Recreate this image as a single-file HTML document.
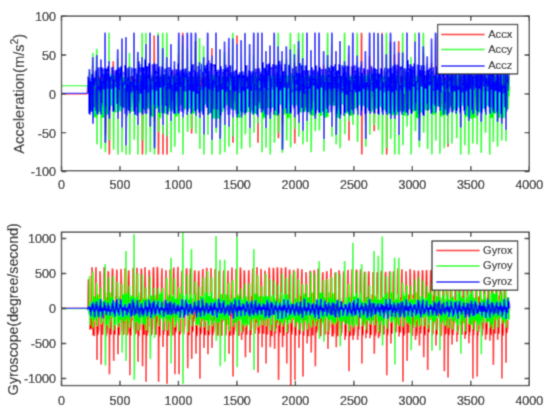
<!DOCTYPE html>
<html><head><meta charset="utf-8"><style>
html,body{margin:0;padding:0;background:#fff;}
svg{display:block;}
text{font-family:"Liberation Sans",Arial,sans-serif;fill:#0d0d0d;stroke:#0d0d0d;stroke-width:0.2px;}
.tk text{font-size:12.5px;}
.lg text{font-size:11.1px;}
.yl{font-size:14.2px;}
.d path{fill:none;stroke-width:1.6;vector-effect:non-scaling-stroke;stroke-linejoin:miter;}
</style></head><body>
<svg width="550" height="410" viewBox="0 0 550 410">
<defs>
<filter id="bl" x="0" y="0" width="550" height="410" filterUnits="userSpaceOnUse"><feConvolveMatrix order="3" kernelMatrix="1 4 1 4 16 4 1 4 1" divisor="36" edgeMode="duplicate"/></filter>
<clipPath id="c1"><rect x="61.5" y="16.1" width="467.79999999999995" height="154.6"/></clipPath>
<clipPath id="c2"><rect x="61.5" y="232.15" width="467.79999999999995" height="153.4"/></clipPath>
</defs>
<g filter="url(#bl)">
<rect width="550" height="410" fill="#fff"/>
<g class="d" clip-path="url(#c1)">
<path d="M1 -0.00H222" transform="translate(61.500 93.850) scale(0.11695 -0.38850)" stroke="#ff0000" style="stroke-width:1.25"/><path d="M222 0l1 14 1 0 1-3 1 7 1-7 1 7 1-7 1-2 1 9 1-7 1 2 1-4 1 6 1-7 1 9 1-2 1 15 1-12 1-48 1 2 1 13 1 33 1-8 1 10 1-7 1-3 1 4 1 3 1 5 1 0 1 1 1-17 1 4 1 7 1-12 1 9 1 9 1-3 1-11 1 17 1-3 1-10 1 14 1 9 1 36 1-29 1-95 1 2 1 24 1 52 1-24 1 23 1-13 1 18 1-11 1 13 1-5 1-26 1-1 1 0 1 22 1-20 1 12 1-15 1 36 1-2 1 2 1 1 1-22 1 14 1 4 1-2 1 4 1-4 1-7 1-10 1 8 1 13 1 35 1-28 1-68 1 1 1 12 1 56 1-10 1-3 1-31 1 15 1-4 1-2 1 5 1 5 1-2 1-21 1 50 1-18 1 18 1-17 1 13 1-32 1 24 1-36 1 36 1-6 1-11 1-21 1 40 1-8 1 11 1-30 1-11 1 48 1-23 1 17 1-16 1-9 1-36 1 1 1 11 1 33 1-6 1 10 1 7 1-18 1 4 1-3 1-8 1 23 1-34 1 37 1-20 1-20 1 13 1 30 1 7 1-21 1-21 1 30 1-37 1 0 1 28 1 11 1-19 1 24 1-14 1-25 1 4 1 8 1-10 1 42 1 27 1-29 1-149 1 6 1 48 1 47 1 25 1-20 1 18 1 14 1-37 1 5 1 3 1-7 1 16 1 18 1-30 1 28 1-7 1 16 1-42 1 24 1 1 1 25 1-50 1 21 1 19 1-40 1 41 1-27 1 36 1 0 1-11 1 2 1 34 1-27 1-198 1 8 1 70 1 122 1-30 1 13 1 17 1-9 1-29 1 38 1-32 1 26 1-41 1 0 1 47 1-1 1-32 1 25 1-18 1 19 1-13 1-10 1 8 1 6 1-6 1-19 1 24 1-5 1-28 1 0 1 13 1 37 1-36 1 34 1 42 1-34 1-85 1 1 1 16 1 31 1 31 1-35 1-8 1-7 1 10 1 13 1-13 1-10 1 0 1 37 1 3 1-4 1 8 1-18 1 0 1 24 1-50 1 15 1 7 1 28 1-18 1 0 1-15 1 33 1-28 1 28 1-34 1-16 1 16 1-13 1 25 1 22 1-18 1-81 1 3 1 25 1 36 1 34 1 1 1-5 1 5 1-2 1-48 1 50 1-37 1 7 1 30 1-14 1-29 1 38 1-20 1 5 1 0 1 16 1-9 1-36 1 39 1-29 1 34 1-17 1-9 1 2 1 3 1-13 1 39 1 0 1 9 1 52 1-42 1-99 1 2 1 16 1 26 1 21 1-29 1-4 1 43 1 1 1-31 1 16 1 12 1-42 1 7 1-7 1 45 1-7 1-21 1-10 1-6 1 20 1 18 1-23 1 33 1-10 1 2 1-42 1 50 1-17 1-20 1 35 1-1 1 40 1-32 1-140 1 5 1 41 1 58 1-15 1 43 1-7 1 4 1-5 1-15 1 14 1-38 1 35 1-35 1 0 1 42 1-42 1 0 1 15 1-7 1 29 1-19 1 26 1-44 1 50 1-48 1 29 1 19 1-23 1 2 1-9 1-55 1 2 1 18 1 41 1 5 1-31 1 37 1-37 1 30 1 3 1 17 1-39 1 0 1-2 1 41 1 0 1 0 1-11 1-22 1-14 1 47 1 0 1-47 1-3 1 48 1-48 1 0 1 30 1-12 1 20 1 9 1 0 1-18 1-8 1 17 1-1 1 0 1 24 1-22 1-56 1 1 1 11 1 46 1-5 1 4 1-38 1 15 1-17 1 39 1-28 1 33 1-37 1 30 1 1 1 7 1-19 1-11 1-15 1 41 1-40 1-1 1 5 1 11 1 5 1 23 1-44 1 0 1 40 1-2 1 32 1-26 1-102 1 3 1 29 1 38 1-12 1 45 1 2 1-23 1 26 1-36 1 3 1 11 1-4 1-15 1 18 1-13 1-12 1 48 1-16 1 8 1 4 1-16 1-21 1 4 1-13 1 50 1-42 1 10 1 24 1-13 1-14 1 35 1-21 1-29 1 15 1 35 1 23 1-27 1-196 1 8 1 70 1 90 1 23 1-24 1 24 1 8 1-8 1-24 1 7 1 24 1-3 1-12 1-25 1 42 1-1 1-23 1-1 1 25 1-38 1-11 1 36 1-36 1 34 1 3 1 12 1-47 1 50 1 47 1-38 1-94 1 1 1 18 1 63 1-44 1 39 1 5 1-36 1 30 1-40 1 32 1-28 1 1 1 13 1 1 1-19 1 6 1 14 1 21 1-39 1 24 1-1 1-20 1 39 1-18 1-26 1 23 1 9 1 12 1-10 1 4 1-42 1 19 1 45 1 58 1-46 1-128 1 3 1 26 1 23 1 31 1-19 1 19 1-31 1 22 1 20 1-32 1-10 1 42 1-29 1 22 1-32 1 47 1-36 1-13 1 49 1 0 1-34 1 5 1 8 1-27 1 22 1-17 1-7 1 29 1 10 1-30 1 37 1-34 1 69 1 75 1-60 1-160 1 3 1 32 1 46 1-17 1 21 1-21 1 15 1 30 1-33 1-12 1 50 1-30 1 16 1-17 1-18 1-1 1 8 1 13 1 27 1-25 1 22 1 5 1-29 1-5 1 21 1-21 1 1 1 33 1-41 1 41 1-24 1 20 1-16 1-180 1 8 1 70 1 91 1 16 1-35 1 10 1 17 1-27 1 21 1 4 1 16 1 2 1 7 1 0 1-49 1 41 1 8 1-50 1 0 1 30 1-30 1 0 1 4 1 16 1 5 1-3 1-14 1 35 1-37 1 23 1-24 1 29 1 16 1-31 1 1 1 14 1-11 1-173 1 8 1 70 1 90 1 23 1-8 1 17 1-50 1 47 1-9 1 6 1-13 1-20 1 4 1 28 1-7 1-6 1-24 1 14 1-20 1 41 1-16 1-24 1 9 1 30 1 10 1-5 1-41 1 1 1 27 1 17 1-16 1-11 1 16 1-13 1-175 1 8 1 70 1 111 1-10 1-29 1 50 1-11 1 11 1 0 1-49 1 24 1-25 1 43 1-43 1 17 1-14 1 25 1 6 1-34 1 0 1 5 1 12 1 5 1-22 1 50 1-41 1-9 1 29 1 10 1-19 1 14 1 0 1 28 1-22 1-83 1 2 1 22 1 19 1 3 1-3 1 0 1 45 1-2 1 7 1 0 1-28 1-13 1 41 1-28 1 27 1-20 1-25 1 14 1-18 1 50 1-49 1 6 1-6 1 3 1 10 1-14 1 48 1 0 1 19 1-24 1-72 1 2 1 15 1 18 1 15 1-4 1 20 1 11 1-37 1 12 1 23 1-13 1-11 1-13 1 30 1-9 1 8 1-12 1 5 1-29 1 46 1-33 1-3 1 38 1-25 1-18 1 23 1-6 1-16 1-3 1 30 1-34 1 41 1 15 1 50 1-40 1-94 1 2 1 15 1 34 1 1 1 1 1 24 1-25 1 12 1-2 1 15 1-17 1-33 1 34 1-27 1 25 1 17 1-39 1-10 1 36 1-1 1 7 1-32 1-9 1 3 1 37 1-6 1-31 1 23 1-16 1-11 1 84 1 79 1-5 1-199 1 2 1 21 1 49 1-3 1 22 1-24 1 5 1 5 1-9 1-27 1 5 1 45 1-24 1 23 1 1 1-12 1-16 1-22 1 40 1 6 1 1 1-47 1 12 1-1 1 23 1-33 1 10 1-11 1 39 1-2 1-37 1 4 1 43 1-12 1 5 1-1 1-22 1 11 1-9 1-52 1 2 1 17 1 54 1-35 1-5 1 30 1-21 1 17 1 18 1-41 1 30 1 17 1-7 1-43 1 31 1 19 1-39 1 8 1 31 1-30 1-6 1-6 1 42 1-6 1-27 1-12 1-5 1 19 1 4 1 26 1-16 1-4 1-9 1-116 1 5 1 46 1 69 1 5 1 21 1-8 1-23 1-19 1 36 1 13 1-49 1 44 1 3 1-8 1 6 1-4 1-25 1-11 1 14 1 16 1-19 1 33 1-49 1 25 1-16 1 5 1 30 1-18 1 7 1-4 1 2 1-11 1 54 1 68 1-54 1-102 1 1 1 9 1 15 1-10 1 45 1-40 1 42 1 2 1-2 1 2 1-33 1 9 1-5 1 27 1-29 1 7 1-2 1 13 1-17 1 30 1-48 1 3 1 17 1 3 1 15 1-13 1-27 1 23 1-14 1 41 1-20 1 25 1-20 1-65 1 2 1 16 1 12 1 21 1 22 1-33 1 15 1 1 1 6 1 17 1-43 1-4 1 45 1-27 1 15 1-15 1 13 1-14 1-16 1 42 1-13 1-5 1 19 1-2 1-17 1-27 1 31 1-3 1 14 1-6 1-3 1-14 1 12 1-10 1-108 1 4 1 42 1 91 1-5 1 2 1-21 1 1 1-15 1 12 1 26 1-3 1 3 1-35 1 35 1-50 1 12 1 38 1-29 1-13 1-2 1 44 1 0 1-41 1 1 1 5 1-10 1 2 1-7 1 45 1-7 1 2 1 10 1-17 1-56 1 1 1 13 1 9 1 28 1 22 1-22 1-6 1 11 1-33 1 0 1 0 1 23 1 0 1 0 1 4 1 6 1-33 1 40 1-26 1-9 1 2 1-7 1 22 1-16 1 44 1-26 1-1 1 4 1 9 1 14 1-49 1-1 1 65 1 59 1-47 1-173 1 6 1 45 1 74 1 21 1-2 1-32 1-14 1-2 1 18 1-8 1 15 1 15 1-2 1-11 1 20 1 3 1 0 1-30 1 30 1-32 1 30 1-26 1-5 1 7 1-24 1 18 1 11 1 0 1 8 1 13 1-34 1-16 1 52 1 46 1-37 1-105 1 3 1 22 1 69 1-50 1 28 1 11 1 4 1-25 1 32 1-50 1 47 1-5 1-42 1 25 1 5 1 0 1 19 1-14 1 13 1-24 1-19 1 17 1-11 1-10 1 34 1-18 1 33 1-50 1 0 1 0 1 42 1 14 1-20 1-106 1 3 1 35 1 40 1 19 1-20 1 6 1-7 1-1 1 5 1 35 1-36 1 5 1 12 1-16 1 3 1-13 1 14 1 6 1-20 1 38 1-38 1 50 1-28 1 13 1 15 1-3 1-47 1 23 1-20 1 35 1-38 1 20 1 3 1 23 1 2 1-14 1-1 1-11 1-60 1 2 1 20 1 31 1 12 1-10 1 11 1 2 1 0 1 19 1-35 1 2 1-9 1 33 1 4 1-31 1 12 1-11 1 9 1-1 1 28 1-11 1-31 1 2 1 25 1 10 1-25 1 30 1-5 1-31 1-14 1 40 1 0 1 25 1 59 1-47 1-118 1 2 1 22 1 41 1-16 1 27 1 7 1-42 1 12 1 13 1 23 1-43 1-5 1 34 1-8 1-17 1 29 1-2 1-36 1 50 1-31 1 23 1-9 1 8 1-41 1 41 1-23 1 32 1-4 1-9 1-21 1 15 1 25 1-20 1-156 1 6 1 57 1 63 1 15 1 29 1-13 1-31 1 44 1 0 1-50 1 40 1-24 1 17 1-33 1 18 1 32 1-32 1-9 1 20 1-3 1-1 1-19 1 14 1 30 1-36 1 16 1 20 1 0 1 0 1-11 1-26 1 5 1 63 1 75 1-60 1-129 1 2 1 17 1 54 1-40 1 50 1-12 1-8 1-30 1 50 1 0 1-49 1 18 1-19 1 0 1 33 1-25 1 16 1-24 1 38 1 0 1-29 1 26 1-32 1 14 1 33 1 0 1 0 1-42 1 42 1-25 1-15 1 32 1-6 1-6 1 24 1-19 1-61 1 2 1 14 1 60 1 0 1-13 1-7 1-19 1 5 1-6 1 3 1 2 1-15 1 12 1-1 1-11 1 39 1-39 1 3 1 7 1 24 1-33 1 49 1-42 1 42 1-41 1 29 1-5 1-18 1-13 1 45 1 41 1-33 1-83 1 1 1 16 1 40 1 21 1-13 1-18 1-9 1 16 1-9 1 25 1-25 1 33 1-8 1-42 1 19 1-4 1-14 1 29 1-30 1 0 1 0 1 47 1-17 1 4 1-10 1 23 1-24 1-10 1 17 1-22 1 14 1-9 1-13 1 41 1-16 1 20 1-16 1-88 1 3 1 30 1 75 1-29 1 10 1-18 1-1 1 11 1-5 1 29 1-46 1 21 1 17 1 11 1-49 1 35 1 5 1 10 1-20 1 20 1-47 1 40 1-39 1 25 1-15 1 32 1-24 1-22 1 5 1 20 1 21 1 4 1 17 1-24 1-66 1 1 1 13 1 18 1 25 1-6 1 5 1-21 1 22 1-6 1-4 1 12 1-4 1-19 1 9 1 20 1-42 1 0 1 0 1 12 1 3 1 4 1 4 1 8 1 12 1-39 1 30 1-23 1 6 1 16 1-28 1 10 1 29 1 38 1-31 1-171 1 6 1 57 1 61 1 8 1 38 1-50 1 33 1-7 1-19 1-7 1 24 1 0 1 3 1 10 1-14 1 1 1 6 1 1 1-21 1-5 1 36 1-41 1 27 1-14 1 34 1-11 1-19 1-8 1 1 1 29 1-16 1 26 1 44 1-35 1-84 1 1 1 15 1 28 1 25 1-43 1 0 1 10 1 35 1-42 1 39 1-23 1-9 1 30 1 1 1-8 1 6 1-34 1 45 1-15 1-35 1 37 1-20 1-9 1 42 1-40 1 39 1-35 1-14 1 7 1-1 1 31 1 1 1-13 1-87 1 4 1 30 1 73 1-3 1-22 1 23 1-41 1 0 1 37 1-4 1 10 1-2 1-7 1 14 1-43 1 43 1-13 1 5 1 8 1-22 1-26 1-2 1 25 1 25 1-25 1 12 1-9 1-2 1-20 1 28 1-32 1-2 1 17 1 11 1-9 1-60 1 2 1 21 1 29 1 15 1 1 1 23 1-35 1 18 1-17 1 24 1-7 1 17 1-43 1-7 1 48 1-27 1-1 1 22 1-8 1-8 1 10 1 0 1 8 1-36 1 37 1 4 1-20 1-28 1 38 1-27 1 24 1-14 1 30 1 45 1-36 1-74 1 1 1 9 1 35 1 0 1 18 1-30 1 14 1-10 1 26 1-37 1-13 1 29 1 11 1-14 1 24 1-23 1-12 1-15 1 38 1 10 1-9 1 7 1 4 1-40 1-10 1 6 1 17 1 27 1-19 1-31 1 21 1 11 1-11 1-129 1 6 1 51 1 101 1-14 1 7 1-2 1-1 1-29 1 8 1 3 1 4 1-2 1-1 1-23 1 0 1 16 1 31 1-29 1 32 1-50 1 7 1 43 1 0 1-16 1-22 1 14 1 20 1 4 1-34 1 18 1 17 1 45 1-36 1-133 1 4 1 35 1 34 1 16 1 25 1-29 1 23 1-2 1 8 1-7 1 16 1-19 1 19 1-7 1-7 1-6 1 1 1 4 1-6 1-29 1 40 1-26 1 15 1-14 1 29 1 6 1-14 1 14 1-10 1-10 1 9 1-34 1 43 1 6 1-19 1-73 1 2 1 20 1 66 1-49 1 4 1 45 1-18 1 3 1-18 1 22 1-8 1-17 1 29 1 0 1-21 1 16 1-38 1 30 1 2 1-29 1 39 1 2 1-44 1 1 1 3 1 1 1 45 1-50 1 33 1 17 1-8 1 36 1-29 1-73 1 1 1 14 1 13 1 41 1 5 1-33 1-17 1 22 1-20 1 28 1-5 1-2 1 27 1-7 1-16 1 23 1-26 1-24 1 4 1-4 1 47 1-40 1 24 1 5 1 10 1-32 1 36 1-27 1 6 1 21 1-17 1 13 1 40 1-32 1-176 1 6 1 58 1 72 1 11 1-5 1-20 1 0 1 32 1-20 1 38 1-3 1-10 1-37 1 4 1 38 1-33 1 34 1 5 1-43 1 34 1-1 1-21 1 26 1-43 1 50 1-3 1-24 1-23 1 30 1 6 1-11 1 38 1 58 1-46 1-113 1 2 1 20 1 66 1-24 1-20 1-6 1 21 1-5 1 27 1 3 1-23 1 22 1-2 1-20 1 27 1-16 1 16 1-1 1-45 1 36 1-28 1-10 1 30 1 15 1-21 1 15 1-20 1 29 1-16 1-20 1-4 1 27 1 15 1-18 1-85 1 3 1 25 1 51 1 14 1 6 1-4 1 6 1-26 1-4 1-20 1 29 1-8 1-2 1-4 1 13 1-15 1 15 1 20 1-24 1-20 1 45 1-27 1-7 1 5 1 14 1-34 1 15 1 24 1-22 1 33 1-39 1 33 1 32 1 70 1-56 1-143 1 3 1 27 1 32 1 16 1 1 1 1 1 21 1 2 1-14 1-34 1 47 1-49 1 50 1-22 1 0 1-20 1-4 1-4 1 0 1 20 1 30 1-12 1 3 1-32 1 29 1-6 1-17 1 20 1-20 1 7 1 14 1-12 1 18 1-15 1-60 1 2 1 18 1 23 1-10 1 0 1 9 1 36 1-34 1 39 1-15 1-15 1 30 1-5 1-4 1-31 1 34 1-16 1 19 1-46 1-1 1 27 1-17 1-3 1 33 1-3 1-35 1 30 1 18 1-50 1 16 1 6 1 35 1 50 1-40 1-105 1 2 1 20 1 16 1 0 1 4 1 11 1 1 1-16 1 13 1 22 1-25 1 13 1-23 1 31 1-7 1-12 1 7 1-17 1 23 1-23 1 25 1-6 1-17 1 39 1-43 1 21 1-8 1-3 1 22 1-16 1-3 1 61 1 68 1-55 1-114 1 1 1 15 1 19 1 1 1 31 1 3 1-27 1-16 1 35 1-18 1 9 1-13 1 37 1-43 1 26 1 16 1-40 1-7 1 23 1 16 1-23 1-18 1 12 1 25 1-12 1 13 1 12 1-23 1 15 1 2 1 6 1-27 1 17 1-40 1 43 1 37 1-30 1-146 1 5 1 46 1 95 1 0 1-27 1 15 1-32 1-2 1 45 1-44 1 44 1-49 1 37 1 2 1-36 1 47 1 0 1-8 1-9 1 14 1-47 1 33 1-33 1 19 1 23 1-31 1 39 1-42 1 1 1 9 1 24 1 36 1-29 1-69 1 1 1 12 1 7 1 7 1-7 1 0 1 48 1-36 1 5 1 3 1 30 1 0 1-37 1 28 1-41 1 1 1 37 1-18 1-11 1 31 1-39 1 23 1-15 1 33 1-2 1-5 1-9 1-11 1 3 1-1 1 23 1-25 1 56 1 64 1-51 1-132 1 3 1 24 1 46 1-18 1-6 1 21 1-18 1-4 1 0 1 50 1-7 1-6 1-37 1 30 1-27 1 18 1 29 1-8 1-40 1 13 1 17 1-32 1 46 1-42 1 12 1 34 1-47 1-3 1 16 1 34 1 0 1-21 1 21 1 2 1-18 1-74 1 2 1 21 1 56 1-17 1-22 1 32 1 9 1-38 1 38 1-35 1 33 1 11 1-50 1 14 1 24 1-15 1-23 1 50 1-8 1-20 1-6 1 33 1-27 1-14 1 13 1-15 1 44 1-44 1 41 1-23 1 13 1 32 1-25 1-78 1 2 1 18 1 40 1 24 1-44 1 21 1 19 1-10 1-14 1 28 1-40 1 40 1-21 1-22 1 40 1-30 1 29 1 4 1-10 1 0 1-10 1 20 1-1 1-23 1-20 1 0 1 3 1 23 1 11 1-43 1 32 1 11 1-30 1 37 1-6 1-11 1 25 1-21 1-65 1 2 1 15 1 23 1 10 1-1 1 17 1-8 1-1 1-26 1 16 1-7 1-12 1 5 1 45 1-44 1 44 1-14 1-18 1-11 1-5 1 10 1-12 1 30 1 4 1-5 1 21 1-16 1-5 1-5 1-9 1 5 1 26 1 12 1 51 1-41 1-182 1 6 1 54 1 94 1-40 1 3 1 5 1 25 1 10 1-41 1 18 1 18 1 5 1-18 1 0 1 25 1-7 1-41 1 48 1-34 1-6 1 15 1 0 1 3 1 4 1-12 1-13 1 10 1-8 1-2 1-7 1 50 1 34 1-31 1-79 1 1 1 15 1 52 1-42 1 27 1-20 1 43 1-31 1 2 1 2 1 1 1 17 1-2 1 11 1-15 1 15 1-10 1-40 1 34 1-8 1 17 1-10 1 10 1-42 1 14 1 4 1-9 1 6 1 20 1-21 1 35 1-2 1-48 1 20 1-20 1 50 1 16 1-24 1-67 1 1 1 14 1 44 1-13 1 5 1-8 1-8 1 33 1-9 1 13 1-19 1 5 1 11 1-23 1 9 1 20 1-39 1 6 1-17 1 28 1 20 1-7 1-18 1-11 1-12 1 28 1-12 1-16 1 0 1 0 1 5 1 35 1 44 1 79 1-5 1-308 1 8 1 70 1 84 1-12 1 14 1-8 1 12 1 28 1 4 1-19 1-2 1 2 1-7 1 4 1-4 1-7 1 33 1-3 1-20 1 14 1-36 1 45 1-19 1-4 1-6 1-19 1-2 1 12 1 2 1 3 1 19 1 30 1-24 1-107 1 4 1 32 1 54 1-17 1 3 1 4 1 7 1-16 1-6 1 41 1-9 1 9 1-21 1-3 1-8 1-9 1 20 1-20 1 21 1 10 1-31 1 0 1 20 1-12 1 4 1 4 1 34 1-28 1-22 1 41 1 0 1 13 1 49 1-39 1-100 1 2 1 19 1 44 1-8 1-3 1 32 1-23 1 11 1 12 1-39 1 11 1 16 1 7 1 5 1-16 1 2 1-29 1-5 1 36 1-24 1 32 1-32 1 9 1-17 1 12 1 15 1-21 1 30 1-32 1 10 1 11 1-31 1 45 1-34 1 46 1 52 1-41 1-158 1 5 1 43 1 63 1 4 1 7 1-22 1 26 1-17 1-2 1 33 1 0 1-28 1-6 1 30 1-46 1 11 1-3 1-8 1 29 1 2 1-8 1 15 1-18 1 12 1 13 1-39 1 44 1-31 1-19 1 38 1-3 1-3 1 18 1 41 1-34 1-85 1 2 1 15 1 61 1-50 1 50 1-50 1 41 1 9 1-10 1-35 1 22 1-25 1-2 1 0 1 4 1-1 1 23 1-11 1 12 1-17 1-7 1 43 1-35 1 15 1 24 1-17 1-14 1-7 1 31 1 7 1 34 1 79 1-5 1-192 1 2 1 18 1 41 1-18 1 9 1-5 1 2 1 35 1-26 1 4 1-7 1-21 1 26 1-2 1-24 1 32 1-22 1-1 1 9 1-16 1 46 1-8 1-3 1-5 1-26 1 3 1 19 1-9 1 4 1-11 1-6 1 34 1-9 1 11 1-15 1-177 1 8 1 70 1 115 1-35 1 24 1-31 1 9 1 9 1 0 1 21 1-16 1 20 1-9 1-10 1 21 1-39 1-4 1 17 1 16 1-28 1 39 1-4 1-22 1 29 1-9 1-28 1 13 1 2 1 2 1 8 1-32 1 68 1 67 1-54 1-107 1 2 1 11 1 9 1-2 1 24 1-23 1 9 1 26 1-20 1 3 1-11 1 15 1 1 1 4 1-28 1 29 1-2 1 23 1-43 1 16 1-1 1 23 1-3 1 6 1-3 1-41 1 2 1 44 1-15 1-8 1 30 1 50 1-40 1-88 1 1 1 12 1 30 1 28 1-6 1-27 1-17 1 2 1 48 1-44 1 7 1 8 1 29 1-1 1-49 1 50 1 0 1-42 1 42 1-44 1 12 1 7 1 19 1-2 1 8 1-37 1 37 1-8 1-42 1 26 1-8 1-12 1 68 1 68 1-54 1-157 1 4 1 34 1 57 1 23 1 1 1-10 1-40 1 18 1 32 1-5 1 5 1-3 1-40 1 32 1 10 1 1 1-10 1-39 1-1 1 50 1-36 1 25 1 1 1 2 1-37 1 17 1-11 1 17 1 15 1-43 1 36 1 31 1-24 1-66 1 2 1 13 1 16 1 10 1 20 1 4 1 8 1-38 1-3 1 41 1 0 1-36 1 33 1-39 1 41 1-41 1 25 1-33 1 38 1-34 1 6 1 30 1-5 1-11 1 0 1-13 1 29 1-26 1 34 1 2 1-4 1 4 1 11 1 55 1-44 1-92 1 1 1 12 1 34 1-21 1 3 1 9 1 21 1-16 1 18 1 9 1-50 1 49 1 1 1-24 1 2 1-9 1-11 1 9 1 26 1-43 1 35 1 5 1 5 1-25 1-16 1 1 1 41 1-40 1 30 1-31 1 31 1-16 1 15 1-12 1-41 1 1 1 11 1 56 1-15 1 6 1 8 1-14 1-19 1 8 1 26 1-26 1-19 1 22 1-14 1 10 1 21 1-22 1 28 1-41 1 10 1-16 1 13 1 20 1 1 1-24 1-6 1-7 1 23 1 3 1-21 1 18 1 22 1-18 1 20 1-16 1-65 1 2 1 18 1 46 1 18 1-41 1 41 1-29 1-16 1-5 1 31 1-28 1 47 1-35 1 24 1-24 1 8 1-19 1-4 1 8 1 14 1-13 1-9 1 19 1 22 1-13 1 2 1-27 1-3 1 49 1-27 1 11 1 28 1-22 1-95 1 4 1 27 1 75 1 0 1-40 1 36 1-25 1-16 1-5 1 15 1 23 1-8 1-9 1 18 1-22 1 15 1-6 1-26 1 13 1 12 1-11 1 26 1-12 1-28 1 42 1-1 1 9 1-33 1 10 1 10 1-1 1 3 1 20 1 52 1-42 1-89 1 1 1 12 1 7 1 4 1 46 1-48 1 28 1-7 1 0 1 6 1 6 1 12 1 3 1-10 1-36 1 21 1-4 1 10 1-31 1 0 1 7 1 31 1-5 1 1 1 16 1 0 1-14 1-29 1 21 1-28 1 27 1 9 1-12 1-51 1 2 1 15 1 11 1-1 1 22 1-17 1-5 1 25 1 25 1-26 1-24 1 0 1 0 1 0 1 11 1 27 1-8 1-14 1-3 1 12 1-25 1 41 1-31 1 40 1-5 1 5 1-29 1 8 1 21 1-50 1 16 1 33 1-3 1 40 1-32 1-88 1 2 1 18 1 64 1-8 1-6 1-11 1-20 1 2 1-4 1-3 1 47 1-47 1 25 1-19 1-6 1 30 1 20 1 0 1-45 1-5 1 34 1-33 1 6 1 39 1 4 1-33 1 0 1-16 1 40 1-3 1-5 1 27 1-21 1-61 1 1 1 13 1 8 1 50 1-25 1-14 1 1 1 24 1-19 1-1 1 0 1 34 1 0 1-3 1-22 1-25 1 48 1-18 1-22 1-2 1 24 1 5 1-27 1 7 1 7 1 2 1 16 1-37 1-3 1 31 1-25 1 47 1 46 1-37 1-80 1 2 1 10 1 37 1 0 1 5 1-17 1 31 1-12 1-24 1-14 1 41 1-2 1-32 1 30 1-33 1-4 1 38 1-19 1-19 1 3 1 2 1 26 1 3 1-27 1 6 1 29 1-36 1 43 1-3 1 4 1-11 1-22 1-11 1 44 1-10 1 33 1-27 1-67 1 1 1 12 1 47 1 11 1-26 1 16 1-35 1 2 1 9 1 26 1-27 1 26 1 2 1-23 1 29 1-9 1-29 1 21 1 1 1 6 1-39 1 20 1 5 1 16 1 0 1-35 1 25 1 11 1 11 1 47 1-38 1-192 1 7 1 61 1 97 1 0 1 15 1-49 1 49 1 0 1-50 1 0 1 34 1-30 1 19 1 3 1 24 1-41 1 24 1-28 1 3 1-7 1 49 1-30 1-10 1 28 1-28 1 40 1-50 1 50 1 0 1-6 1-7 1 31 1-25 1-71 1 2 1 15 1 13 1 7 1 27 1-36 1 42 1-42 1 18 1-10 1-8 1 21 1-21 1 12 1 25 1-37 1 41 1 8 1-40 1-9 1 49 1 1 1-44 1 10 1 6 1-3 1-8 1 11 1-15 1 43 1-50 1 42 1 5 1 1 1-48 1 26 1 17 1 37 1-29 1-63 1 1 1 8 1 3 1 31 1 2 1 11 1 2 1-42 1 46 1-26 1 9 1 17 1-48 1 40 1-27 1 8 1-22 1 49 1-7 1-16 1 10 1-36 1 4 1 30 1-24 1 28 1 6 1-6 1 6 1-44 1 31 1 21 1-19 1-79 1 2 1 23 1 70 1-9 1 9 1-18 1-7 1-25 1 16 1-16 1 47 1-1 1-8 1 3 1 5 1-26 1-9 1 4 1 22 1-1 1 10 1-6 1-23 1 15 1-5 1 23 1-37 1 19 1-31 1 30 1-22 1 16 1 20 1-16 1-45 1 1 1 10 1 5 1 34 1 15 1-21 1-12 1 32 1-44 1 30 1 16 1-9 1 5 1-15 1-22 1 32 1 2 1 7 1-11 1 11 1-14 1 14 1-27 1-23 1 3 1 47 1-49 1 7 1 39 1-47 1 39 1 7 1-16 1-56 1 2 1 14 1 10 1 4 1 42 1 1 1-45 1 40 1-41 1 3 1 24 1-28 1 49 1-25 1-2 1 16 1 12 1 0 1-25 1 12 1 2 1-9 1-2 1 21 1-35 1 21 1 9 1-44 1 48 1-32 1 26 1-3 1-13 1-51 1 2 1 14 1 20 1-2 1 35 1-39 1-5 1 23 1-18 1 12 1 33 1-50 1 34 1-12 1 26 1-30 1 28 1-34 1-8 1 6 1-8 1 48 1-22 1-10 1-15 1-3 1 40 1 8 1-40 1 21 1-12 1-7 1 29 1-15 1 16 1 34 1-27 1-73 1 2 1 14 1 12 1 16 1-18 1 0 1 50 1 0 1-50 1 36 1-33 1 8 1 7 1-12 1-6 1 36 1 14 1 0 1-50 1 0 1 38 1 3 1-21 1-13 1 26 1-33 1 28 1-28 1 49 1-23 1-18 1 37 1 39 1-31 1-88 1 2 1 19 1 64 1-16 1-20 1 25 1-7 1-17 1-6 1-8 1 12 1 37 1-16 1 14 1-2 1 4 1-11 1-34 1-5 1 33 1 5 1-17 1-14 1-1 1 2 1 42 1-20 1 11 1 2 1-31 1 29 1 9 1 3 1 47 1-37 1-89 1 2 1 14 1 47 1 13 1-42 1 14 1-14 1 21 1 4 1-8 1-25 1 0 1 32 1-32 1 48 1-48 1 37 1 0 1-2 1-35 1 49 1-49 1 50 1-50 1 23 1 24 1-1 1-25 1-19 1 31 1 3 1-10 1 26 1 46 1-37 1-93 1 2 1 17 1 56 1-34 1 7 1 7 1-1 1 25 1-34 1 15 1-5 1 1 1 12 1-25 1 16 1-27 1 24 1 15 1-28 1 34 1-9 1-36 1 41 1-16 1 24 1 1 1-45 1 35 1 34 1-27 1-73 1 2 1 14 1 39 1 20 1-27 1 24 1-46 1 26 1-1 1-24 1 29 1-22 1 33 1-4 1 11 1 2 1-34 1 33 1-43 1-5 1-1 1 10 1-9 1 18 1 3 1-22 1 21 1 26 1-2 1-24 1-21 1 36 1 10 1 40 1-32 1-93 1 3 1 20 1 18 1 38 1 9 1 1 1-1 1-4 1-18 1-1 1-20 1-1 1 0 1 16 1-19 1 43 1-4 1-41 1 10 1 35 1-42 1 44 1-28 1-12 1-5 1 26 1 18 1-7 1-11 1-2 1 24 1 0 1-32 1 12 1-9 1-82 1 4 1 30 1 27 1 7 1-1 1 22 1 4 1 18 1-16 1-23 1-11 1 22 1-22 1 18 1 19 1-9 1-22 1 13 1 31 1-33 1 25 1-30 1 38 1-4 1 4 1-6 1 6 1-1 1-17 1 7 1-19 1 30 1-13 1 32 1-25 1-108 1 3 1 32 1 29 1 42 1-25 1-14 1 3 1-1 1 7 1-12 1 0 1 39 1 11 1-11 1-3 1-14 1-18 1 46 1-43 1 30 1-14 1 24 1-4 1-14 1-29 1 49 1-41 1 15 1-7 1 9" transform="translate(61.500 93.850) scale(0.11695 -0.38850)" stroke="#ff0000" />
<path d="M1 21.20H222" transform="translate(61.500 93.850) scale(0.11695 -0.38850)" stroke="#00ff00" style="stroke-width:1.25"/><path d="M222 21l1-7 1 1 1-1 1 3 1-5 1 5 1 4 1-4 1 4 1 1 1-5 1-2 1 7 1-5 1 5 1 6 1 28 1-22 1-84 1 2 1 23 1 36 1 0 1 10 1-9 1 8 1 3 1-2 1-6 1 2 1 10 1-46 1-15 1-4 1 12 1-4 1-8 1 4 1 15 1 41 1-14 1 23 1-13 1 35 1 53 1-42 1-124 1 3 1 27 1 48 1-4 1 4 1 0 1 2 1-17 1 31 1-32 1 9 1 9 1 6 1-57 1-24 1-6 1 18 1-6 1-12 1 6 1 24 1 39 1 33 1-18 1-11 1 30 1-14 1-11 1-4 1 8 1 37 1 58 1-46 1-200 1 6 1 59 1 74 1-2 1-4 1 5 1-6 1 25 1 21 1-10 1-23 1-40 1-20 1-5 1 15 1-5 1-10 1 5 1 20 1 60 1-13 1 5 1-25 1 31 1-29 1 23 1 12 1-21 1 13 1-8 1-28 1 46 1-5 1 37 1-29 1-186 1 7 1 64 1 115 1-24 1 17 1 3 1-20 1 7 1 3 1-30 1-6 1 33 1-23 1-35 1-25 1-6 1 19 1-7 1-12 1 6 1 25 1 37 1-11 1 14 1-15 1 48 1-31 1 18 1 19 1-6 1-38 1 29 1 15 1 22 1-28 1-192 1 8 1 67 1 73 1 2 1-6 1 42 1-37 1 48 1-22 1 22 1-1 1-50 1-23 1-21 1-5 1 16 1-6 1-10 1 5 1 21 1 22 1 37 1-19 1 3 1 7 1 8 1-37 1 43 1-18 1 2 1 57 1 79 1-5 1-272 1 6 1 54 1 108 1-54 1 10 1 44 1 0 1 0 1-15 1 9 1-48 1 47 1-57 1-13 1-3 1 9 1-3 1-6 1 3 1 13 1 10 1 1 1 15 1 19 1-29 1 24 1-16 1 40 1-54 1 27 1-26 1 46 1-10 1-1 1-12 1-162 1 7 1 65 1 71 1 13 1-18 1 54 1-34 1-10 1-10 1 25 1-9 1-16 1 41 1-59 1-20 1-4 1 14 1-5 1-9 1 4 1 20 1 26 1 46 1 0 1-33 1 23 1-12 1 15 1-28 1 12 1-25 1 3 1 15 1 28 1 46 1-37 1-211 1 8 1 70 1 116 1-29 1-14 1 5 1-6 1 36 1-22 1 40 1-21 1-14 1-36 1-18 1-4 1 13 1-4 1-9 1 4 1 18 1 22 1 39 1-2 1-11 1-24 1 47 1 0 1-22 1 5 1-18 1 1 1-16 1 61 1 59 1-47 1-221 1 8 1 67 1 79 1-1 1 9 1-17 1 32 1-33 1 23 1 27 1-43 1 26 1-10 1-34 1-14 1-4 1 11 1-4 1-7 1 4 1 14 1 63 1 2 1-16 1-36 1 35 1 1 1-27 1-8 1 35 1 7 1 40 1-32 1-203 1 8 1 70 1 102 1-10 1 13 1-21 1 37 1-41 1-8 1 23 1-23 1 0 1 39 1-52 1-16 1-4 1 12 1-4 1-8 1 4 1 16 1 33 1 13 1 21 1-54 1 10 1 37 1 12 1 53 1-42 1-220 1 8 1 70 1 98 1-2 1-15 1 2 1 33 1-2 1-38 1 18 1-22 1 25 1-42 1-18 1-5 1 14 1-4 1-10 1 5 1 18 1 45 1-22 1 16 1 21 1-31 1 0 1 42 1-40 1 19 1-33 1 24 1-4 1-4 1 37 1-40 1 65 1 71 1-57 1-204 1 6 1 53 1 90 1 1 1-3 1-7 1-17 1 14 1 10 1-28 1 24 1-42 1-14 1-3 1 10 1-3 1-7 1 3 1 14 1 11 1 25 1-17 1 12 1-8 1 42 1 0 1-53 1 17 1 35 1 47 1-37 1-213 1 8 1 70 1 80 1 46 1-39 1 32 1-2 1-10 1-7 1-23 1 14 1-37 1-20 1-5 1 15 1-5 1-10 1 5 1 20 1 58 1 14 1-7 1 1 1-2 1 8 1 0 1-54 1 23 1 31 1-40 1-4 1-10 1 12 1 24 1 48 1 79 1-5 1-272 1 6 1 54 1 65 1 39 1-22 1 20 1-34 1 38 1-12 1-38 1 41 1-58 1-17 1-4 1 13 1-4 1-9 1 4 1 17 1 62 1-47 1 31 1-22 1-9 1 32 1-5 1 8 1 49 1 79 1-5 1-308 1 8 1 70 1 106 1-27 1 22 1 14 1-3 1-7 1-10 1 17 1 12 1-65 1-16 1-4 1 12 1-4 1-8 1 4 1 16 1 13 1 24 1-19 1 4 1 45 1-1 1 1 1-25 1-3 1-18 1 12 1 25 1-18 1 27 1 17 1-26 1-189 1 8 1 67 1 113 1-44 1 54 1-13 1-41 1 0 1 31 1-13 1 21 1-3 1-59 1-24 1-6 1 18 1-6 1-12 1 6 1 24 1 26 1 33 1-36 1 7 1 27 1 20 1-44 1-6 1 0 1 9 1 13 1-2 1 30 1 14 1-25 1-193 1 8 1 70 1 100 1 25 1-2 1-21 1 4 1-26 1 0 1 26 1-20 1-14 1 27 1-40 1-15 1-4 1 12 1-4 1-8 1 4 1 15 1 13 1 36 1-17 1 13 1 14 1-46 1 0 1 34 1 20 1 30 1 79 1-5 1-250 1 5 1 44 1 68 1 10 1-27 1-8 1 37 1-23 1 7 1 29 1-21 1-55 1-25 1-6 1 19 1-7 1-12 1 6 1 25 1 65 1-34 1 49 1 0 1 0 1-8 1-16 1-28 1 14 1-3 1 41 1-36 1 13 1-13 1-3 1 69 1 79 1-5 1-256 1 5 1 47 1 47 1 53 1-11 1-6 1 6 1 1 1-5 1 15 1-6 1-68 1-20 1-6 1 16 1-5 1-11 1 6 1 20 1 54 1 5 1 15 1-8 1-46 1 32 1 20 1 1 1-17 1-30 1 29 1-14 1 63 1 79 1-5 1-262 1 6 1 49 1 77 1 13 1-38 1 19 1 32 1 0 1-27 1 27 1-16 1-54 1-18 1-5 1 14 1-5 1-9 1 5 1 18 1 53 1-36 1 11 1-12 1 28 1-2 1 12 1-19 1 35 1-54 1 7 1 47 1-15 1 34 1-27 1-190 1 8 1 67 1 100 1-27 1 10 1 4 1 8 1 20 1-10 1-18 1 36 1-53 1-16 1-16 1-4 1 12 1-4 1-8 1 4 1 16 1 37 1-6 1-16 1 30 1-30 1 12 1-7 1 34 1 2 1-14 1-157 1 7 1 61 1 83 1-17 1 23 1-11 1-11 1 35 1 14 1-5 1 1 1-73 1-23 1-6 1 17 1-5 1-12 1 6 1 23 1 59 1-26 1 7 1 37 1-27 1 15 1-15 1 10 1 9 1-46 1 0 1 25 1-3 1 53 1 68 1-55 1-182 1 5 1 45 1 62 1 12 1 8 1 16 1-18 1-16 1-13 1 13 1 24 1 10 1-37 1-26 1-12 1-3 1 9 1-3 1-6 1 3 1 12 1 57 1 6 1 0 1-6 1-20 1 2 1 24 1-52 1 29 1 38 1 63 1-50 1-232 1 8 1 70 1 72 1 0 1 27 1-27 1 14 1 40 1-28 1 26 1-52 1 49 1 5 1-68 1-16 1-4 1 12 1-4 1-8 1 4 1 16 1 25 1 18 1-29 1 54 1-51 1 51 1-13 1-23 1-17 1 51 1-12 1-21 1-19 1 41 1-41 1 63 1 58 1-46 1-167 1 5 1 44 1 47 1 34 1-24 1-14 1 46 1-46 1 28 1-13 1 14 1 20 1-63 1-15 1-4 1 12 1-4 1-8 1 4 1 15 1 65 1-45 1 29 1-6 1-3 1 25 1-44 1 38 1 9 1-54 1 48 1 43 1-34 1-141 1 4 1 41 1 39 1 4 1 50 1-29 1 4 1 22 1-30 1-10 1 32 1-11 1-52 1-21 1-5 1 15 1-5 1-10 1 5 1 21 1 20 1 6 1 22 1-14 1 39 1-3 1-27 1 8 1-28 1 36 1 6 1-12 1 40 1 68 1-54 1-183 1 5 1 46 1 77 1-4 1-28 1 10 1 26 1 3 1-11 1-25 1 16 1-33 1-17 1-4 1 13 1-4 1-9 1 4 1 17 1 67 1-33 1 33 1-38 1 33 1-19 1 9 1-31 1 1 1 39 1-9 1 40 1 72 1-58 1-228 1 7 1 64 1 104 1 15 1-22 1-11 1-21 1 14 1-14 1 0 1 0 1 0 1 25 1-41 1-18 1-5 1 14 1-5 1-9 1 5 1 18 1 29 1-13 1 25 1-4 1 33 1-2 1-52 1 46 1-10 1-24 1 56 1 62 1-50 1-230 1 8 1 70 1 126 1-1 1-41 1 31 1-42 1 20 1 10 1 16 1-24 1-32 1-11 1-3 1 9 1-3 1-6 1 3 1 11 1 35 1-13 1 1 1-6 1 11 1-5 1 37 1-27 1-19 1 18 1 31 1-20 1 28 1-23 1-139 1 5 1 48 1 73 1-2 1-17 1 20 1 1 1-27 1 23 1 3 1-3 1-44 1-20 1-5 1 15 1-5 1-10 1 5 1 20 1 74 1-3 1 3 1-16 1-24 1 23 1 0 1 0 1-8 1-8 1-11 1 39 1-23 1 12 1 17 1-20 1-185 1 8 1 70 1 88 1 32 1 6 1-49 1 32 1-37 1 18 1 22 1-31 1 45 1-80 1-25 1-7 1 19 1-6 1-13 1 7 1 25 1 31 1 6 1 24 1 19 1-42 1-12 1 45 1-39 1 20 1 0 1 14 1 14 1 12 1 61 1-49 1-172 1 5 1 45 1 85 1 13 1-48 1-3 1 6 1-4 1 49 1-45 1 8 1 12 1 0 1-55 1-25 1-7 1 19 1-6 1-13 1 7 1 25 1 26 1 15 1-15 1 31 1-31 1 6 1-1 1-5 1 24 1 32 1 50 1-40 1-216 1 8 1 70 1 122 1-49 1 6 1 39 1-43 1 17 1 29 1-41 1 10 1 20 1-27 1-28 1-19 1-5 1 14 1-4 1-10 1 5 1 19 1 56 1-38 1 22 1 31 1-40 1 16 1 24 1-50 1 21 1-24 1 32 1-33 1 0 1 17 1 43 1 54 1-43 1-215 1 8 1 67 1 123 1-4 1-50 1 14 1 40 1-26 1 8 1-34 1 30 1-23 1-18 1-12 1-3 1 9 1-3 1-6 1 3 1 12 1 9 1 2 1 19 1-10 1 30 1-8 1-23 1 2 1-1 1 28 1-3 1-28 1 18 1 19 1-15 1-160 1 7 1 61 1 90 1-6 1 5 1 21 1-31 1 36 1-49 1 3 1 47 1-30 1-2 1-34 1-15 1-4 1 11 1-3 1-8 1 4 1 15 1 59 1-26 1 15 1-14 1-22 1 28 1 26 1-26 1 26 1 30 1 79 1-5 1-262 1 6 1 49 1 103 1-25 1-29 1 0 1 7 1-4 1 20 1-22 1 40 1-56 1-17 1-5 1 13 1-4 1-9 1 5 1 17 1 18 1 39 1 12 1-54 1 9 1 40 1-10 1 10 1-11 1-38 1 9 1 44 1-2 1-17 1 27 1-22 1-189 1 8 1 70 1 101 1 9 1-14 1 7 1-7 1-18 1-4 1 43 1 2 1-20 1-52 1-25 1-6 1 19 1-6 1-13 1 6 1 25 1 62 1 13 1-10 1-40 1 2 1 12 1 16 1-24 1-1 1-5 1 44 1-44 1 54 1-13 1 35 1-28 1-184 1 7 1 64 1 71 1-6 1 0 1 18 1-3 1-4 1 14 1 4 1-19 1 44 1-34 1-39 1-19 1-5 1 14 1-4 1-10 1 5 1 19 1 19 1 53 1-49 1 50 1-52 1 24 1-2 1-9 1 69 1 79 1-5 1-256 1 5 1 47 1 99 1-53 1 18 1-18 1 54 1-12 1-10 1 20 1-24 1-19 1 4 1-31 1-19 1-4 1 14 1-5 1-9 1 4 1 19 1 52 1-15 1 8 1 9 1-29 1 5 1 29 1 13 1-6 1-48 1 25 1-25 1 1 1 31 1 25 1-20 1-169 1 7 1 62 1 112 1-40 1 6 1 39 1-36 1 36 1-4 1-44 1 48 1-73 1-20 1-5 1 15 1-5 1-10 1 5 1 20 1 31 1 5 1 12 1-11 1 33 1-9 1-19 1 8 1 17 1 6 1-48 1 33 1 17 1 50 1-40 1-160 1 5 1 45 1 96 1-52 1 3 1 27 1-12 1-1 1-17 1 0 1 39 1-39 1-20 1-21 1-5 1 16 1-5 1-11 1 5 1 21 1 74 1-36 1 6 1 9 1 19 1-7 1-2 1-43 1 5 1 12 1 29 1 1 1 6 1-19 1-104 1 4 1 34 1 64 1-1 1 23 1-20 1-13 1 32 1 1 1-33 1 16 1-12 1-38 1-15 1-4 1 11 1-4 1-7 1 4 1 15 1 30 1-16 1 49 1-16 1 3 1-6 1-29 1 4 1 33 1-24 1-15 1 72 1 66 1-53 1-229 1 8 1 67 1 79 1 16 1 4 1-8 1 12 1 19 1-43 1 44 1-17 1-31 1-31 1-26 1-6 1 19 1-6 1-13 1 6 1 26 1 79 1-8 1-46 1 0 1 43 1-37 1 12 1-8 1 44 1-2 1 2 1 4 1-21 1-169 1 7 1 62 1 117 1-27 1-8 1 6 1 4 1 25 1-13 1 6 1-47 1 26 1 16 1-54 1-15 1-4 1 11 1-3 1-8 1 4 1 15 1 33 1 28 1-9 1-40 1 44 1 8 1-10 1-13 1 19 1 5 1-6 1-8 1 32 1-26 1-195 1 8 1 70 1 116 1-25 1-16 1 3 1 23 1-17 1 26 1 14 1 2 1-66 1-15 1-3 1 11 1-4 1-7 1 3 1 15 1 21 1 31 1-33 1 47 1-8 1-46 1 48 1 6 1-34 1 13 1 21 1-29 1 10 1-7 1 22 1-18 1-152 1 6 1 57 1 71 1 25 1-39 1 9 1 45 1-36 1 16 1-7 1-14 1 24 1-60 1-22 1-6 1 17 1-6 1-11 1 6 1 22 1 63 1-2 1-12 1-13 1-13 1 20 1 25 1 9 1-5 1-7 1 42 1 79 1-5 1-252 1 5 1 45 1 59 1 31 1-25 1-5 1 14 1 4 1-34 1 18 1 36 1-31 1-31 1-12 1-2 1 8 1-3 1-5 1 2 1 12 1 30 1 30 1-52 1 53 1-22 1-3 1 1 1-1 1 26 1-28 1 4 1 24 1-19 1-181 1 8 1 68 1 110 1-3 1 2 1-9 1-10 1 26 1-46 1 2 1 1 1 36 1-59 1-22 1-5 1 16 1-5 1-11 1 5 1 22 1 74 1-20 1 20 1-21 1 21 1-46 1 1 1 37 1-29 1-17 1 44 1-34 1 41 1 44 1-36 1-173 1 6 1 54 1 91 1-34 1 44 1-19 1-23 1 34 1 15 1-24 1 24 1-80 1-25 1-6 1 19 1-7 1-12 1 6 1 25 1 55 1 21 1-39 1 3 1 40 1-17 1-2 1-27 1 43 1-33 1 5 1 61 1 79 1-5 1-290 1 7 1 62 1 114 1 3 1-54 1 14 1 11 1 17 1-27 1-4 1-10 1 51 1-61 1-12 1-3 1 9 1-3 1-6 1 3 1 12 1 62 1-28 1-25 1 54 1-10 1-44 1 41 1-37 1 2 1 4 1 3 1 57 1 64 1-51 1-167 1 4 1 41 1 81 1-19 1-22 1 5 1 6 1-12 1 31 1-31 1 0 1 54 1-7 1-56 1-12 1-3 1 9 1-3 1-6 1 3 1 12 1 63 1-4 1-37 1 2 1 9 1 16 1 7 1-1 1-13 1-33 1 84 1 79 1-5 1-262 1 6 1 49 1 103 1-21 1-33 1 25 1 22 1-35 1-3 1 36 1-22 1-23 1-18 1-19 1-5 1 14 1-4 1-10 1 5 1 19 1 46 1 26 1-26 1-19 1 15 1 16 1-11 1 25 1-26 1-10 1 32 1 34 1 79 1-5 1-282 1 6 1 59 1 59 1 43 1 2 1-12 1-14 1 11 1 18 1-48 1 45 1-31 1-31 1-18 1-5 1 14 1-5 1-9 1 5 1 18 1 62 1 4 1-40 1 45 1-36 1-18 1 0 1 25 1 6 1-28 1-1 1 31 1 20 1 47 1-38 1-180 1 6 1 56 1 66 1 13 1-7 1 1 1 22 1 15 1-26 1 26 1-42 1-12 1 16 1-34 1-19 1-5 1 14 1-5 1-9 1 5 1 19 1 37 1-12 1 23 1 24 1-16 1 10 1 6 1-34 1 21 1-10 1 8 1 1 1-14 1-170 1 8 1 67 1 81 1 17 1-17 1 16 1 13 1-39 1 35 1-13 1-22 1-24 1-23 1-5 1 17 1-6 1-11 1 5 1 23 1 76 1-54 1 8 1 13 1-3 1-2 1 1 1-17 1 1 1-1 1 43 1-29 1 38 1 9 1-22 1-129 1 5 1 43 1 72 1-27 1 13 1 11 1-17 1-9 1 53 1-43 1 37 1-4 1-59 1-17 1-5 1 13 1-4 1-9 1 5 1 17 1 25 1 44 1-9 1 3 1 6 1 0 1-8 1-46 1 35 1-12 1-18 1 41 1 39 1-32 1-141 1 5 1 42 1 42 1 6 1-7 1 5 1 49 1-44 1 44 1-2 1-30 1 32 1-50 1-26 1-23 1-6 1 17 1-5 1-12 1 6 1 23 1 43 1-6 1 33 1 6 1 0 1-41 1 41 1-45 1 5 1 16 1 7 1-33 1 35 1-12 1 22 1-17 1-174 1 7 1 67 1 116 1-48 1 29 1 25 1-41 1 41 1-53 1 17 1 26 1-44 1 13 1-38 1-25 1-6 1 18 1-6 1-12 1 6 1 25 1 64 1-22 1 23 1-2 1-7 1 20 1-51 1 28 1-1 1 57 1 79 1-5 1-212 1 3 1 27 1 78 1-54 1 40 1 12 1-50 1 49 1-34 1 7 1 30 1-38 1 38 1-63 1-12 1-3 1 9 1-3 1-6 1 3 1 12 1 20 1 43 1-33 1 32 1-10 1-26 1 36 1-38 1-9 1-6 1 0 1 68 1 61 1-49 1-184 1 6 1 49 1 49 1 13 1-13 1 35 1 8 1-28 1 12 1-23 1 19 1-8 1 26 1-51 1-12 1-3 1 9 1-3 1-6 1 3 1 12 1 37 1 20 1-31 1 38 1-50 1 50 1-30 1-3 1-12 1 45 1-34 1 34 1 7 1-22 1-163 1 6 1 59 1 74 1 7 1-7 1 7 1-8 1 39 1-16 1-27 1 5 1 13 1-53 1-24 1-7 1 19 1-6 1-13 1 7 1 24 1 53 1 26 1-10 1-43 1-1 1 20 1 3 1-18 1 49 1-54 1 35 1 29 1-23 1-175 1 7 1 63 1 103 1-2 1-8 1 24 1-53 1 39 1-39 1 25 1-13 1-20 1-12 1-2 1 8 1-3 1-5 1 2 1 12 1 32 1 24 1 5 1 1 1-6 1-20 1-9 1 5 1 30 1-54 1 2 1 27 1-24 1 33 1 14 1-16 1 48 1 79 1-5 1-256 1 5 1 47 1 99 1-53 1 47 1-47 1 48 1-31 1 23 1-32 1 0 1 21 1-48 1-21 1-5 1 16 1-6 1-10 1 5 1 21 1 30 1 36 1-23 1 27 1-1 1 4 1 0 1-54 1 41 1-40 1 44 1 9 1-21 1 22 1-20 1-99 1 4 1 31 1 65 1-1 1-6 1-29 1 37 1-5 1-29 1 33 1 15 1-37 1-36 1-22 1-6 1 17 1-6 1-11 1 6 1 22 1 37 1 39 1-40 1 5 1 23 1-42 1 54 1-6 1-48 1 48 1 6 1-1 1-19 1-108 1 4 1 36 1 71 1 9 1-1 1-37 1 46 1-9 1-45 1 54 1-9 1-59 1-15 1-4 1 11 1-3 1-8 1 4 1 15 1 41 1-1 1-4 1 32 1-2 1-25 1-23 1 19 1-11 1 30 1 9 1 3 1-9 1-45 1 39 1 15 1 30 1 79 1-5 1-276 1 6 1 56 1 68 1 6 1-16 1-2 1 38 1-12 1-5 1-2 1 7 1-35 1-12 1-3 1 9 1-3 1-6 1 3 1 12 1 18 1 32 1 13 1-27 1-24 1 51 1-54 1 27 1 1 1-4 1-23 1 25 1-12 1 36 1 0 1-18 1-70 1 2 1 20 1 33 1 37 1 0 1-45 1-1 1-8 1 45 1-12 1-32 1-11 1-13 1-3 1 10 1-4 1-6 1 3 1 13 1 34 1-21 1 40 1-22 1 24 1 9 1 0 1-36 1-6 1 3 1-15 1 49 1-13 1-12 1-154 1 7 1 61 1 72 1 29 1 8 1-25 1-8 1 31 1 9 1-32 1 32 1-67 1-14 1-4 1 11 1-4 1-7 1 4 1 14 1 42 1-23 1 48 1-8 1-12 1-1 1-3 1 5 1 19 1-5 1 1 1-37 1 31 1 19 1-23 1-140 1 5 1 48 1 72 1 0 1 20 1 9 1 0 1-42 1 30 1-7 1-9 1-43 1-19 1-5 1 14 1-4 1-10 1 5 1 19 1 71 1-32 1-22 1 31 1-24 1 22 1 16 1-45 1 22 1-22 1 4 1 50 1-35 1 27 1-37 1 31 1 5 1-16 1-103 1 4 1 36 1 86 1-19 1-10 1 31 1-13 1 8 1 2 1-8 1-6 1-34 1-17 1-15 1-4 1 11 1-3 1-8 1 4 1 15 1 68 1-31 1 11 1 15 1-48 1 36 1 14 1-38 1 39 1-28 1 18 1 12 1 30 1 79 1-5 1-246 1 5 1 42 1 83 1-5 1-15 1-16 1 20 1-26 1 8 1 44 1-2 1 4 1-65 1-14 1-3 1 10 1-3 1-7 1 3 1 14 1 65 1-54 1 39 1-7 1 8 1-40 1 0 1 16 1 38 1-49 1 27 1 26 1-21 1-187 1 8 1 70 1 112 1 3 1 0 1 7 1-23 1 0 1 22 1 0 1 0 1-1 1-63 1-17 1-4 1 12 1-4 1-8 1 4 1 17 1 15 1 19 1-17 1 46 1-21 1 25 1-39 1 6 1-14 1 15 1-7 1-7 1 78 1 79 1-5 1-292 1 7 1 63 1 79 1 14 1-16 1 41 1 0 1-54 1 5 1 7 1-12 1 1 1-22 1-21 1-5 1 16 1-5 1-11 1 5 1 21 1 27 1 30 1 0 1-15 1 14 1 2 1-20 1-10 1 42 1-33 1 17 1 38 1 64 1-51 1-194 1 6 1 52 1 87 1-12 1-23 1 27 1-27 1 0 1 34 1-5 1 0 1-18 1-11 1-22 1-22 1-5 1 16 1-5 1-11 1 5 1 22 1 37 1 39 1-16 1 2 1-4 1-15 1 32 1-43 1-9 1 31 1 25 1-20 1-187 1 8 1 70 1 90 1-18 1 21 1-19 1 44 1-46 1 41 1-10 1 16 1 7 1-75 1-22 1-6 1 17 1-6 1-11 1 6 1 22 1 21 1 17 1-4 1 21 1-2 1 18 1-3 1-39 1 20 1-28 1 49 1-34 1 21 1 30 1-24 1-192 1 8 1 70 1 75 1 46 1-9 1-14 1 6 1 0 1 0 1-26 1-5 1-18 1-18 1-4 1 13 1-4 1-9 1 4 1 18 1 24 1-7 1 18 1-18 1 37 1-5 1 3 1-21 1 7 1-14 1 23 1 54 1 79 1-5 1-284 1 7 1 59 1 60 1 17 1 11 1 5 1-26 1 44 1-51 1 0 1 28 1-51 1-22 1-6 1 17 1-6 1-11 1 6 1 22 1 28 1 46 1-51 1 19 1 35 1-31 1 2 1 29 1-50 1 33 1-5 1-32 1 54 1 12 1 61 1-49 1-156 1 4 1 38 1 52 1 32 1-28 1 2 1-7 1 39 1-53 1 51 1-52 1-14 1-16 1-4 1 12 1-4 1-8 1 4 1 16 1 18 1 7 1 22 1-21 1-6 1 15 1-21 1 53 1-27 1-8 1-15 1 20 1 30 1 47 1-38 1-212 1 8 1 70 1 101 1 4 1 4 1-4 1 21 1-15 1 3 1-9 1-33 1 11 1-28 1-18 1-5 1 14 1-5 1-9 1 5 1 18 1 67 1-4 1 8 1-5 1 3 1-24 1-27 1 52 1-31 1 25 1-41 1 3 1 75 1 79 1-5 1-248 1 5 1 43 1 49 1 47 1-19 1 7 1 3 1-38 1 28 1-33 1 10 1 21 1 18 1-77 1-25 1-6 1 19 1-7 1-12 1 6 1 25 1 35 1 45 1-49 1 40 1-32 1 11 1-5 1-6 1 18 1 20 1 8 1-21 1-170 1 7 1 62 1 74 1-11 1 50 1-41 1 16 1-11 1 21 1 10 1-6 1-34 1-24 1-19 1-5 1 15 1-5 1-10 1 5 1 19 1 26 1 19 1-21 1 11 1 33 1-35 1 39 1-2 1 3 1-49 1 21 1 16 1 42 1 79 1-5 1-252 1 5 1 45 1 89 1 4 1-12 1-32 1 44 1-42 1 10 1 23 1-30 1-2 1 12 1-35 1-17 1-4 1 13 1-4 1-9 1 4 1 17 1 58 1-39 1 50 1 0 1-6 1-48 1 0 1 7 1 17 1 21 1 39 1-31 1-189 1 7 1 64 1 113 1-27 1 33 1-5 1-8 1 13 1-26 1-8 1-7 1 8 1-35 1-17 1-4 1 12 1-4 1-8 1 4 1 17 1 68 1-21 1-16 1 22 1 15 1-40 1 36 1-39 1 11 1 32 1-4 1-4 1-9 1 27 1-23 1-191 1 8 1 70 1 114 1 9 1 3 1-42 1-6 1 8 1 40 1-4 1-8 1-15 1-47 1-21 1-6 1 16 1-5 1-11 1 6 1 21 1 70 1-13 1-37 1 18 1 7 1-15 1 35 1-25 1 19 1 12 1-27 1 14 1-13 1-139 1 6 1 54 1 67 1-13 1 49 1-43 1 4 1 44 1-54 1 4 1 31 1-46 1-13 1-3 1 10 1-3 1-7 1 3 1 13 1 63 1-52 1 22 1 4 1-18 1 20 1 26 1-45 1 31 1-14 1-26 1 41 1 16 1 51 1-41 1-215 1 8 1 69 1 125 1-30 1 6 1 17 1-12 1-5 1 10 1 7 1-37 1-10 1-23 1-23 1-6 1 18 1-6 1-12 1 6 1 23 1 70 1-3 1-42 1 5 1 6 1-13 1 14 1-6 1-7 1 8 1 23 1-10 1-10 1 42 1-10 1 39 1-31 1-186 1 7 1 63 1 75 1-11 1 37 1-34 1 38 1-41 1 34 1 6 1-6 1-54 1-22 1-5 1 16 1-5 1-11 1 5 1 22 1 40 1 18 1 9 1-7 1 14 1-1 1-19 1-22 1 42 1 30 1 79 1-5 1-282 1 6 1 59 1 75 1 36 1-21 1-2 1-29 1 53 1-8 1-32 1 27 1-53 1-14 1-4 1 11 1-4 1-7 1 4 1 14 1 22 1 27 1-13 1-8 1 39 1-10 1-18 1 17 1-43 1 27 1 4 1 43 1 67 1-54 1-209 1 6 1 58 1 98 1 10 1-22 1 3 1-14 1-17 1 31 1 23 1-54 1 54 1-70 1-17 1-4 1 13 1-5 1-8 1 4 1 17 1 31 1 37 1-1 1-37 1 34 1-19 1 8 1-21 1 19 1-34 1 43 1 0 1-43 1 19 1 29 1-7 1-2 1 34 1-27 1-155 1 6 1 51 1 95 1-41 1 42 1-34 1 35 1 1 1 7 1-42 1 17 1-41 1-15 1-4 1 11 1-3 1-8 1 4 1 15 1 18 1 30 1-9 1 10 1-10 1 22 1-8 1 13 1-14 1 14 1-2 1 32 1 79 1-5 1-308 1 8 1 70 1 72 1 14 1 1 1 28 1-43 1 16 1-16 1 10 1 13 1-5 1 13 1-41 1-13 1-3 1 9 1-3 1-6 1 3 1 13 1 61 1-48 1 51 1-54 1 28 1 26 1-43 1 40 1-46 1 9 1 70 1 79 1-5 1-284 1 7 1 59 1 70 1 20 1-26 1 50 1-48 1 3 1 41 1-5 1 9 1-5 1-10 1-63 1-23 1-6 1 18 1-6 1-12 1 6 1 23 1 78 1-42 1-7 1 3 1 34 1-42 1 22 1-6 1 27 1 11 1 1 1-19 1-186 1 8 1 70 1 88 1-11 1 4 1 28 1 17 1-28 1 11 1-16 1 30 1-40 1-37 1-25 1-7 1 19 1-6 1-13 1 7 1 25 1 42 1 2 1-16 1 1 1 17 1-6 1 8 1 8 1 19 1-12 1 26 1 57 1-45 1-197 1 6 1 58 1 63 1 41 1-14 1-16 1 38 1-15 1-30 1 19 1 15 1-68 1-25 1-6 1 18 1-6 1-12 1 6 1 25 1 47 1 32 1-15 1 15 1-54 1 32 1-28 1-4 1 49 1-1 1 3 1-28 1-23 1 22 1 11 1 25 1 53 1-42 1-193 1 6 1 59 1 106 1-40 1 27 1-20 1 25 1-39 1 54 1-46 1 45 1-53 1 0 1-18 1-19 1-5 1 14 1-4 1-10 1 5 1 19 1 54 1 16 1-32 1-20 1 53 1-1 1-8 1-18 1 17 1-29 1 27 1 35 1-28 1-194 1 8 1 68 1 124 1-24 1 7 1 17 1-10 1-29 1 39 1-26 1-1 1-40 1-15 1-4 1 12 1-4 1-8 1 4 1 15 1 42 1 5 1-22 1 5 1-2 1 2 1 27 1-17 1 15 1-24 1 30 1-26 1 10 1 39 1 66 1-53 1-178 1 5 1 45 1 89 1-30 1 0 1 4 1 35 1-17 1-37 1 16 1-2 1 0 1 1 1-25 1-12 1-4 1 10 1-3 1-7 1 4 1 12 1 42 1 13 1 4 1-49 1 0 1 37 1-6 1 0 1 3 1-27 1 23 1 37 1 60 1-48 1-229 1 8 1 70 1 119 1 2 1 5 1-16 1-31 1 16 1 14 1 3 1-3 1-62 1-25 1-7 1 19 1-6 1-13 1 7 1 25 1 79 1-34 1-12 1 3 1 31 1 12 1-26 1 21 1 5 1 5 1-21 1-156 1 6 1 56 1 56 1 17 1 37 1-30 1-24 1 45 1-2 1-43 1 28 1-48 1-21 1-5 1 15 1-5 1-10 1 5 1 21 1 74 1-13 1-41 1 0 1 48 1-48 1 37 1 17 1-53 1 35 1 8 1 10 1-54 1 39 1 32 1-26 1-175 1 7 1 61 1 94 1-13 1 18 1-27 1 4 1-7 1-1 1-6 1 23 1 31 1-79 1-25 1-6 1 18 1-6 1-12 1 6 1 25 1 59 1-32 1 25 1-14 1-13 1 3 1 11 1 28 1-37 1 15 1 1 1 23 1 40 1 79 1-5 1-272 1 6 1 54 1 103 1-22 1-27 1 21 1-14 1 9 1 25 1 9 1-50 1 54 1-79 1-25 1-7 1 19 1-6 1-13 1 7 1 25 1 32 1 47 1-30 1 12 1-36 1 13 1 29 1 12 1-51 1 2 1 34 1-20 1 65 1 79 1-5 1-274 1 6 1 55 1 96 1 13 1-25 1-17 1 11 1 25 1 6 1-17 1 15 1-7 1-27 1-32 1-16 1-4 1 12 1-4 1-8 1 4 1 16 1 44 1 24 1-28 1 20 1-1 1 1 1-46 1 26 1-12" transform="translate(61.500 93.850) scale(0.11695 -0.38850)" stroke="#00ff00" />
<path d="M1 1.40H222" transform="translate(61.500 93.850) scale(0.11695 -0.38850)" stroke="#0000ff" style="stroke-width:1.25"/><path d="M222 2l1 35 1 7 1-1 1 0 1 0 1-2 1-3 1 1 1-6 1 0 1-1 1 2 1-75 1 7 1-17 1 88 1 27 1-26 1-78 1 2 1 18 1-33 1 18 1-11 1-2 1 80 1-2 1 0 1-2 1 3 1 3 1 5 1 1 1-2 1 5 1 8 1 0 1-4 1-6 1 5 1-92 1 10 1 18 1 65 1 47 1-38 1-132 1 4 1 34 1-4 1 8 1 6 1-6 1 76 1-4 1-4 1-5 1 2 1-8 1-2 1 13 1-2 1 7 1 1 1 10 1 4 1 2 1 4 1-16 1-11 1-8 1-3 1-6 1-2 1-35 1-23 1 12 1 85 1 47 1-40 1-110 1 2 1 23 1-23 1 0 1 4 1-10 1 74 1-11 1 12 1-8 1 2 1 14 1 14 1 12 1 3 1 7 1 0 1 3 1-26 1-2 1-7 1-11 1-3 1-8 1 10 1-16 1 19 1-1 1 11 1-79 1 6 1 16 1 72 1 39 1-35 1-107 1 3 1 24 1-5 1 11 1 2 1-4 1 56 1 8 1 12 1 15 1-5 1-6 1-8 1-6 1 8 1-32 1-8 1 3 1 11 1 1 1 11 1-12 1 23 1 17 1-3 1-4 1 0 1 3 1-7 1-81 1-18 1 0 1 123 1 79 1-5 1-278 1 6 1 57 1 45 1-12 1 0 1 14 1 81 1-18 1-1 1-10 1-15 1-4 1-2 1-2 1 5 1 2 1 13 1 1 1 20 1 17 1-11 1 1 1 4 1-23 1 11 1-20 1-8 1-81 1 24 1-9 1 83 1 42 1-34 1-114 1 3 1 29 1 7 1-6 1-11 1 12 1 64 1 9 1-8 1-12 1-6 1 8 1-13 1 28 1 5 1-7 1 20 1 10 1-11 1-13 1 2 1-4 1-2 1-4 1-8 1-15 1 10 1-2 1 16 1-56 1-21 1-5 1 104 1 11 1-28 1-88 1 2 1 21 1-19 1 2 1 23 1-1 1 44 1-12 1 23 1-7 1 10 1 13 1 5 1 2 1 1 1-2 1-12 1-4 1-2 1-18 1-3 1-3 1 4 1 0 1-4 1 25 1 4 1 18 1-16 1 10 1-84 1 6 1 1 1 76 1 57 1-46 1-132 1 3 1 29 1-12 1 10 1 9 1 5 1 78 1 5 1-5 1 10 1-4 1-8 1-18 1-14 1-10 1-3 1 12 1-1 1 18 1-3 1 17 1-11 1 23 1-10 1 15 1-11 1-10 1-8 1-30 1-44 1 13 1-14 1 104 1 71 1-57 1-171 1 4 1 39 1 9 1 18 1-21 1 8 1 58 1-8 1-2 1-2 1 3 1 8 1-5 1 5 1 3 1 4 1 4 1 18 1-8 1-1 1 26 1-17 1-17 1-16 1 9 1-9 1-9 1-66 1 2 1 26 1 96 1 73 1-58 1-220 1 7 1 59 1 21 1-2 1-9 1 17 1 59 1-3 1-12 1 22 1-16 1 29 1-7 1 18 1 11 1 4 1 1 1-4 1 0 1-8 1-3 1-19 1 11 1-19 1-68 1 20 1 0 1 58 1 35 1-28 1-92 1 2 1 23 1-4 1 9 1-5 1-9 1 66 1-10 1-21 1 29 1-26 1 10 1 24 1-2 1 31 1-6 1-6 1 11 1 1 1-3 1-22 1 2 1-15 1 5 1-15 1 10 1-4 1-17 1-2 1 20 1 5 1 14 1-67 1-1 1-22 1 123 1 79 1-5 1-196 1 2 1 20 1 1 1 0 1-33 1 7 1 70 1 33 1 9 1-4 1 0 1 2 1 2 1-7 1-12 1-5 1-17 1 3 1-15 1-3 1 16 1-11 1 19 1 9 1 10 1-103 1-5 1 31 1 93 1 40 1-43 1-145 1 4 1 36 1-13 1 27 1 4 1 6 1 42 1 14 1 8 1 19 1-4 1 10 1 10 1-31 1-18 1-11 1-15 1 0 1 3 1-11 1 18 1 7 1 9 1-6 1 40 1-4 1-9 1 21 1-5 1-7 1-17 1-96 1 6 1 22 1 68 1 47 1-38 1-110 1 3 1 24 1-9 1 3 1 9 1-14 1 107 1 0 1-6 1-10 1-19 1-9 1-12 1-2 1 2 1-1 1 1 1 33 1 9 1 33 1-23 1-6 1-3 1-7 1-91 1-9 1 11 1 104 1 64 1-51 1-121 1 2 1 20 1-18 1-12 1 18 1 1 1 105 1-8 1 5 1-8 1-23 1-2 1-28 1-6 1 23 1-19 1 24 1 21 1-12 1 13 1 27 1-9 1 4 1 2 1-31 1-16 1 1 1-12 1-9 1-41 1-11 1 26 1 95 1 79 1-5 1-236 1 4 1 38 1-2 1-11 1 31 1-4 1 50 1-8 1-3 1-13 1 15 1 25 1-1 1 8 1 8 1 5 1 16 1 2 1-11 1-5 1-19 1-10 1-12 1-8 1 0 1 11 1-17 1 21 1 16 1-69 1 11 1-9 1 91 1 14 1-32 1-188 1 7 1 63 1 18 1 26 1-23 1 28 1 52 1 7 1 23 1-10 1 5 1 21 1-25 1 7 1-19 1 5 1-7 1-7 1-13 1 1 1-11 1 24 1-12 1 34 1 0 1 27 1-15 1-97 1 12 1-1 1 95 1 75 1-60 1-126 1 2 1 16 1-19 1 16 1-27 1 11 1 81 1 10 1 11 1 5 1-5 1-2 1-16 1-6 1-16 1 5 1-15 1 1 1 3 1 13 1 10 1-3 1 0 1 23 1 8 1-2 1-6 1 2 1-32 1 0 1 2 1-63 1 2 1-23 1 109 1 59 1-47 1-151 1 4 1 36 1-12 1 14 1-3 1-7 1 92 1 6 1-28 1 8 1-1 1-9 1-1 1 16 1 0 1 17 1 1 1 12 1-3 1-5 1 2 1-4 1-12 1-12 1-12 1-1 1-9 1 8 1-48 1 6 1 8 1 81 1 30 1-38 1-106 1 2 1 23 1-14 1-13 1 29 1-30 1 72 1 7 1-13 1 16 1-5 1 22 1-9 1 9 1 2 1 10 1 11 1-20 1-3 1-14 1-12 1 1 1-9 1 0 1 11 1-2 1 2 1 21 1-68 1-13 1 20 1 88 1 57 1-51 1-147 1 4 1 31 1 16 1-27 1 27 1 2 1 41 1 27 1 1 1-3 1 13 1-3 1-2 1-8 1-3 1-5 1-2 1-11 1-22 1 19 1 5 1-2 1-4 1 21 1-96 1 23 1 10 1 77 1 25 1-34 1-94 1 2 1 20 1-29 1 16 1 1 1 13 1 51 1 2 1 10 1 6 1 3 1-2 1 15 1-20 1-4 1-9 1-21 1 9 1-14 1 8 1 18 1-6 1 2 1 27 1 0 1 3 1-10 1 31 1-26 1-76 1-23 1-4 1 129 1 79 1-5 1-196 1 2 1 20 1-26 1 6 1 13 1-15 1 102 1 4 1-9 1-7 1-12 1 7 1-16 1 6 1-12 1-1 1 6 1 5 1 6 1 6 1 18 1 1 1 3 1-2 1 1 1-16 1-13 1-63 1-17 1 7 1 115 1 75 1-60 1-150 1 3 1 27 1 13 1-20 1-13 1 24 1 90 1-25 1-8 1-13 1-6 1 4 1-4 1-5 1 6 1 23 1 1 1 18 1-12 1 0 1 23 1-4 1-10 1 4 1-13 1-4 1-10 1-23 1 14 1-11 1 3 1 3 1 34 1-83 1-14 1-6 1 132 1 79 1-5 1-198 1 2 1 21 1-17 1 7 1 4 1 4 1 41 1 19 1-4 1 14 1 0 1 8 1-2 1 7 1-3 1-23 1-6 1-17 1 4 1 11 1-7 1-2 1 8 1 14 1 22 1-6 1 15 1-108 1 8 1-19 1 129 1 79 1-5 1-200 1 2 1 22 1-3 1 10 1-4 1-12 1 83 1 10 1-4 1 19 1-18 1 19 1-24 1-15 1-12 1-16 1-3 1 18 1-13 1 15 1 14 1 0 1 18 1-8 1 11 1-2 1 0 1-9 1 0 1-94 1 16 1-17 1 123 1 79 1-5 1-196 1 2 1 20 1-34 1 3 1 13 1 12 1 84 1-11 1-11 1 1 1-11 1-2 1 3 1-25 1 29 1-6 1 14 1 6 1 13 1 6 1 10 1-23 1-8 1-13 1-12 1-3 1-5 1-29 1-27 1 15 1 81 1 34 1-33 1-111 1 3 1 28 1 6 1 2 1-22 1-5 1 64 1 8 1-11 1 16 1 17 1 8 1 10 1-5 1 20 1-15 1-3 1-9 1-7 1-14 1 5 1-24 1 1 1-3 1 2 1 13 1 26 1 7 1-105 1-5 1 9 1 111 1 28 1-38 1-160 1 5 1 47 1 23 1-15 1 20 1-1 1 64 1-2 1 13 1 24 1-16 1 4 1 3 1-12 1 13 1-16 1-28 1-4 1 0 1 3 1-5 1 2 1 14 1-2 1 21 1 22 1 5 1-114 1 11 1 4 1 99 1 79 1-5 1-196 1 2 1 20 1-32 1 25 1-16 1-8 1 111 1-2 1 30 1-17 1-9 1-13 1-17 1-6 1-4 1 7 1-16 1 8 1 15 1-1 1 23 1 11 1 5 1 7 1-12 1 2 1-24 1-1 1-15 1-78 1 23 1-8 1 83 1 49 1-39 1-177 1 6 1 53 1 38 1-14 1-5 1 7 1 69 1 1 1-18 1 0 1-4 1 1 1-7 1 19 1 9 1 26 1 13 1-5 1-1 1 6 1-10 1-11 1-13 1-15 1 4 1-10 1-5 1 1 1 17 1-72 1-2 1 2 1 116 1 79 1-5 1-240 1 4 1 40 1 19 1-15 1 2 1 20 1 39 1-6 1-2 1 26 1 17 1-3 1 1 1 7 1 1 1-2 1-12 1-8 1-5 1-14 1-1 1 0 1-14 1 5 1 26 1 25 1-14 1-89 1 5 1-19 1 128 1 41 1-46 1-184 1 6 1 52 1 18 1 6 1 4 1-25 1 82 1 8 1 19 1 6 1 11 1-10 1 3 1-11 1-12 1-8 1-17 1 3 1-5 1-3 1 14 1 20 1 7 1 4 1-5 1 12 1-5 1-7 1 5 1-17 1-2 1 7 1-77 1-4 1 7 1 97 1 67 1-54 1-160 1 4 1 36 1 22 1-28 1 2 1 8 1 111 1-37 1-4 1-16 1-13 1 10 1 16 1-19 1 19 1 10 1-3 1 26 1-8 1 9 1 4 1-6 1-10 1-22 1 3 1-3 1-11 1-12 1 11 1-36 1-37 1 32 1 94 1 72 1-58 1-170 1 4 1 38 1 7 1-6 1-12 1 27 1 36 1 19 1 10 1 4 1 2 1 12 1-8 1 10 1 14 1-29 1 3 1-12 1-4 1-9 1-2 1-8 1 2 1 21 1-3 1 24 1-9 1-63 1-25 1 13 1 99 1 71 1-57 1-145 1 3 1 27 1-2 1-8 1 23 1 0 1 63 1 9 1 4 1 0 1-6 1-6 1-9 1-19 1-13 1 15 1-7 1-6 1 15 1 3 1 26 1 4 1 6 1-3 1-3 1-8 1-4 1 0 1-9 1-85 1-2 1 24 1 92 1 64 1-51 1-137 1 3 1 27 1-10 1 3 1-14 1 24 1 77 1-17 1-2 1-23 1 3 1 0 1-1 1 5 1 4 1 5 1 25 1 3 1 4 1 0 1-16 1 10 1-10 1-14 1-13 1-11 1 5 1 13 1-15 1 12 1-34 1-28 1 12 1 102 1 69 1-55 1-143 1 3 1 27 1 9 1 5 1-33 1 18 1 51 1 27 1-10 1 11 1 10 1-1 1-6 1-12 1 9 1-16 1 3 1-19 1-6 1 6 1-9 1 3 1 15 1 2 1 6 1 19 1-106 1 14 1-10 1 128 1 78 1-62 1-138 1 2 1 20 1-18 1 9 1 9 1-27 1 66 1 21 1 19 1-1 1 2 1 16 1-14 1-10 1-19 1 13 1-27 1 2 1-6 1 6 1-7 1 22 1 5 1 3 1 5 1 6 1-6 1 13 1-18 1 11 1-12 1-75 1 13 1-14 1 99 1 64 1-51 1-165 1 4 1 40 1 20 1-12 1 3 1-10 1 93 1 9 1-2 1-22 1-21 1-2 1-3 1 16 1-7 1-10 1 11 1 14 1 17 1 2 1 3 1-8 1 12 1-4 1-22 1-3 1-6 1-19 1-35 1-24 1 8 1 124 1 79 1-5 1-200 1 2 1 22 1-4 1-3 1 9 1-8 1 47 1-8 1 7 1 8 1-6 1 3 1 23 1-3 1 13 1 1 1-4 1 14 1-6 1-14 1-9 1 1 1-13 1-7 1-2 1-5 1 9 1-3 1-69 1 0 1 33 1 98 1 79 1-5 1-212 1 3 1 27 1 2 1 6 1-1 1 4 1 35 1 11 1 13 1-4 1 30 1-4 1 2 1-7 1 1 1-1 1-24 1 5 1 0 1-18 1-12 1 6 1-7 1 32 1-9 1 21 1-10 1 14 1-88 1-15 1 5 1 121 1 79 1-5 1-196 1 2 1 20 1-24 1 20 1-9 1-5 1 81 1-1 1 16 1 7 1 18 1-9 1-5 1-28 1 9 1-21 1 0 1-10 1-2 1 3 1 20 1 7 1 0 1 22 1 0 1-13 1 11 1-116 1 3 1-8 1 111 1 55 1-44 1-154 1 4 1 40 1-12 1 32 1-30 1 33 1 81 1 1 1 15 1-36 1-5 1 16 1-37 1-3 1 1 1 20 1 1 1 18 1-2 1 3 1-3 1 29 1-21 1 16 1-9 1-18 1 2 1-21 1-12 1-69 1 16 1-11 1 111 1 62 1-50 1-138 1 3 1 29 1-15 1 12 1 13 1-16 1 77 1-15 1-14 1 11 1 4 1-7 1 16 1 17 1 17 1-5 1 7 1-21 1 27 1-9 1-21 1 1 1-11 1-8 1-11 1-6 1 25 1 6 1-13 1-83 1 31 1-13 1 114 1 79 1-5 1-196 1 2 1 20 1 1 1-10 1-11 1 18 1 42 1 21 1 2 1 1 1 14 1 0 1 19 1-10 1 5 1-15 1 1 1-32 1-6 1 2 1 2 1-5 1 4 1 26 1-5 1 11 1-9 1-96 1 22 1-25 1 125 1 52 1-49 1-123 1 2 1 23 1-8 1-17 1 28 1-13 1 95 1 14 1 0 1-8 1 19 1-3 1-35 1-4 1-34 1 22 1-14 1 4 1 9 1-5 1 14 1 5 1 32 1-16 1 6 1 0 1 2 1-98 1 5 1-11 1 91 1 55 1-44 1-210 1 7 1 65 1 50 1-1 1-17 1 19 1 76 1 4 1-20 1 6 1-26 1 9 1-8 1-2 1-2 1 6 1 16 1 11 1 18 1 2 1 8 1-12 1 1 1-15 1 3 1-6 1-10 1-22 1-3 1-50 1 5 1 14 1 79 1 61 1-49 1-123 1 2 1 23 1-18 1 13 1 2 1 8 1 27 1 3 1 5 1 9 1-10 1 9 1 7 1-7 1 16 1 11 1 18 1 3 1-11 1 15 1-14 1-24 1-12 1-21 1 19 1-18 1 8 1-63 1 19 1 4 1 84 1 57 1-46 1-112 1 2 1 20 1-10 1-18 1 23 1-17 1 53 1-4 1 8 1-9 1 24 1 0 1 22 1 4 1-1 1-9 1 22 1-8 1-15 1 3 1-6 1-8 1-7 1-18 1 1 1-1 1-4 1 41 1-76 1 1 1-6 1 105 1 34 1-41 1-121 1 3 1 27 1 6 1 3 1-32 1 27 1 37 1 24 1-5 1 24 1 8 1 9 1-27 1 1 1 14 1-17 1-18 1 10 1-4 1-22 1 1 1 8 1-10 1 13 1 3 1 20 1 11 1-1 1-85 1-20 1 0 1 120 1 68 1-54 1-156 1 4 1 33 1 10 1 5 1-26 1 2 1 95 1-6 1 9 1 6 1 21 1-29 1 3 1-23 1-14 1-9 1 8 1 10 1-4 1 8 1 9 1 5 1 4 1-2 1 29 1-13 1-22 1-15 1-60 1 8 1 1 1 73 1 46 1-37 1-149 1 5 1 42 1-7 1 13 1 10 1-16 1 108 1-28 1-2 1-2 1-8 1-14 1 2 1 3 1 6 1-18 1 26 1 16 1 4 1 27 1-25 1 13 1-11 1-4 1-17 1-13 1-4 1 11 1-15 1-40 1-4 1-5 1 119 1 79 1-5 1-222 1 4 1 31 1 2 1-8 1-4 1-2 1 56 1 0 1 10 1-10 1 20 1 3 1 4 1 17 1 8 1-9 1-8 1 0 1-10 1 0 1-21 1 3 1-2 1 7 1 18 1-12 1 16 1-4 1-76 1-17 1 36 1 82 1 48 1-45 1-111 1 2 1 20 1-13 1-6 1 8 1 12 1 49 1 16 1-4 1-15 1 43 1-4 1-4 1-12 1 14 1-33 1-3 1-1 1 0 1 1 1-5 1 2 1 3 1 15 1-7 1 15 1-1 1 11 1-78 1-1 1-27 1 125 1 79 1-5 1-216 1 3 1 29 1-11 1-9 1 20 1-19 1 90 1 18 1 3 1 6 1 7 1-1 1-23 1-2 1-3 1-24 1-7 1 3 1-4 1 8 1-2 1 13 1 2 1 24 1-12 1 12 1 10 1-6 1-104 1-6 1 4 1 123 1 79 1-5 1-196 1 2 1 20 1-20 1 10 1-17 1 2 1 112 1 4 1-17 1 11 1-20 1-12 1 2 1-15 1-2 1 3 1 4 1-1 1 1 1 24 1 4 1 13 1-3 1 2 1-1 1-10 1 0 1-24 1-14 1 5 1-2 1-57 1-4 1-2 1 101 1 55 1-44 1-182 1 6 1 52 1 13 1-9 1 16 1 20 1 49 1-13 1-10 1 4 1 7 1 11 1 20 1 0 1 14 1 1 1-3 1 0 1 0 1-5 1-16 1-3 1-7 1-17 1 2 1 8 1 16 1-67 1-5 1-7 1 107 1 32 1-40 1-104 1 2 1 20 1-17 1-10 1 13 1-13 1 79 1-14 1 14 1 20 1-7 1 25 1-12 1 10 1-12 1 5 1-5 1-29 1 5 1-18 1 13 1-3 1-14 1 17 1 7 1 13 1 9 1 20 1-13 1-99 1-9 1 18 1 107 1 79 1-5 1-236 1 4 1 38 1 6 1 6 1 8 1 1 1 71 1 12 1 9 1-15 1 15 1-23 1-8 1-1 1-14 1 4 1-16 1 11 1-1 1 6 1 4 1 14 1 11 1 12 1 6 1-2 1-23 1 3 1-9 1-74 1 0 1-27 1 111 1 55 1-44 1-172 1 5 1 48 1 34 1-32 1 6 1 7 1 98 1-5 1-4 1-30 1 10 1-25 1 3 1 19 1-14 1 10 1-2 1 37 1-8 1 5 1 9 1-2 1 13 1-35 1 3 1-5 1-22 1-46 1-6 1-10 1 113 1 68 1-54 1-146 1 3 1 29 1 14 1-7 1-16 1-12 1 99 1-20 1-17 1 9 1-9 1 14 1 5 1 10 1 31 1 0 1 5 1-3 1 0 1-13 1-24 1-16 1 2 1-13 1 7 1-12 1 10 1 4 1 31 1-5 1 28 1-12 1-114 1 33 1-23 1 100 1 30 1-34 1-94 1 2 1 20 1-27 1 28 1-25 1 1 1 101 1-10 1 17 1 10 1-3 1-14 1-11 1-26 1 23 1-23 1-20 1 7 1-9 1 13 1 2 1 26 1 27 1 3 1 4 1-9 1 2 1 0 1-28 1-83 1 14 1 8 1 86 1 62 1-50 1-124 1 2 1 23 1-19 1 2 1-13 1 17 1 73 1-1 1-12 1-9 1 4 1-12 1 3 1 4 1 13 1 10 1 11 1 1 1 4 1 19 1-3 1 1 1-9 1-21 1-6 1-25 1 2 1-29 1-21 1 12 1 107 1 79 1-5 1-196 1 2 1 20 1 4 1-26 1-7 1 0 1 75 1-3 1-9 1 22 1-3 1-21 1 28 1 10 1 14 1 11 1-10 1-10 1 7 1-20 1 10 1-26 1 4 1-24 1 18 1-9 1 10 1 8 1 15 1-7 1 12 1 28 1-111 1 7 1-10 1 87 1 46 1-39 1-103 1 2 1 20 1-31 1 3 1 29 1-7 1 75 1 14 1 1 1-5 1 11 1-2 1-31 1-15 1 2 1-11 1-5 1 14 1-12 1 23 1 14 1 10 1-3 1-1 1 19 1-1 1 4 1-23 1-5 1-63 1-18 1-20 1 98 1 42 1-34 1-94 1 2 1 20 1 6 1-18 1 3 1 3 1 57 1 25 1-20 1-22 1 8 1 4 1-10 1 6 1 1 1 15 1 3 1 19 1 8 1-12 1 10 1-14 1 2 1-10 1-10 1-13 1 6 1-63 1-14 1 28 1 79 1 55 1-44 1-182 1 6 1 52 1 16 1 12 1 7 1-27 1 78 1 2 1-11 1-10 1 15 1 5 1-12 1 17 1 6 1 5 1 15 1 3 1-7 1 1 1-2 1-27 1 16 1-12 1-6 1-11 1-1 1 8 1-66 1 19 1-3 1 106 1 79 1-5 1-202 1 2 1 23 1-20 1 4 1-10 1 25 1 55 1-21 1 18 1-1 1 12 1-3 1 9 1 15 1 14 1-15 1-6 1 17 1-27 1 9 1-18 1-4 1-10 1-13 1 8 1 7 1 9 1 13 1 8 1 12 1-9 1-87 1-8 1 21 1 99 1 79 1-5 1-202 1 2 1 23 1 9 1-34 1 32 1-12 1 77 1-2 1-1 1 7 1 15 1-18 1 5 1-14 1-5 1-16 1 3 1-7 1 0 1 7 1 16 1-14 1 20 1 21 1-20 1 6 1 4 1-2 1-5 1-80 1-1 1-17 1 129 1 78 1-62 1-144 1 2 1 23 1 1 1-24 1 9 1-15 1 100 1 6 1-12 1-12 1-11 1 2 1-8 1-2 1 27 1 7 1 2 1 21 1-11 1 3 1-3 1 1 1-20 1-8 1-1 1-7 1-3 1-43 1-13 1-3 1 119 1 77 1-62 1-140 1 2 1 22 1-23 1-7 1 2 1 12 1 70 1-5 1-12 1 10 1-7 1-12 1 19 1 18 1 7 1 14 1-24 1 29 1-15 1 3 1-2 1-26 1-6 1-5 1 14 1-18 1 18 1-3 1 6 1-64 1 10 1-25 1 98 1 50 1-41 1-111 1 2 1 23 1-11 1-1 1-17 1 23 1 54 1 24 1 13 1-5 1 1 1 10 1-18 1-8 1 3 1-13 1-8 1-3 1 4 1-16 1 14 1-6 1 22 1 22 1-12 1 10 1 13 1-6 1-86 1-3 1-25 1 128 1 79 1-5 1-216 1 3 1 29 1-21 1 8 1 9 1 19 1 82 1-6 1-2 1-16 1 13 1-31 1-2 1-12 1-5 1 9 1-6 1 5 1 31 1-5 1 33 1-10 1 13 1-11 1-1 1-6 1 5 1-95 1-14 1 26 1 89 1 67 1-54 1-144 1 3 1 29 1 16 1-6 1-19 1 15 1 91 1 10 1-37 1-8 1-2 1-9 1 2 1-12 1 12 1 14 1 4 1 9 1 14 1 6 1 7 1-5 1-18 1 8 1-32 1 2 1-12 1-10 1 2 1-54 1-3 1 29 1 71 1 53 1-42 1-170 1 5 1 48 1 9 1 22 1-26 1 11 1 60 1-13 1 3 1 1 1 4 1 10 1 12 1 5 1 7 1 15 1 3 1-7 1 7 1-32 1 7 1-5 1-19 1-7 1-13 1 16 1 17 1-61 1-27 1 30 1 77 1 53 1-42 1-108 1 2 1 20 1-6 1-6 1 17 1-28 1 45 1 23 1 6 1 9 1-1 1 21 1 6 1 2 1 0 1-7 1 0 1-21 1-1 1-20 1 13 1-21 1-3 1 27 1-9 1-10 1 43 1 9 1-8 1-99 1-8 1 18 1 109 1 79 1-5 1-196 1 2 1 20 1-9 1-7 1 13 1-30 1 111 1 7 1 4 1 11 1 9 1-20 1-7 1-2 1-21 1-22 1 16 1-22 1 9 1-4 1 1 1 19 1 25 1 6 1-9 1 20 1-22 1 12 1-85 1-24 1 14 1 67 1 38 1-30 1-96 1 2 1 23 1 8 1-27 1-7 1 13 1 100 1 7 1 2 1-25 1-14 1-15 1 9 1 2 1-4 1-4 1-2 1 11 1 17 1 8 1 16 1 3 1 5 1-8 1-18 1 9 1-19 1-14 1-3 1-54 1-10 1-3 1 109 1 67 1-54 1-124 1 2 1 20 1 5 1-4 1 2 1-4 1 48 1 7 1-8 1 0 1-9 1-6 1 14 1 14 1 21 1 6 1 11 1-9 1-7 1-7 1 2 1-24 1 7 1-12 1-3 1-1 1-3 1-70 1 11 1-8 1 127 1 79 1-5 1-272 1 6 1 54 1 12 1 23 1-19 1 13 1 53 1-6 1 7 1 37 1-13 1 10 1 5 1-14 1 25 1 1 1-10 1-12 1-22 1-11 1 2 1 2 1 7 1-1 1 7 1 16 1-8 1 16 1-1 1-101 1-13 1 31 1 85 1 61 1-49 1-117 1 2 1 20 1-3 1 5 1 3 1-39 1 115 1 14 1-5 1-13 1 3 1-16 1 0 1-23 1 2 1-8 1 3 1 8 1 7 1 17 1-8 1 0 1 7 1 22 1 10 1-20 1-19 1-61 1-4 1 5 1 68 1 48 1-38 1-102 1 2 1 20 1 2 1-21 1 14 1 4 1 85 1-36 1-1 1 4 1-6 1-2 1 5 1 5 1-7 1 10 1 21 1 12 1-6 1 2 1 3 1-3 1-12 1-1 1-23 1-9 1-7 1-1 1 19 1-60 1 11 1-31 1 124 1 69 1-57 1-133 1 2 1 22 1-10 1 6 1 9 1-8 1 43 1 2 1 16 1 10 1 12 1 2 1-6 1 16 1-14 1-14 1-2 1-19 1 0 1-11 1 5 1 6 1 8 1 12 1 4 1-4 1 8 1-71 1 5 1-12 1 109 1 79 1-5 1-200 1 2 1 22 1 3 1-19 1 0 1 21 1 74 1-6 1 21 1 0 1 1 1-38 1 4 1-6 1-7 1-14 1 10 1 6 1-10 1-7 1 18 1 16 1-8 1 21 1 2 1 2 1-10 1 9 1-81 1-6 1-5 1 111 1 79 1-5 1-196 1 2 1 20 1-4 1-8 1-1 1 10 1 94 1-20 1-8 1-8 1-4 1-1 1-24 1 6 1 5 1 12 1-5 1 14 1 25 1-5 1-7 1 0 1 8 1-12 1 5 1-15 1-13 1 5 1-10 1-6 1-2 1-63 1 25 1-22 1 129 1 79 1-5 1-196 1 2 1 20 1-18 1 22 1-5 1 3 1 26 1 2 1 7 1 7 1 3 1 13 1 7 1 12 1-2 1 17 1-27 1 7 1-14 1-9 1-16 1 7 1-3 1 13 1-8 1-61 1-17 1 27 1 107 1 79 1-5 1-202 1 2 1 23 1 3 1-20 1-8 1 10 1 45 1 19 1-4 1 27 1 15 1-4 1-7 1 5 1 2 1-3 1-22 1 6 1-26 1 3 1-10 1 16 1 3 1-9 1 27 1-3 1 9 1-79 1 7 1-23 1 102 1 50 1-42 1-110 1 2 1 21 1-1 1-16 1-8 1 31 1 38 1 31 1 18 1-4 1-4 1-9 1-3 1-17 1-7 1-19 1 6 1-7 1 16 1-7 1-1 1 16 1 3 1 21 1 5 1-7 1 16 1-15 1-17 1 13 1-16 1-16 1 2 1-70 1 9 1 1 1 105 1 64 1-51 1-121 1 2 1 20 1 2 1-23 1 10 1 8 1 43 1-4 1 7 1-12 1 9 1-7 1 18 1 9 1 4 1 25 1-14 1-2 1 1 1-17 1-11 1-11 1 11 1-16 1 7 1 20 1 1 1-62 1-17 1-5 1 126 1 79 1-5 1-238 1 4 1 39 1 0 1 12 1 9 1 0 1 39 1 2 1 18 1 28 1-5 1 21 1-28 1 15 1-20 1-5 1-3 1-17 1-19 1 15 1 9 1-8 1 17 1 1 1 6 1 10 1 22 1-3 1-116 1 23 1-22 1 91 1 34 1-33 1-100 1 2 1 23 1-17 1-12 1 29 1-15 1 103 1 4 1 16 1-10 1-17 1-8 1-6 1-30 1-5 1 22 1-20 1 4 1 23 1 1 1 11 1 9 1 12 1 7 1 0 1-22 1-24 1-58 1 3 1-7 1 97 1 64 1-51 1-148 1 4 1 31 1 14 1-9 1-26 1 11 1 102 1 13 1-23 1-26 1 7 1-13 1-3 1 16 1 1 1 20 1-3 1 14 1-3 1 13 1-17 1 33 1-38 1 6 1-25 1 4 1-22 1-43 1 10 1-19 1 119 1 79 1-5 1-198 1 2 1 21 1-24 1 23 1-27 1-1 1 97 1-27 1 0 1-2 1-5 1 9 1 27 1-4 1 14 1 8 1 0 1-6 1-5 1 3 1-18 1 1 1-20 1 15 1-19 1 7 1 1 1 20 1-16 1 30 1 12 1-90 1-22 1 12 1 110 1 22 1-41 1-105 1 2 1 20 1-34 1 25 1-16 1 30 1 75 1 15 1-13 1 9 1-12 1 7 1-14 1-12 1-6 1-12 1-8 1 8 1-6 1 13 1 25 1-3 1-1 1 27 1-7 1-4 1 8 1-7 1-84 1-19 1-12 1 128 1 79 1-5 1-224 1 4 1 32 1-15 1 10 1 16 1-20 1 124 1-9 1 1 1-21 1-12 1-10 1 0 1-6 1-3 1 6 1 4 1 4 1 17 1 6 1 17 1-10 1-4 1-7 1 10 1-26 1-29 1 26 1-9 1-52 1-11 1 15 1 102 1 79 1-5 1-198 1 2 1 21 1-16 1 16 1-12 1-18 1 69 1 1 1 5 1 18 1-14 1 14 1 20 1-7 1 10 1 13 1-6 1-22 1 1 1-5 1-26 1 16 1-27 1 2 1 4 1 13 1 8 1 16 1 4 1-86 1 0 1 14 1 96 1 79 1-5 1-198 1 2 1 21 1-27 1 19 1-21 1 25 1 65 1 3 1 3 1 24 1-4 1-19 1 13 1-3 1-21 1-5 1-8 1-10 1 2 1 2 1 7 1 12 1 15 1-21 1-64 1 3 1-1 1 86 1 32 1-34 1-94 1 2 1 20 1-27 1 4 1 5 1-3 1 75 1 35 1-11 1 13 1-16 1 11 1 0 1-11 1-15 1-22 1 9 1-8 1-10 1 10 1 15 1-3 1 3 1 4 1 5 1 19 1 6 1 1 1-24 1-70 1-20 1 30 1 95 1 79 1-5 1-224 1 4 1 32 1-6 1-2 1 4 1 16 1 82 1-4 1-5 1-7 1-18 1-1 1-18 1 7 1-8 1 2 1 9 1 16 1 16 1 16 1 8 1-14 1 15 1-25 1-5 1-2 1-8 1-24 1 18 1-57 1-21 1 31 1 92 1 70 1-56 1-161 1 4 1 34 1-9 1 6 1 5 1 18 1 41 1-2 1-11 1-1 1-8 1 17 1-4 1 15 1 21 1-5 1 17 1 9 1-6 1-11 1-1 1-21 1-18 1 7 1-17 1 7 1-4 1 6 1 8 1-53 1-1 1 1 1 86 1 54 1-43 1-157 1 5 1 41 1 21 1-6 1-15 1 11 1 44 1 17 1 9 1 9 1 4 1 0 1 6 1-3 1 0 1-22 1 16 1-21 1-15 1 5 1 4 1-2 1 4 1 10 1 9 1 9 1 0 1 12 1 6 1-19" transform="translate(61.500 93.850) scale(0.11695 -0.38850)" stroke="#0000ff" style="stroke-width:0.9"/><path d="M234 34l1-75 1 7 1-17 1 88 1 27 1-26 1-78 1 2 1 18 1-33 1 18 1-11 1-2 1 80M262 46l1-92 1 10 1 18 1 65 1 47 1-38 1-132 1 4 1 34 1-4 1 8 1 6 1-6 1 76M296 14l1-35 1-23 1 12 1 85 1 47 1-40 1-110 1 2 1 23 1-23 1 0 1 4 1-10 1 74M332 34l1-79 1 6 1 16 1 72 1 39 1-35 1-107 1 3 1 24 1-5 1 11 1 2 1-4 1 56M368 54l1-81 1-18 1 0 1 123 1 79 1-5 1-278 1 6 1 57 1 45 1-12 1 0 1 14 1 81M402 25l1-81 1 24 1-9 1 83 1 42 1-34 1-114 1 3 1 29 1 7 1-6 1-11 1 12 1 64M438 37l1-56 1-21 1-5 1 104 1 11 1-28 1-88 1 2 1 21 1-19 1 2 1 23 1-1 1 44M475 58l1-84 1 6 1 1 1 76 1 57 1-46 1-132 1 3 1 29 1-12 1 10 1 9 1 5 1 78M511 12l1-44 1 13 1-14 1 104 1 71 1-57 1-171 1 4 1 39 1 9 1 18 1-21 1 8 1 58M545 15l1-66 1 2 1 26 1 96 1 73 1-58 1-220 1 7 1 59 1 21 1-2 1-9 1 17 1 59M576 25l1-68 1 20 1 0 1 58 1 35 1-28 1-92 1 2 1 23 1-4 1 9 1-5 1-9 1 66M615 45l1-67 1-1 1-22 1 123 1 79 1-5 1-196 1 2 1 20 1 1 1 0 1-33 1 7 1 70M647 52l1-103 1-5 1 31 1 93 1 40 1-43 1-145 1 4 1 36 1-13 1 27 1 4 1 6 1 42M685 47l1-96 1 6 1 22 1 68 1 47 1-38 1-110 1 3 1 24 1-9 1 3 1 9 1-14 1 107M716 49l1-91 1-9 1 11 1 104 1 64 1-51 1-121 1 2 1 20 1-18 1-12 1 18 1 1 1 105M752 9l1-41 1-11 1 26 1 95 1 79 1-5 1-236 1 4 1 38 1-2 1-11 1 31 1-4 1 50M788 42l1-69 1 11 1-9 1 91 1 14 1-32 1-188 1 7 1 63 1 18 1 26 1-23 1 28 1 52M822 66l1-97 1 12 1-1 1 95 1 75 1-60 1-126 1 2 1 16 1-19 1 16 1-27 1 11 1 81M860 34l1-63 1 2 1-23 1 109 1 59 1-47 1-151 1 4 1 36 1-12 1 14 1-3 1-7 1 92M895 17l1-48 1 6 1 8 1 81 1 30 1-38 1-106 1 2 1 23 1-14 1-13 1 29 1-30 1 72M930 44l1-68 1-13 1 20 1 88 1 57 1-51 1-147 1 4 1 31 1 16 1-27 1 27 1 2 1 41M961 45l1-96 1 23 1 10 1 77 1 25 1-34 1-94 1 2 1 20 1-29 1 16 1 1 1 13 1 51M997 52l1-76 1-23 1-4 1 129 1 79 1-5 1-196 1 2 1 20 1-26 1 6 1 13 1-15 1 102M1031 33l1-63 1-17 1 7 1 115 1 75 1-60 1-150 1 3 1 27 1 13 1-20 1-13 1 24 1 90M1071 49l1-83 1-14 1-6 1 132 1 79 1-5 1-198 1 2 1 21 1-17 1 7 1 4 1 4 1 41M1105 68l1-108 1 8 1-19 1 129 1 79 1-5 1-200 1 2 1 22 1-3 1 10 1-4 1-12 1 83M1141 50l1-94 1 16 1-17 1 123 1 79 1-5 1-196 1 2 1 20 1-34 1 3 1 13 1 12 1 84M1175 8l1-29 1-27 1 15 1 81 1 34 1-33 1-111 1 3 1 28 1 6 1 2 1-22 1-5 1 64M1210 56l1-105 1-5 1 9 1 111 1 28 1-38 1-160 1 5 1 47 1 23 1-15 1 20 1-1 1 64M1244 78l1-114 1 11 1 4 1 99 1 79 1-5 1-196 1 2 1 20 1-32 1 25 1-16 1-8 1 111M1280 29l1-78 1 23 1-8 1 83 1 49 1-39 1-177 1 6 1 53 1 38 1-14 1-5 1 7 1 69M1316 34l1-72 1-2 1 2 1 116 1 79 1-5 1-240 1 4 1 40 1 19 1-15 1 2 1 20 1 39M1350 48l1-89 1 5 1-19 1 128 1 41 1-46 1-184 1 6 1 52 1 18 1 6 1 4 1-25 1 82M1389 44l1-77 1-4 1 7 1 97 1 67 1-54 1-160 1 4 1 36 1 22 1-28 1 2 1 8 1 111M1425 19l1-36 1-37 1 32 1 94 1 72 1-58 1-170 1 4 1 38 1 7 1-6 1-12 1 27 1 36M1459 47l1-63 1-25 1 13 1 99 1 71 1-57 1-145 1 3 1 27 1-2 1-8 1 23 1 0 1 63M1495 35l1-85 1-2 1 24 1 92 1 64 1-51 1-137 1 3 1 27 1-10 1 3 1-14 1 24 1 77M1532 17l1-34 1-28 1 12 1 102 1 69 1-55 1-143 1 3 1 27 1 9 1 5 1-33 1 18 1 51M1565 52l1-106 1 14 1-10 1 128 1 78 1-62 1-138 1 2 1 20 1-18 1 9 1 9 1-27 1 66M1603 41l1-75 1 13 1-14 1 99 1 64 1-51 1-165 1 4 1 40 1 20 1-12 1 3 1-10 1 93M1638 5l1-35 1-24 1 8 1 124 1 79 1-5 1-200 1 2 1 22 1-4 1-3 1 9 1-8 1 47M1673 16l1-69 1 0 1 33 1 98 1 79 1-5 1-212 1 3 1 27 1 2 1 6 1-1 1 4 1 35M1708 55l1-88 1-15 1 5 1 121 1 79 1-5 1-196 1 2 1 20 1-24 1 20 1-9 1-5 1 81M1742 65l1-116 1 3 1-8 1 111 1 55 1-44 1-154 1 4 1 40 1-12 1 32 1-30 1 33 1 81M1778 15l1-69 1 16 1-11 1 111 1 62 1-50 1-138 1 3 1 29 1-15 1 12 1 13 1-16 1 77M1814 29l1-83 1 31 1-13 1 114 1 79 1-5 1-196 1 2 1 20 1 1 1-10 1-11 1 18 1 42M1848 44l1-96 1 22 1-25 1 125 1 52 1-49 1-123 1 2 1 23 1-8 1-17 1 28 1-13 1 95M1882 68l1-98 1 5 1-11 1 91 1 55 1-44 1-210 1 7 1 65 1 50 1-1 1-17 1 19 1 76M1918 13l1-50 1 5 1 14 1 79 1 61 1-49 1-123 1 2 1 23 1-18 1 13 1 2 1 8 1 27M1952 13l1-63 1 19 1 4 1 84 1 57 1-46 1-112 1 2 1 20 1-10 1-18 1 23 1-17 1 53M1987 44l1-76 1 1 1-6 1 105 1 34 1-41 1-121 1 3 1 27 1 6 1 3 1-32 1 27 1 37M2022 53l1-85 1-20 1 0 1 120 1 68 1-54 1-156 1 4 1 33 1 10 1 5 1-26 1 2 1 95M2057 24l1-60 1 8 1 1 1 73 1 46 1-37 1-149 1 5 1 42 1-7 1 13 1 10 1-16 1 108M2093 8l1-40 1-4 1-5 1 119 1 79 1-5 1-222 1 4 1 31 1 2 1-8 1-4 1-2 1 56M2128 39l1-76 1-17 1 36 1 82 1 48 1-45 1-111 1 2 1 20 1-13 1-6 1 8 1 12 1 49M2163 59l1-78 1-1 1-27 1 125 1 79 1-5 1-216 1 3 1 29 1-11 1-9 1 20 1-19 1 90M2198 61l1-104 1-6 1 4 1 123 1 79 1-5 1-196 1 2 1 20 1-20 1 10 1-17 1 2 1 112M2236 17l1-57 1-4 1-2 1 101 1 55 1-44 1-182 1 6 1 52 1 13 1-9 1 16 1 20 1 49M2270 40l1-67 1-5 1-7 1 107 1 32 1-40 1-104 1 2 1 20 1-17 1-10 1 13 1-13 1 79M2306 61l1-99 1-9 1 18 1 107 1 79 1-5 1-236 1 4 1 38 1 6 1 6 1 8 1 1 1 71M2342 45l1-74 1 0 1-27 1 111 1 55 1-44 1-172 1 5 1 48 1 34 1-32 1 6 1 7 1 98M2376 17l1-46 1-6 1-10 1 113 1 68 1-54 1-146 1 3 1 29 1 14 1-7 1-16 1-12 1 99M2415 58l1-114 1 33 1-23 1 100 1 30 1-34 1-94 1 2 1 20 1-27 1 28 1-25 1 1 1 101M2451 37l1-83 1 14 1 8 1 86 1 62 1-50 1-124 1 2 1 23 1-19 1 2 1-13 1 17 1 73M2485 9l1-29 1-21 1 12 1 107 1 79 1-5 1-196 1 2 1 20 1 4 1-26 1-7 1 0 1 75M2524 79l1-111 1 7 1-10 1 87 1 46 1-39 1-103 1 2 1 20 1-31 1 3 1 29 1-7 1 75M2560 45l1-63 1-18 1-20 1 98 1 42 1-34 1-94 1 2 1 20 1 6 1-18 1 3 1 3 1 57M2594 25l1-63 1-14 1 28 1 79 1 55 1-44 1-182 1 6 1 52 1 16 1 12 1 7 1-27 1 78M2629 22l1-66 1 19 1-3 1 106 1 79 1-5 1-202 1 2 1 23 1-20 1 4 1-10 1 25 1 55M2667 53l1-87 1-8 1 21 1 99 1 79 1-5 1-202 1 2 1 23 1 9 1-34 1 32 1-12 1 77M2703 47l1-80 1-1 1-17 1 129 1 78 1-62 1-144 1 2 1 23 1 1 1-24 1 9 1-15 1 100M2737 17l1-43 1-13 1-3 1 119 1 77 1-62 1-140 1 2 1 22 1-23 1-7 1 2 1 12 1 70M2773 33l1-64 1 10 1-25 1 98 1 50 1-41 1-111 1 2 1 23 1-11 1-1 1-17 1 23 1 54M2808 64l1-86 1-3 1-25 1 128 1 79 1-5 1-216 1 3 1 29 1-21 1 8 1 9 1 19 1 82M2842 61l1-95 1-14 1 26 1 89 1 67 1-54 1-144 1 3 1 29 1 16 1-6 1-19 1 15 1 91M2878 10l1-54 1-3 1 29 1 71 1 53 1-42 1-170 1 5 1 48 1 9 1 22 1-26 1 11 1 60M2912 34l1-61 1-27 1 30 1 77 1 53 1-42 1-108 1 2 1 20 1-6 1-6 1 17 1-28 1 45M2948 58l1-99 1-8 1 18 1 109 1 79 1-5 1-196 1 2 1 20 1-9 1-7 1 13 1-30 1 111M2983 66l1-85 1-24 1 14 1 67 1 38 1-30 1-96 1 2 1 23 1 8 1-27 1-7 1 13 1 100M3019 25l1-54 1-10 1-3 1 109 1 67 1-54 1-124 1 2 1 20 1 5 1-4 1 2 1-4 1 48M3053 18l1-70 1 11 1-8 1 127 1 79 1-5 1-272 1 6 1 54 1 12 1 23 1-19 1 13 1 53M3089 59l1-101 1-13 1 31 1 85 1 61 1-49 1-117 1 2 1 20 1-3 1 5 1 3 1-39 1 115M3123 40l1-61 1-4 1 5 1 68 1 48 1-38 1-102 1 2 1 20 1 2 1-21 1 14 1 4 1 85M3159 29l1-60 1 11 1-31 1 124 1 69 1-57 1-133 1 2 1 22 1-10 1 6 1 9 1-8 1 43M3193 47l1-71 1 5 1-12 1 109 1 79 1-5 1-200 1 2 1 22 1 3 1-19 1 0 1 21 1 74M3228 59l1-81 1-6 1-5 1 111 1 79 1-5 1-196 1 2 1 20 1-4 1-8 1-1 1 10 1 94M3266 9l1-63 1 25 1-22 1 129 1 79 1-5 1-196 1 2 1 20 1-18 1 22 1-5 1 3 1 26M3298 22l1-61 1-17 1 27 1 107 1 79 1-5 1-202 1 2 1 23 1 3 1-20 1-8 1 10 1 45M3332 49l1-79 1 7 1-23 1 102 1 50 1-42 1-110 1 2 1 21 1-1 1-16 1-8 1 31 1 38M3372 19l1-70 1 9 1 1 1 105 1 64 1-51 1-121 1 2 1 20 1 2 1-23 1 10 1 8 1 43M3406 36l1-62 1-17 1-5 1 126 1 79 1-5 1-238 1 4 1 39 1 0 1 12 1 9 1 0 1 39M3441 73l1-116 1 23 1-22 1 91 1 34 1-33 1-100 1 2 1 23 1-17 1-12 1 29 1-15 1 103M3475 30l1-58 1 3 1-7 1 97 1 64 1-51 1-148 1 4 1 31 1 14 1-9 1-26 1 11 1 102M3509 11l1-43 1 10 1-19 1 119 1 79 1-5 1-198 1 2 1 21 1-24 1 23 1-27 1-1 1 97M3547 70l1-90 1-22 1 12 1 110 1 22 1-41 1-105 1 2 1 20 1-34 1 25 1-16 1 30 1 75M3582 65l1-84 1-19 1-12 1 128 1 79 1-5 1-224 1 4 1 32 1-15 1 10 1 16 1-20 1 124M3618 24l1-52 1-11 1 15 1 102 1 79 1-5 1-198 1 2 1 21 1-16 1 16 1-12 1-18 1 69M3654 54l1-86 1 0 1 14 1 96 1 79 1-5 1-198 1 2 1 21 1-27 1 19 1-21 1 25 1 65M3685 28l1-64 1 3 1-1 1 86 1 32 1-34 1-94 1 2 1 20 1-27 1 4 1 5 1-3 1 75M3721 43l1-70 1-20 1 30 1 95 1 79 1-5 1-224 1 4 1 32 1-6 1-2 1 4 1 16 1 82M3757 26l1-57 1-21 1 31 1 92 1 70 1-56 1-161 1 4 1 34 1-9 1 6 1 5 1 18 1 41M3793 21l1-53 1-1 1 1 1 86 1 54 1-43 1-157 1 5 1 41 1 21 1-6 1-15 1 11 1 44" transform="translate(61.500 93.850) scale(0.11695 -0.38850)" stroke="#0000ff" />
</g>
<g class="d" clip-path="url(#c2)">
<path d="M1 0.01H222" transform="translate(61.500 308.500) scale(0.11695 -0.35000)" stroke="#ff0000" style="stroke-width:1.25"/><path d="M222 0l1 1 1-1 1 1 1-4 1 3 1 13 1 29 1 25 1 13 1 4 1-2 1-6 1-17 1-25 1-26 1-14 1 3 1 8 1-17 1-49 1 24 1 0 1-2 1-10 1-10 1 10 1 8 1 2 1 4 1-8 1-1 1-8 1-7 1 77 1 41 1 35 1 18 1 6 1-3 1-9 1-24 1-35 1-35 1 3 1-17 1 6 1-9 1-72 1 31 1-6 1-5 1 2 1 5 1 3 1-16 1 7 1-10 1-9 1-4 1 25 1 5 1 49 1 3 1-18 1 6 1-2 1-15 1 44 1 41 1 35 1 18 1 6 1-2 1-10 1-23 1-36 1-35 1 0 1 2 1-18 1-10 1-133 1 59 1 19 1 22 1-6 1-20 1-3 1 8 1 22 1-16 1 9 1-16 1 19 1-13 1 48 1 34 1-16 1-4 1-17 1 45 1-14 1-38 1 41 1 38 1 32 1 16 1 5 1-2 1-9 1-21 1-32 1-32 1 6 1-19 1-17 1 4 1-145 1 64 1 37 1-15 1 5 1 0 1 16 1-10 1 13 1-9 1-6 1-5 1-5 1 29 1 35 1 22 1-1 1-26 1-11 1 16 1 15 1 5 1 9 1 41 1 35 1 18 1 6 1-3 1-9 1-24 1-35 1-35 1-20 1 34 1-54 1 36 1-54 1 18 1-28 1-3 1 3 1-8 1-2 1-13 1 15 1-8 1 11 1-11 1 25 1-18 1 56 1 16 1 4 1 11 1-2 1-21 1 17 1 38 1 32 1 16 1 5 1-2 1-8 1-22 1-32 1-32 1 15 1-20 1-15 1 2 1-181 1 75 1 56 1-16 1-3 1 2 1 7 1 15 1-24 1 12 1-12 1 21 1-20 1 9 1 71 1 5 1-2 1-5 1-10 1 17 1-11 1-1 1 19 1 40 1 34 1 17 1 6 1-2 1-9 1-23 1-34 1-35 1-23 1-5 1 13 1 26 1-172 1 60 1 42 1-7 1-10 1 2 1 2 1-5 1-9 1 23 1-1 1 5 1-26 1 10 1 46 1-3 1 24 1 16 1-23 1 34 1-28 1 34 1-14 1-5 1 39 1 33 1 17 1 5 1-2 1-9 1-22 1-33 1-34 1 10 1-22 1 10 1-18 1-122 1 52 1 17 1-6 1 10 1 10 1-5 1-24 1 2 1 15 1-2 1-13 1 17 1-16 1 90 1 4 1 9 1-33 1-29 1 2 1 34 1 18 1-4 1 39 1 34 1 17 1 6 1-3 1-9 1-22 1-34 1-34 1 23 1-16 1 1 1-10 1-75 1 26 1-24 1 4 1-3 1-2 1-2 1 17 1-25 1 19 1 6 1-19 1-7 1 25 1 43 1 22 1-54 1 37 1 19 1-32 1 33 1 41 1 34 1 18 1 5 1-2 1-9 1-23 1-35 1-34 1-27 1 9 1 12 1-27 1-40 1 24 1-37 1 1 1 12 1 14 1-28 1 0 1 9 1 1 1-11 1 17 1 1 1-11 1 77 1 8 1-10 1 10 1 38 1 33 1 16 1 6 1-2 1-9 1-22 1-32 1-33 1 10 1-17 1 6 1-35 1-166 1 76 1 68 1-22 1 24 1-23 1-6 1 11 1 5 1 11 1-30 1 14 1 3 1 8 1 53 1 14 1-35 1-14 1 65 1-26 1 3 1-4 1-5 1-6 1 12 1 12 1 41 1 34 1 18 1 6 1-3 1-9 1-23 1-35 1-34 1-5 1-17 1 11 1-6 1-55 1 24 1-23 1 8 1-21 1 25 1-27 1 11 1 14 1-24 1 6 1-4 1 1 1 19 1 54 1 13 1-20 1 13 1 8 1 41 1 35 1 17 1 6 1-2 1-10 1-23 1-35 1-34 1-7 1-3 1 13 1-33 1-134 1 61 1 36 1-23 1 20 1-21 1 21 1-18 1 6 1 19 1 4 1-2 1-13 1 4 1 59 1 25 1-24 1-9 1-7 1-7 1 30 1-3 1 31 1-12 1-8 1 40 1 34 1 17 1 6 1-2 1-9 1-23 1-34 1-35 1 2 1-30 1 0 1 15 1-163 1 66 1 53 1-17 1 2 1-2 1-2 1 8 1 10 1-14 1 12 1-4 1-16 1-7 1 83 1-23 1 44 1-10 1 41 1 35 1 18 1 6 1-3 1-9 1-24 1-35 1-35 1 6 1 14 1-24 1-6 1-211 1 83 1 61 1 5 1 2 1 10 1-29 1 5 1 12 1 7 1-24 1 21 1-5 1-9 1 97 1-39 1 17 1 7 1-41 1 26 1-5 1-14 1 39 1 38 1 33 1 17 1 5 1-2 1-9 1-22 1-33 1-33 1-17 1 13 1-33 1 29 1-55 1 21 1-15 1-2 1-13 1-2 1-15 1 4 1 13 1 13 1-13 1-2 1-11 1 15 1 57 1 28 1-28 1 2 1 14 1-21 1-3 1-17 1 45 1 41 1 35 1 18 1 6 1-2 1-10 1-23 1-36 1-35 1-6 1 6 1-2 1 13 1-81 1 23 1-27 1-5 1 14 1 6 1 1 1-5 1 1 1-15 1 11 1-22 1 27 1 4 1 17 1 48 1-11 1 12 1-32 1-15 1 44 1 41 1 36 1 18 1 6 1-3 1-9 1-24 1-35 1-36 1-52 1 26 1 21 1-32 1-184 1 83 1 59 1 5 1-2 1 14 1 1 1-29 1 12 1-12 1 0 1 9 1-7 1 15 1 57 1-20 1 64 1-57 1 35 1-16 1 3 1 11 1-10 1-3 1 14 1 40 1 34 1 17 1 6 1-3 1-9 1-22 1-35 1-34 1-36 1 2 1 11 1 36 1-134 1 44 1-12 1 19 1-15 1 10 1-12 1 26 1-11 1-3 1 6 1 1 1-8 1 20 1 63 1-8 1-4 1-7 1 15 1-6 1-20 1 28 1 39 1 32 1 17 1 5 1-2 1-9 1-22 1-32 1-33 1 11 1-62 1 43 1 16 1-234 1 86 1 67 1-16 1 25 1-23 1 14 1 5 1 4 1-10 1-3 1 9 1-19 1-2 1 60 1 18 1-4 1-1 1-31 1 72 1-42 1 23 1 39 1 33 1 17 1 5 1-2 1-9 1-22 1-34 1-33 1-10 1-12 1 20 1-39 1-18 1 19 1-37 1-2 1 4 1 1 1-12 1 5 1 2 1 15 1-24 1 31 1-28 1 0 1 72 1 6 1-24 1 38 1 40 1 35 1 18 1 6 1-3 1-9 1-23 1-35 1-35 1-18 1-4 1 6 1 6 1-190 1 75 1 56 1-9 1 1 1 5 1-10 1 2 1 16 1-1 1 1 1-7 1 4 1-9 1 60 1 11 1 14 1-17 1-31 1 45 1-7 1-28 1 35 1 41 1 36 1 18 1 6 1-3 1-9 1-24 1-36 1-35 1-23 1 17 1-13 1 8 1-189 1 75 1 42 1 0 1 21 1-23 1 27 1-9 1-20 1 12 1-2 1-5 1 13 1-13 1 84 1-38 1 37 1-6 1-19 1 52 1-24 1 38 1 32 1 16 1 6 1-3 1-8 1-22 1-32 1-32 1-1 1 16 1-41 1-14 1-37 1 27 1-20 1 7 1 6 1-29 1 17 1 11 1-11 1-10 1 10 1 2 1 11 1-5 1 46 1-2 1 9 1-15 1 12 1-10 1 21 1-1 1-16 1 30 1-25 1-1 1 19 1 40 1 35 1 17 1 6 1-2 1-10 1-23 1-34 1-35 1 27 1-6 1-25 1-2 1-176 1 69 1 34 1 22 1-26 1 11 1-2 1-14 1 4 1 2 1 15 1-12 1 21 1-28 1 65 1-3 1-18 1 54 1-14 1-9 1 17 1 40 1 34 1 17 1 6 1-2 1-9 1-23 1-34 1-35 1-5 1-5 1-13 1-5 1-127 1 57 1 22 1 8 1-5 1 9 1-9 1-3 1-3 1 9 1-3 1 4 1-1 1-5 1 49 1 23 1-32 1 31 1-7 1-24 1 30 1-36 1 46 1 39 1 33 1 16 1 5 1-2 1-8 1-22 1-33 1-33 1-49 1 28 1-3 1 6 1-122 1 52 1 8 1 21 1-14 1 5 1-14 1 12 1-20 1 8 1-3 1 20 1-19 1 23 1 44 1 21 1-11 1-25 1 33 1 7 1-3 1 38 1 32 1 16 1 6 1-3 1-8 1-22 1-32 1-32 1 2 1-9 1 0 1-22 1-183 1 80 1 58 1 2 1 7 1 4 1-18 1 20 1-11 1-15 1 11 1 3 1-8 1-1 1 80 1-6 1-10 1 15 1-46 1 25 1-17 1 45 1 40 1 34 1 17 1 5 1-2 1-9 1-23 1-34 1-34 1-35 1 54 1-11 1-15 1-117 1 45 1 7 1 5 1-21 1 8 1 7 1-9 1 3 1-3 1 22 1-26 1-1 1 3 1 69 1-8 1 12 1 15 1-17 1-10 1 29 1 41 1 35 1 17 1 6 1-2 1-10 1-23 1-35 1-34 1 3 1-49 1 27 1 21 1-145 1 52 1 15 1 18 1-12 1-3 1-12 1 7 1 9 1-8 1 4 1-15 1 3 1 11 1 43 1 52 1-50 1 4 1 19 1 5 1-23 1 10 1 19 1 41 1 34 1 17 1 6 1-2 1-9 1-23 1-35 1-34 1 8 1-24 1 0 1-22 1-87 1 45 1-10 1 1 1 5 1 11 1-14 1 25 1 1 1-17 1-6 1 25 1-20 1 11 1 60 1-29 1 47 1-29 1-9 1-16 1 30 1 9 1 10 1 40 1 33 1 17 1 6 1-2 1-9 1-23 1-34 1-34 1-31 1 18 1-19 1 35 1-68 1 22 1-40 1-6 1 28 1-5 1-21 1 14 1-1 1-14 1 16 1-6 1-8 1-2 1 60 1-1 1 14 1 27 1-21 1 14 1 0 1 38 1 32 1 16 1 6 1-3 1-8 1-22 1-32 1-32 1-15 1-22 1 24 1 9 1-48 1 16 1-53 1 16 1 6 1-16 1 13 1-8 1-5 1-3 1 2 1 22 1 5 1-32 1 89 1 0 1 0 1-19 1 2 1 12 1-43 1 77 1-29 1 0 1-9 1 14 1 38 1 33 1 16 1 6 1-3 1-8 1-22 1-33 1-32 1-5 1 34 1-39 1 17 1-74 1 22 1-32 1 1 1 2 1-7 1-3 1-4 1 9 1 20 1-25 1 2 1 23 1-15 1 47 1 28 1 21 1-35 1-9 1 0 1 15 1-6 1 18 1 38 1 33 1 16 1 5 1-2 1-9 1-21 1-33 1-32 1-2 1-26 1-10 1 53 1-155 1 52 1 17 1-17 1 23 1 2 1-4 1-14 1 24 1-13 1-4 1 13 1-13 1-15 1 81 1 12 1-40 1 48 1-13 1 30 1-22 1 41 1 35 1 17 1 6 1-2 1-9 1-24 1-35 1-35 1-6 1-18 1 42 1-56 1-168 1 78 1 71 1-6 1-12 1-1 1-1 1-1 1-7 1-1 1 23 1 4 1-17 1 10 1 54 1 20 1 1 1-15 1-5 1-20 1 34 1-9 1 11 1 39 1 34 1 17 1 6 1-2 1-9 1-23 1-34 1-34 1-2 1-24 1 17 1 12 1-63 1 19 1-38 1-3 1 7 1 4 1-16 1-2 1 3 1 6 1 10 1 10 1-7 1-22 1 69 1 43 1-28 1 16 1-16 1 15 1-6 1-9 1-20 1 32 1 41 1 35 1 17 1 6 1-2 1-9 1-24 1-35 1-35 1-8 1 36 1-66 1 19 1-83 1 36 1 1 1-11 1 1 1 12 1-24 1 7 1-3 1 20 1-9 1 2 1 10 1-18 1 62 1-2 1-3 1 16 1-31 1 40 1 39 1 32 1 17 1 5 1-2 1-9 1-22 1-32 1-33 1-14 1 43 1-19 1 0 1-160 1 55 1 13 1 14 1-8 1 11 1-8 1 16 1-14 1-6 1 14 1-23 1 20 1 9 1 50 1-30 1 15 1 30 1-45 1 12 1 34 1-34 1 5 1 7 1 18 1 39 1 33 1 16 1 6 1-3 1-8 1-22 1-33 1-33 1-14 1-8 1 15 1-5 1-125 1 50 1 24 1 0 1-25 1 27 1-22 1 16 1-3 1-17 1 26 1-3 1-5 1 7 1 86 1-52 1-3 1 17 1-1 1 0 1-10 1 31 1 40 1 35 1 17 1 6 1-3 1-9 1-23 1-34 1-35 1-9 1 14 1-12 1 26 1-72 1 17 1-22 1-26 1 23 1-22 1 1 1 24 1-10 1 1 1-15 1 9 1-1 1 9 1 52 1 40 1-32 1 34 1-31 1-49 1 21 1 37 1 41 1 35 1 18 1 6 1-2 1-10 1-23 1-36 1-35 1-24 1 11 1-30 1 5 1-157 1 73 1 64 1-26 1 25 1-10 1-5 1-6 1 3 1-3 1-3 1 2 1 20 1-6 1 58 1-6 1 21 1-50 1 15 1 40 1-28 1 22 1 39 1 34 1 17 1 6 1-2 1-10 1-22 1-34 1-34 1-13 1-1 1 43 1-29 1-122 1 45 1 18 1 0 1-14 1-10 1 21 1-4 1 1 1 2 1-15 1 15 1-21 1 26 1 61 1 14 1-7 1 10 1-6 1 9 1-18 1 38 1 32 1 16 1 6 1-2 1-9 1-21 1-33 1-32 1-14 1 8 1-1 1 12 1-173 1 63 1 39 1-20 1 26 1-12 1 8 1-5 1-17 1 4 1 7 1-9 1 22 1 4 1 25 1 28 1-11 1-5 1 21 1-18 1-1 1 0 1 25 1 41 1 35 1 18 1 6 1-3 1-9 1-23 1-35 1-35 1-10 1 4 1 3 1-11 1-109 1 45 1 12 1 7 1-4 1-26 1 19 1 7 1-27 1 9 1 15 1-17 1 22 1-30 1 62 1 8 1 32 1 12 1-30 1 14 1-22 1 38 1-18 1 41 1 35 1 18 1 5 1-2 1-9 1-23 1-35 1-35 1 3 1-13 1 25 1-54 1-89 1 47 1 20 1-9 1 9 1-22 1 22 1-24 1 14 1 4 1 1 1-2 1-1 1 3 1 60 1-18 1 36 1-34 1-30 1 54 1 4 1 41 1 35 1 18 1 6 1-3 1-9 1-24 1-35 1-35 1-51 1 39 1 40 1-23 1-221 1 81 1 73 1-11 1-5 1-1 1-11 1 30 1-6 1-1 1-14 1 4 1 7 1-12 1 68 1 0 1 3 1-8 1-33 1 50 1 7 1 41 1 35 1 17 1 6 1-2 1-9 1-24 1-35 1-34 1 23 1-42 1 2 1-3 1-103 1 45 1 18 1-5 1-6 1 9 1 4 1-6 1-7 1-9 1 18 1-11 1-17 1 18 1 77 1 4 1-19 1 23 1-28 1-12 1 32 1-39 1 40 1 41 1 35 1 18 1 6 1-2 1-10 1-23 1-36 1-35 1-52 1 42 1-4 1 15 1-170 1 63 1 38 1-8 1 4 1 13 1-23 1 0 1 12 1 11 1-15 1-7 1 22 1-16 1 46 1 9 1-13 1-4 1 31 1-22 1 33 1 39 1 33 1 17 1 5 1-2 1-9 1-22 1-34 1-33 1 25 1-57 1-11 1 10 1-198 1 88 1 56 1 19 1-19 1 13 1 3 1 3 1-9 1-9 1 26 1-4 1-7 1-7 1 74 1-22 1 1 1 24 1-43 1 21 1 10 1 18 1 39 1 33 1 16 1 6 1-2 1-9 1-22 1-33 1-33 1-18 1-9 1 31 1-37 1-182 1 81 1 67 1 2 1-14 1 9 1-9 1 19 1-27 1 26 1-27 1 31 1-1 1 0 1 35 1 14 1-11 1 17 1-48 1 27 1-7 1 37 1 40 1 34 1 17 1 6 1-2 1-10 1-22 1-34 1-35 1-30 1 27 1 19 1-42 1-98 1 45 1 4 1-10 1 21 1-6 1-17 1 23 1 8 1-20 1-7 1 17 1-3 1 13 1 32 1-12 1-9 1 70 1-13 1-6 1-46 1 46 1 39 1 33 1 17 1 6 1-2 1-9 1-23 1-33 1-34 1-39 1 49 1 7 1-16 1-206 1 78 1 39 1 22 1-23 1 12 1 20 1-32 1 24 1-1 1-1 1-7 1 17 1 1 1 69 1-41 1 22 1 18 1-6 1-18 1 19 1-20 1 18 1 36 1 31 1 16 1 5 1-2 1-8 1-21 1-31 1-32 1-8 1 6 1 0 1-8 1-100 1 40 1 0 1 14 1-22 1-7 1 24 1-22 1-3 1 14 1-13 1-4 1 27 1-12 1 77 1-16 1-15 1 16 1-11 1 21 1-10 1 18 1 38 1 32 1 16 1 6 1-3 1-8 1-22 1-32 1-32 1-22 1 11 1-29 1 1 1-98 1 50 1 27 1-23 1-2 1 21 1-23 1 16 1-11 1 13 1-17 1 5 1 5 1-12 1 59 1 7 1-29 1 27 1 22 1 20 1-43 1 30 1 39 1 33 1 16 1 6 1-2 1-9 1-22 1-33 1-33 1 6 1-27 1 11 1-26 1-140 1 66 1 25 1 22 1 2 1 5 1-25 1 1 1 1 1-1 1 2 1 4 1 10 1-9 1 31 1 41 1-18 1 5 1-4 1-2 1-1 1 27 1 40 1 34 1 17 1 6 1-3 1-9 1-23 1-34 1-34 1 24 1-75 1 66 1-11 1-75 1 24 1-43 1 11 1-8 1 0 1 18 1-11 1 3 1 5 1-16 1 0 1 15 1 6 1 51 1-3 1 3 1 1 1 12 1-8 1 6 1-37 1 42 1-22 1 27 1 36 1 31 1 16 1 5 1-2 1-8 1-21 1-31 1-32 1-21 1 13 1 18 1-23 1-63 1 26 1-36 1 3 1-2 1 11 1 16 1-24 1 6 1 4 1 6 1-4 1-7 1-7 1 69 1 12 1 18 1-23 1-15 1-3 1 32 1 38 1 32 1 16 1 5 1-2 1-8 1-22 1-32 1-32 1-23 1 26 1-37 1 29 1-122 1 47 1 18 1-12 1-8 1 18 1-21 1 17 1-6 1-1 1 4 1 0 1 5 1 4 1 65 1-15 1-7 1 26 1-9 1 10 1-38 1 12 1 24 1 40 1 34 1 17 1 6 1-3 1-9 1-22 1-35 1-34 1-34 1 19 1-1 1 1 1-76 1 32 1-30 1 4 1 4 1 10 1 8 1-26 1 0 1 15 1 14 1-26 1 29 1-24 1 69 1 22 1-6 1-20 1 14 1-17 1 17 1-41 1 47 1 37 1 31 1 15 1 5 1-2 1-8 1-21 1-31 1-31 1-3 1-13 1 14 1-13 1-106 1 45 1 12 1-17 1-1 1 25 1-29 1 4 1-4 1 19 1-8 1 0 1-14 1 12 1 61 1 5 1 23 1-34 1-20 1 46 1 2 1 39 1 32 1 17 1 5 1-2 1-9 1-22 1-32 1-33 1-1 1-12 1-33 1 26 1-31 1 16 1-34 1 13 1-20 1 7 1 11 1-31 1 13 1 7 1-11 1-2 1 17 1-4 1 68 1-5 1-13 1 21 1-7 1-46 1 61 1-13 1-9 1-12 1 5 1 24 1 37 1 32 1 16 1 5 1-2 1-8 1-22 1-31 1-32 1-11 1-18 1 13 1 3 1-88 1 36 1-1 1 1 1-8 1-6 1 14 1-12 1 14 1-27 1 16 1 8 1-3 1-9 1 70 1-12 1 22 1-7 1 10 1-9 1-20 1 14 1 15 1 39 1 33 1 16 1 6 1-2 1-9 1-22 1-33 1-33 1-23 1 5 1-20 1-10 1-142 1 72 1 58 1-24 1 6 1 18 1-25 1 17 1 0 1-22 1 14 1-11 1-2 1 4 1 69 1 13 1-10 1 13 1-7 1-15 1 28 1 39 1 34 1 17 1 5 1-2 1-9 1-22 1-34 1-34 1-21 1 18 1 16 1-17 1-97 1 36 1 6 1-28 1 26 1-25 1 6 1 23 1-24 1-7 1 31 1-23 1 2 1 21 1 37 1 1 1-10 1 13 1 39 1-23 1-8 1-15 1 8 1 1 1 8 1 12 1 39 1 33 1 17 1 5 1-2 1-9 1-22 1-33 1-34 1-39 1 66 1-32 1-18 1-78 1 36 1-21 1 20 1 2 1-14 1-11 1 24 1 3 1-5 1-5 1 11 1-6 1 7 1 40 1 10 1-22 1 25 1-6 1 9 1-6 1-21 1 37 1 39 1 34 1 17 1 5 1-2 1-9 1-22 1-34 1-34 1-14 1-5 1-17 1 16 1-148 1 63 1 45 1-21 1 1 1-10 1 8 1 15 1-7 1-9 1 8 1-11 1 20 1 7 1 48 1 12 1-23 1-29 1 21 1-11 1 46 1 37 1 31 1 16 1 5 1-2 1-8 1-21 1-32 1-31 1-12 1-11 1 18 1 27 1-118 1 34 1-24 1 27 1-24 1 4 1 19 1-5 1-3 1-3 1 12 1-12 1 3 1-14 1 101 1 3 1-23 1-14 1-32 1 53 1-22 1 21 1 37 1 32 1 16 1 5 1-2 1-9 1-21 1-32 1-31 1-15 1 12 1 6 1-37 1-62 1 34 1-18 1 11 1 12 1-20 1 5 1 4 1 5 1-2 1-15 1-1 1-6 1 13 1 77 1-5 1 3 1-45 1 24 1 36 1-28 1 41 1-55 1 30 1 1 1 36 1 31 1 16 1 5 1-2 1-9 1-20 1-31 1-32 1 26 1-55 1 11 1 27 1-148 1 52 1-1 1 4 1 10 1-4 1 12 1-4 1 13 1 0 1-31 1 15 1-7 1 4 1 82 1-14 1-11 1-14 1 24 1 22 1-18 1 2 1 9 1 36 1 31 1 16 1 5 1-2 1-9 1-20 1-31 1-32 1-10 1-40 1 38 1-3 1-80 1 34 1-21 1 24 1-9 1-15 1 17 1-19 1-5 1 20 1 9 1-5 1-5 1-10 1 55 1 11 1-24 1 54 1-62 1 18 1 34 1 38 1 33 1 16 1 5 1-2 1-8 1-22 1-33 1-32 1-14 1-11 1 26 1-15 1-43 1 18 1-45 1 2 1 16 1-7 1 11 1 0 1-24 1 26 1 2 1-18 1-9 1 21 1 14 1 46 1-9 1-8 1 16 1-24 1 20 1 10 1 4 1 36 1 32 1 15 1 6 1-3 1-8 1-21 1-31 1-32 1 8 1-23 1 18 1-25 1-179 1 76 1 43 1 3 1 13 1-7 1-14 1 19 1-19 1 11 1 21 1-15 1-8 1 23 1 60 1-28 1 15 1 27 1-36 1-15 1 51 1-13 1 38 1 32 1 16 1 5 1-2 1-8 1-22 1-32 1-32 1-23 1-11 1 28 1 13 1-118 1 40 1 10 1-27 1 32 1-17 1-10 1 8 1 18 1-17 1 7 1-17 1 23 1-16 1 73 1 26 1-15 1 9 1-24 1 26 1-13 1 37 1 32 1 16 1 5 1-2 1-9 1-21 1-32 1-31 1-12 1 5 1-17 1 16 1-49 1 18 1-19 1-12 1-4 1-7 1 19 1 2 1-8 1 5 1 3 1-2 1-13 1-3 1 67 1-26 1 28 1 15 1-30 1 10 1 18 1-1 1 3 1 40 1 34 1 17 1 6 1-3 1-9 1-22 1-35 1-34 1 9 1-31 1 23 1 1 1-93 1 32 1-18 1 15 1 2 1-13 1-3 1 11 1-14 1 3 1 6 1-11 1 24 1-19 1 88 1 9 1-11 1-16 1-2 1 15 1-1 1 39 1 34 1 17 1 5 1-2 1-9 1-22 1-34 1-34 1-12 1-3 1 3 1 15 1-223 1 83 1 71 1-5 1-2 1 11 1-9 1-18 1 1 1 13 1-10 1 26 1-8 1-17 1 49 1 48 1-8 1-16 1-4 1 5 1 6 1 4 1 5 1 37 1 32 1 16 1 5 1-2 1-9 1-21 1-32 1-31 1-2 1-5 1 2 1 8 1-164 1 60 1 41 1-18 1 11 1 5 1-8 1 2 1 11 1-24 1 11 1 4 1-15 1 4 1 49 1 57 1-49 1 4 1 4 1-23 1 42 1-1 1 40 1 34 1 17 1 5 1-2 1-9 1-23 1-34 1-34 1-11 1 3 1 2 1-22 1-27 1 18 1-49 1 23 1-17 1-9 1 17 1-5 1-11 1-1 1 3 1 27 1-6 1-2 1 52 1-36 1 64 1 16 1-30 1 17 1-43 1 18 1 14 1 38 1 33 1 17 1 5 1-2 1-9 1-22 1-32 1-33 1-8 1-23 1 38 1-24 1-84 1 36 1-10 1 11 1-18 1 24 1-15 1 12 1-25 1-3 1 18 1 4 1-13 1 21 1 9 1 43 1 1 1-10 1 21 1 6 1-6 1 38 1 32 1 17 1 5 1-2 1-9 1-21 1-33 1-32 1-4 1 17 1-18 1 30 1-142 1 43 1 5 1 4 1 2 1-14 1 10 1-17 1 20 1-8 1-10 1 20 1-7 1 11 1 64 1-1 1-1 1-7 1 4 1-33 1 36 1-10 1 11 1 39 1 33 1 16 1 6 1-3 1-8 1-22 1-33 1-33 1 0 1-8 1-8 1-8 1-126 1 55 1 39 1-19 1-13 1 11 1-6 1 17 1-7 1-10 1-4 1 1 1 16 1-11 1 52 1 11 1 17 1 4 1-4 1 9 1-3 1 39 1 33 1 16 1 6 1-2 1-9 1-22 1-33 1-33 1-6 1-13 1 14 1 33 1-215 1 71 1 39 1-3 1 20 1-14 1 1 1 3 1-11 1 23 1-17 1-2 1-1 1 12 1 84 1-34 1-13 1 36 1-49 1-2 1 72 1-32 1 10 1 38 1 33 1 17 1 5 1-2 1-9 1-22 1-33 1-33 1-22 1 3 1 11 1 19 1-86 1 26 1-27 1-14 1 4 1 19 1 9 1-8 1 6 1-24 1 8 1-2 1 21 1 0 1 83 1-22 1-37 1 35 1 7 1-60 1 57 1 39 1 34 1 17 1 6 1-2 1-9 1-23 1-34 1-34 1-24 1 22 1-7 1-21 1-87 1 43 1-15 1 15 1-8 1 24 1-26 1 12 1-7 1 16 1-8 1-15 1 22 1 7 1 38 1 2 1-10 1 47 1-14 1-34 1-7 1 41 1 40 1 34 1 17 1 5 1-2 1-9 1-23 1-34 1-34 1-18 1 6 1 11 1-12 1-55 1 23 1-12 1-19 1 5 1 15 1-23 1-9 1-2 1 19 1-17 1 18 1-16 1 22 1 35 1 1 1 4 1 15 1-42 1 47 1 6 1-23 1 43 1-17 1 0 1 37 1 32 1 16 1 5 1-2 1-8 1-21 1-32 1-32 1-3 1-32 1 34 1 2 1-191 1 72 1 62 1-31 1 9 1-2 1 6 1-13 1 17 1-14 1 12 1-6 1-6 1 17 1 24 1 38 1-1 1 1 1 10 1 38 1 32 1 16 1 6 1-2 1-9 1-22 1-32 1-32 1 2 1-23 1-6 1 11 1-192 1 79 1 64 1-19 1 23 1-11 1 2 1-6 1-11 1 2 1 8 1-6 1 17 1-5 1 36 1-9 1 40 1-1 1 4 1 5 1 1 1 39 1 33 1 16 1 6 1-3 1-8 1-22 1-33 1-33 1 2 1-28 1-18 1 45 1-115 1 41 1 15 1 1 1-31 1 16 1-1 1 6 1-17 1-3 1 24 1-15 1 18 1 0 1 21 1 23 1-35 1 52 1-2 1-30 1-12 1 51 1-22 1-14 1 10 1 36 1-12 1 40 1 34 1 17 1 5 1-2 1-9 1-23 1-34 1-34 1-43 1 17 1 32 1-23 1-89 1 38 1 7 1-6 1-8 1 18 1-10 1-20 1 26 1-13 1 4 1-7 1 21 1-15 1 71 1-15 1-9 1 25 1-13 1-18 1 35 1 36 1 32 1 15 1 6 1-2 1-9 1-21 1-31 1-32 1-1 1-36 1 27 1-7 1-42 1 20 1-42 1 11 1 15 1-1 1-7 1 3 1 0 1-13 1-2 1 4 1 15 1-30 1 84 1 27 1-44 1 18 1 5 1-10 1-9 1 21 1 38 1 32 1 17 1 5 1-2 1-9 1-21 1-33 1-32 1 14 1-32 1-17 1 34 1-97 1 35 1-2 1-7 1-11 1 26 1-20 1 20 1-5 1-25 1 11 1-1 1 0 1-4 1 59 1 1 1 15 1 12 1-37 1 30 1 6 1 36 1 31 1 16 1 5 1-2 1-9 1-20 1-31 1-32 1-14 1 38 1-25 1-17 1-91 1 40 1-13 1 13 1-19 1 2 1 19 1 12 1-4 1-14 1-2 1-3 1 16 1-8 1 58 1 23 1 19 1-16 1-12 1-18 1 22 1 38 1 32 1 17 1 5 1-2 1-9 1-21 1-33 1-32 1 29 1 0 1-29 1-20 1-191 1 80 1 55 1 20 1-3 1-29 1 17 1-17 1 28 1 1 1-15 1 9 1-8 1 8 1 76 1-3 1-23 1-11 1 14 1 30 1-22 1-6 1 4 1-9 1 21 1 38 1 34 1 16 1 6 1-2 1-9 1-22 1-34 1-33 1-29 1 23 1 27 1-12 1-214 1 77 1 44 1 5 1 0 1 21 1-30 1 21 1 10 1-4 1-12 1-5 1 12 1-2 1 91 1-22 1 9 1-11 1-2 1-42 1 25 1 25 1 37 1 32 1 15 1 6 1-2 1-9 1-21 1-32 1-31 1 2 1-22 1 12 1-15 1-35 1 19 1-27 1 9 1-32 1 21 1-12 1 12 1-20 1 4 1 20 1 7 1-10 1-3 1 43 1 3 1 11 1 30 1-29 1 10 1-37 1 46 1-2 1 38 1 32 1 16 1 5 1-2 1-8 1-22 1-32 1-32 1-5 1-11 1 25 1-36 1-73 1 35 1 1 1-10 1-7 1 14 1-9 1-1 1 13 1 8 1-7 1-22 1 13 1-1 1 63 1-8 1 23 1 16 1-10 1-11 1 15 1-14 1 4 1 38 1 32 1 16 1 6 1-2 1-9 1-22 1-32 1-32 1-19 1-9 1 20 1-7 1-88 1 37 1 1 1-21 1 19 1 9 1-15 1 16 1-6 1-24 1 6 1 2 1 20 1 1 1 50 1-12 1-3 1 28 1 36 1 32 1 16 1 5 1-2 1-9 1-21 1-31 1-32 1-6 1-17 1 15 1 4 1-167 1 64 1 18 1 14 1-2 1-4 1 21 1-3 1-20 1 5 1 0 1 1 1-5 1 19 1 59 1-38 1 20 1-22 1 20 1 2 1-14 1-4 1 46 1 39 1 33 1 16 1 6 1-2 1-9 1-22 1-33 1-33 1-19 1 7 1-8 1-7 1-73 1 35 1-16 1-4 1 24 1-17 1 6 1-12 1 27 1-24 1 0 1 0 1 18 1 4 1 86 1-13 1-30 1 7 1 4 1-34 1 40 1-36 1 40 1 36 1 31 1 16 1 5 1-2 1-8 1-21 1-31 1-32 1-26 1 21 1 10 1-6 1-209 1 80 1 52 1 10 1-19 1 17 1-13 1 14 1-3 1-10 1-6 1 14 1 0 1-6 1 68 1-9 1-7 1 35 1-22 1 7 1-10 1 26 1-1 1 40 1 34 1 17 1 6 1-3 1-9 1-22 1-35 1-34 1-18 1 4 1 4 1-20 1-136 1 62 1 31 1-10 1 14 1 10 1-4 1-17 1 20 1-1 1-18 1 16 1-7 1 1 1 33 1 25 1-10 1 43 1-7 1-35 1 14 1-1 1-34 1 31 1-13 1 29 1-19 1 10 1 9 1-23" transform="translate(61.500 308.500) scale(0.11695 -0.35000)" stroke="#ff0000" />
<path d="M1 -0.01H222" transform="translate(61.500 308.500) scale(0.11695 -0.35000)" stroke="#00ff00" style="stroke-width:1.25"/><path d="M222 0l1-4 1 6 1-3 1 4 1 2 1-1 1-6 1 1 1 3 1-6 1 4 1-12 1-5 1 17 1 9 1-8 1 46 1 46 1-37 1-104 1 24 1 40 1-11 1-5 1-12 1 6 1 0 1-16 1 26 1-31 1 27 1 13 1 5 1-23 1-17 1 26 1-19 1 36 1-21 1-27 1 18 1-23 1 10 1 17 1 58 1 53 1-42 1-119 1 28 1 24 1-6 1-15 1 14 1-14 1 33 1-20 1 6 1 2 1 14 1 25 1-33 1-39 1 60 1-45 1 49 1-53 1 28 1-7 1 2 1 0 1 16 1 1 1-28 1 6 1 11 1-1 1-31 1 39 1 26 1 36 1-29 1-94 1 25 1 49 1-29 1 12 1-13 1-19 1 38 1-31 1 5 1 53 1-59 1-2 1 30 1-30 1 41 1-46 1 51 1-13 1-6 1-8 1-8 1 24 1 16 1-36 1 13 1-18 1 34 1-35 1-12 1 7 1 26 1-23 1 45 1 30 1-24 1-81 1 22 1 17 1-11 1-17 1 46 1-45 1 26 1 23 1-55 1 45 1-14 1 27 1-14 1-2 1 2 1 11 1-1 1-35 1 44 1-8 1-24 1-10 1 39 1-29 1 4 1-6 1 18 1-23 1 15 1-14 1 18 1-11 1 70 1 63 1-51 1-239 1 65 1 144 1-62 1-23 1 14 1 1 1 41 1-27 1 43 1-34 1-9 1-3 1 18 1 17 1-69 1 12 1 27 1 0 1 20 1 3 1-21 1-1 1-24 1 14 1 12 1 11 1-4 1 19 1-32 1 28 1 28 1 45 1-36 1-111 1 28 1 25 1 21 1-56 1 54 1-8 1-8 1 47 1-49 1 19 1-14 1-16 1 35 1-12 1-29 1 18 1 12 1 23 1-39 1-19 1 11 1 12 1-12 1 32 1-20 1 2 1-26 1 40 1-16 1-12 1 16 1 2 1 43 1 46 1-37 1-118 1 31 1 18 1 24 1 12 1-48 1 29 1-27 1 4 1 24 1-11 1-32 1 42 1-51 1 25 1 10 1 8 1 1 1 15 1-28 1 6 1 8 1-2 1-12 1 18 1-22 1 32 1 9 1 8 1-41 1-7 1-5 1-23 1 20 1 65 1 38 1-30 1-99 1 27 1 7 1 14 1-4 1-10 1 53 1-6 1-21 1-42 1 30 1-28 1 19 1-28 1 36 1 3 1 15 1-17 1-12 1 18 1-30 1 37 1 7 1-42 1 37 1 0 1-42 1 25 1 18 1-37 1 29 1-8 1-26 1 67 1 35 1-28 1-169 1 50 1 68 1-32 1 62 1-32 1 43 1-42 1-11 1 22 1-31 1 8 1 15 1 47 1-59 1 12 1-15 1 21 1 10 1-3 1 35 1-78 1 14 1 32 1-42 1 51 1-26 1-29 1 42 1-36 1 18 1 94 1 82 1-66 1-248 1 60 1 98 1-2 1 4 1-10 1 46 1-76 1 35 1 1 1 7 1 32 1-48 1-2 1 9 1-8 1 0 1-17 1 12 1-8 1 12 1 16 1-47 1 29 1 2 1-9 1-28 1 68 1 7 1 32 1-26 1-94 1 28 1 23 1 5 1 8 1 2 1-10 1-9 1-2 1 26 1 16 1-49 1 23 1-33 1 32 1 10 1 23 1-19 1-29 1 18 1 12 1-31 1-10 1 33 1-20 1 5 1-10 1 4 1 11 1-21 1 55 1-42 1 2 1 10 1 1 1-35 1 134 1 107 1-85 1-332 1 81 1 121 1 35 1-44 1-13 1 30 1-4 1 26 1-39 1 4 1-3 1-29 1 8 1-6 1-1 1 42 1-15 1-14 1 45 1-39 1 21 1 32 1-42 1 36 1-65 1 45 1-19 1 13 1 48 1 50 1-40 1-123 1 31 1 34 1 38 1-53 1 59 1-32 1-17 1-1 1 4 1-13 1 15 1-34 1-13 1 59 1-10 1-3 1-5 1-8 1-28 1 59 1-40 1 29 1-34 1 26 1-26 1 5 1 45 1-31 1 9 1 4 1 10 1-13 1-13 1 0 1 58 1 49 1-39 1-104 1 23 1 6 1 14 1-8 1-26 1 66 1-18 1-22 1 26 1-54 1 46 1 17 1-12 1-25 1 11 1 8 1-52 1 49 1-45 1 9 1 24 1 36 1-43 1 24 1 8 1 3 1-27 1 38 1 31 1-24 1-99 1 31 1 16 1 49 1-25 1-22 1 31 1-46 1 28 1 13 1-12 1-13 1 20 1-23 1 8 1-6 1 0 1 39 1-29 1-3 1-17 1 27 1-26 1 3 1 34 1-34 1 22 1-16 1 34 1-46 1 62 1-45 1-28 1 82 1 47 1-37 1-200 1 57 1 74 1-13 1 6 1 41 1-29 1 13 1 27 1-18 1 12 1-34 1-7 1-7 1 60 1-24 1-2 1-1 1-28 1 2 1 30 1-5 1-36 1-2 1 32 1 4 1 5 1-25 1 3 1-20 1 45 1-11 1-14 1 39 1 29 1-23 1-120 1 33 1 25 1 21 1-5 1 41 1 7 1-40 1 32 1-23 1-10 1 14 1 0 1-8 1-2 1 10 1-10 1-9 1-11 1 36 1-16 1-1 1 26 1-17 1-31 1 21 1 16 1-13 1-10 1 14 1 1 1 22 1 30 1-24 1-85 1 25 1 54 1-55 1 8 1 9 1 7 1 6 1-28 1 49 1-10 1-23 1 26 1-28 1-3 1 56 1-46 1 18 1-46 1 44 1-7 1 40 1-23 1-3 1-47 1 15 1 18 1 40 1-64 1-5 1 9 1 13 1 25 1-27 1 5 1 28 1 29 1-23 1-98 1 31 1 34 1 0 1 6 1-5 1-36 1 31 1 12 1-11 1-38 1 13 1 34 1-16 1-23 1 47 1-17 1-7 1-8 1 6 1 9 1 19 1-18 1-5 1-2 1-6 1 20 1-31 1 48 1-23 1-26 1 32 1 36 1 44 1-35 1-115 1 31 1 42 1-39 1 10 1 58 1-24 1-18 1 20 1 15 1-30 1 3 1-38 1 20 1 7 1 16 1 4 1-17 1 8 1-27 1-2 1 32 1-44 1 44 1-49 1 12 1 13 1 53 1-24 1-17 1 28 1-13 1 61 1 72 1-58 1-244 1 63 1 88 1 8 1-12 1-7 1 38 1-49 1 24 1 29 1-28 1 3 1 20 1-31 1 38 1 8 1-22 1-2 1-20 1-2 1-2 1 36 1 0 1 18 1-66 1-2 1 1 1 11 1 58 1 43 1-35 1-104 1 26 1 11 1 26 1 10 1-67 1 74 1-10 1 0 1-12 1-4 1-41 1 40 1-10 1 19 1-32 1 13 1 41 1-43 1 29 1-31 1 22 1-28 1 0 1 27 1-29 1 10 1 36 1-21 1-17 1-23 1 9 1 34 1 25 1 31 1-25 1-102 1 33 1 78 1-47 1-4 1 1 1-6 1 24 1-18 1 0 1-26 1 24 1 8 1 6 1 14 1-34 1 20 1 7 1-5 1-14 1 47 1-41 1-9 1 5 1-2 1-3 1-13 1 48 1-41 1 23 1-42 1 142 1 110 1-88 1-347 1 86 1 165 1-18 1-24 1 4 1 28 1-47 1 38 1-9 1 13 1-25 1-9 1-7 1 3 1 24 1-9 1-16 1 1 1 22 1-14 1-8 1 28 1 28 1-17 1-20 1 21 1-41 1 40 1-35 1 4 1-7 1-1 1 17 1-10 1 1 1 14 1 44 1 48 1-39 1-126 1 34 1 11 1 36 1-44 1 49 1-33 1-16 1-2 1 46 1-16 1-10 1 38 1-18 1 8 1 9 1-21 1 14 1 16 1-15 1-31 1 22 1-14 1-11 1 22 1 8 1 29 1-35 1-15 1 30 1-41 1 103 1 85 1-68 1-153 1 26 1-3 1 9 1-4 1 52 1-20 1-20 1-7 1 3 1 13 1-2 1-8 1-1 1 0 1 10 1 10 1 0 1 2 1-15 1-3 1 12 1 3 1-10 1 12 1 32 1-34 1 7 1 6 1-1 1-8 1-9 1 18 1 20 1 38 1-31 1-94 1 24 1 35 1 35 1-22 1-71 1 31 1 39 1-60 1 24 1 1 1-2 1 30 1-18 1-10 1 25 1 1 1-2 1-59 1 66 1-37 1 32 1-19 1 23 1-26 1 5 1 16 1 9 1 2 1-31 1 12 1 26 1 32 1-25 1-92 1 27 1 25 1-35 1 44 1-25 1 41 1 5 1-52 1 33 1 20 1-29 1 2 1 34 1-27 1-10 1-4 1-24 1 14 1 12 1-1 1-22 1 26 1 36 1-3 1-46 1 11 1-21 1-9 1 23 1 38 1-52 1 67 1 45 1-36 1-106 1 27 1 22 1-7 1 27 1-23 1 20 1-2 1-7 1 11 1-20 1-9 1 20 1-27 1 18 1-33 1 26 1 48 1 8 1-48 1 28 1-43 1 10 1 32 1-24 1 28 1-21 1-12 1-4 1-26 1 19 1 68 1 54 1-43 1-127 1 31 1 39 1 17 1-21 1-10 1 2 1 8 1 27 1-24 1-10 1 40 1-83 1 75 1-23 1-7 1 20 1-17 1-35 1 53 1-26 1 22 1 6 1-39 1 64 1-9 1-30 1 3 1-24 1 39 1-24 1-22 1 48 1 18 1 44 1-35 1-105 1 26 1 18 1 2 1 1 1 0 1 6 1 11 1-55 1 48 1-9 1 28 1 4 1-22 1-7 1 9 1-6 1 6 1 12 1-24 1-18 1 44 1-30 1 32 1-38 1 4 1 36 1-65 1 11 1 40 1-11 1-39 1 22 1 119 1 103 1-83 1-217 1 37 1 56 1 3 1 14 1-18 1-8 1 8 1-22 1-16 1 45 1-24 1 11 1-5 1-7 1 7 1 40 1-68 1 24 1 28 1-18 1 32 1-56 1 8 1 42 1-36 1 21 1 10 1-28 1-8 1-17 1 108 1 69 1-55 1-249 1 66 1 94 1 3 1 13 1 6 1 25 1-20 1-52 1 52 1-24 1-9 1 15 1 24 1-19 1-8 1 15 1-37 1 30 1-7 1-12 1 17 1-41 1 7 1 22 1-17 1 6 1 57 1-27 1-18 1-4 1-16 1 54 1-12 1-23 1 51 1 24 1 69 1-55 1-236 1 61 1 105 1-17 1-1 1 27 1-37 1 18 1-11 1 26 1-45 1 40 1 0 1 6 1-50 1 70 1-48 1 14 1-10 1-7 1-21 1 31 1 21 1-26 1-41 1 56 1 1 1-18 1 7 1 19 1-22 1 13 1 14 1 18 1 33 1-30 1-108 1 32 1 18 1 30 1-29 1 3 1 19 1 3 1-17 1-7 1 21 1-25 1 13 1-3 1-1 1 26 1-7 1 2 1 13 1-33 1 4 1 13 1-21 1 5 1-4 1 11 1 8 1 3 1-3 1 4 1-4 1 30 1 41 1-33 1-100 1 26 1-10 1 36 1 20 1-9 1 20 1-31 1 29 1-63 1 42 1-28 1 24 1 15 1-26 1-5 1 44 1-30 1-12 1-30 1-1 1 59 1-18 1-9 1-4 1 3 1 1 1-2 1 12 1 27 1-42 1 31 1-40 1 125 1 102 1-82 1-290 1 67 1 144 1-31 1-25 1 30 1-37 1 25 1 6 1-3 1-37 1-6 1 43 1 29 1-21 1-6 1-2 1-14 1 24 1-50 1 33 1-34 1 7 1 29 1 18 1-30 1 15 1 9 1 13 1-2 1-32 1-4 1 7 1 0 1 31 1 29 1-23 1-101 1 34 1 39 1-14 1-6 1 5 1 21 1-12 1-3 1-8 1-36 1 3 1 29 1-30 1 40 1 33 1-47 1-11 1 18 1 1 1 19 1-16 1 18 1 4 1 20 1-67 1 23 1-33 1 35 1-4 1 48 1 35 1-28 1-96 1 27 1 9 1 13 1 17 1-14 1 36 1-25 1 6 1 15 1-8 1-40 1 35 1-65 1 71 1-48 1 18 1-9 1-2 1-5 1 20 1-5 1 0 1 24 1-7 1 5 1-25 1-1 1 29 1-24 1 28 1-69 1 63 1-11 1-2 1 33 1 36 1-29 1-105 1 31 1 31 1-13 1 32 1-42 1 8 1 25 1-44 1 17 1 14 1 6 1-1 1-26 1 23 1 6 1-9 1-12 1 14 1 4 1-2 1 21 1-22 1-3 1-25 1 45 1 2 1-9 1-24 1-17 1-7 1 37 1 87 1 85 1-68 1-278 1 71 1 144 1-47 1 38 1-19 1-32 1 20 1-16 1 3 1-3 1 17 1 43 1-66 1 16 1-23 1 35 1 1 1-23 1 22 1-10 1 6 1 8 1-34 1 3 1 31 1-7 1-11 1 49 1-25 1-52 1 43 1 42 1 48 1-39 1-110 1 26 1 0 1 16 1 14 1-28 1 14 1 23 1-37 1 54 1-76 1 51 1-5 1 37 1-19 1-51 1 54 1-35 1 22 1-33 1 44 1-22 1 4 1 18 1-26 1 23 1-30 1-11 1 37 1-7 1-5 1-21 1 54 1 32 1-25 1-87 1 24 1 26 1-2 1-29 1 33 1-13 1-10 1-5 1 26 1 12 1 20 1-22 1 16 1-43 1 19 1-38 1 24 1 25 1 10 1-1 1 5 1-14 1-18 1 41 1-69 1 61 1-40 1-19 1 36 1-3 1 45 1 50 1-40 1-109 1 25 1 1 1 6 1 42 1-18 1-3 1 30 1 3 1-33 1 15 1-9 1-28 1 28 1-38 1 31 1-10 1-16 1 46 1 10 1-34 1-7 1 25 1-41 1 59 1-23 1 16 1-29 1-28 1 10 1-5 1 15 1 16 1 36 1 42 1-34 1-112 1 31 1 17 1 12 1-23 1 16 1 2 1 6 1-11 1-34 1 18 1 3 1 20 1-14 1 10 1 31 1-21 1 2 1-23 1 58 1-28 1 13 1-29 1 42 1-41 1-8 1-5 1 11 1-12 1 27 1-14 1-15 1 35 1 25 1 40 1-32 1-112 1 33 1 62 1-30 1-25 1 49 1-18 1-22 1 41 1-8 1-51 1 39 1-13 1 6 1-19 1 37 1-51 1 42 1-13 1 26 1-48 1 29 1 15 1 2 1-9 1-24 1 10 1 21 1-23 1-3 1 11 1 33 1 34 1-27 1-88 1 24 1 24 1 10 1-19 1 37 1-25 1 10 1-17 1-16 1 31 1-33 1 5 1 13 1-29 1 24 1 0 1-29 1 10 1 9 1 28 1-28 1 25 1 1 1-48 1 69 1 17 1-54 1 27 1-6 1-50 1 87 1 49 1-39 1-110 1 25 1 21 1-7 1 10 1 10 1-12 1-13 1 26 1-37 1-15 1 43 1-29 1 26 1-6 1-14 1 35 1 27 1-30 1-28 1 12 1-27 1 50 1-43 1 42 1-10 1-10 1 11 1 10 1 24 1-10 1-3 1-36 1 52 1 43 1-35 1-120 1 34 1 35 1-3 1-4 1 12 1-1 1-49 1 85 1-45 1 18 1-26 1 34 1-65 1 41 1-6 1-9 1 8 1 10 1 8 1-26 1-10 1 17 1 32 1-54 1 60 1-29 1-32 1 40 1-6 1 25 1 23 1 49 1-39 1-101 1 21 1 24 1-14 1-23 1 53 1-26 1 7 1 15 1 0 1 1 1-27 1 4 1-23 1 16 1 0 1 20 1 9 1-18 1-24 1 21 1 22 1-13 1-12 1 17 1-36 1 39 1-25 1-3 1 33 1-9 1-32 1 79 1 53 1-43 1-116 1 26 1 13 1 43 1-34 1-23 1 28 1 1 1-11 1-15 1-7 1 58 1-47 1 49 1-26 1 12 1-29 1 35 1-61 1 54 1-20 1-8 1 31 1-54 1-1 1 51 1-7 1 0 1-42 1 46 1-26 1-2 1 60 1 42 1-34 1-111 1 30 1 13 1 30 1 28 1-52 1 2 1 16 1-1 1 13 1-10 1-10 1 17 1-19 1 4 1-43 1 37 1 12 1-21 1-16 1 33 1 10 1-37 1 9 1 0 1 5 1 15 1-23 1 19 1 31 1-33 1 6 1 31 1 34 1-28 1-106 1 33 1 55 1-13 1 13 1-2 1-20 1 25 1-30 1-21 1 62 1-25 1-30 1 16 1 20 1 25 1-66 1-13 1 69 1-21 1 12 1 8 1-25 1-26 1 3 1-1 1 2 1 10 1-9 1-9 1-14 1-6 1 71 1 7 1 35 1-28 1-102 1 30 1 14 1 17 1-7 1 30 1-9 1-12 1 0 1-45 1 64 1-47 1 26 1-22 1 54 1-32 1 19 1-38 1 17 1 11 1-27 1 7 1 30 1-28 1 9 1-8 1-4 1 30 1-17 1-49 1 53 1 11 1 36 1 53 1-42 1-118 1 27 1 11 1-19 1 18 1 40 1-53 1 18 1 12 1 46 1-47 1-15 1-17 1 29 1-2 1 9 1-18 1 4 1-13 1 15 1 15 1-10 1 4 1-8 1-2 1-3 1-7 1 23 1-18 1 20 1-43 1 25 1 63 1 50 1-40 1-110 1 25 1 4 1-17 1 56 1-13 1 4 1 2 1-21 1-10 1 16 1-7 1-25 1 25 1 10 1-1 1 17 1-7 1-27 1-4 1 10 1 26 1-32 1-3 1 9 1 29 1-32 1 17 1 30 1-33 1 16 1 10 1 44 1 68 1-54 1-169 1 35 1 49 1 23 1 2 1 24 1-35 1-9 1-7 1 10 1-5 1 11 1-16 1-23 1 28 1 4 1-6 1 13 1-6 1 41 1-66 1-7 1 42 1-21 1-1 1-32 1 58 1-39 1-19 1 47 1-19 1-28 1 44 1-10 1-42 1 87 1 41 1-33 1-143 1 38 1 49 1-10 1-18 1 53 1-25 1 10 1 1 1 16 1-46 1 60 1-48 1 27 1-3 1-5 1-32 1 15 1 24 1-8 1-10 1 19 1-27 1 9 1 23 1-40 1 38 1-8 1-1 1-3 1-10 1 49 1 42 1-33 1-115 1 32 1 56 1-45 1 10 1-24 1 16 1 65 1-65 1 31 1-35 1 5 1 32 1-16 1-30 1 34 1-25 1 34 1 14 1 6 1-30 1 21 1-21 1-3 1-24 1 3 1-5 1-6 1 35 1-4 1 16 1 21 1-21 1 32 1 45 1-36 1-98 1 22 1 26 1 27 1-20 1-3 1 16 1-4 1-33 1-3 1 60 1-36 1 18 1-65 1 29 1-28 1 24 1 14 1-18 1 31 1-8 1-12 1 28 1-68 1 57 1 0 1 1 1-42 1 62 1-27 1 10 1-23 1 17 1 44 1 52 1-42 1-103 1 21 1-4 1 16 1-6 1 2 1 5 1-2 1 27 1-14 1 7 1-15 1-16 1 3 1 7 1 19 1 11 1-25 1 12 1-14 1-12 1-15 1 13 1 8 1 20 1-34 1 29 1 19 1-35 1-7 1 9 1 61 1 49 1-39 1-167 1 43 1 95 1-39 1-38 1 22 1 38 1-31 1 25 1-33 1 7 1 4 1 6 1-9 1 25 1-44 1 40 1-1 1 9 1-34 1 17 1 4 1-20 1 2 1-18 1 34 1-19 1 41 1-9 1 8 1-7 1-9 1 7 1-5 1-29 1 48 1 46 1 68 1-54 1-128 1 23 1 19 1-6 1 1 1-13 1 7 1 6 1-9 1 15 1-29 1 27 1-2 1 3 1 14 1-30 1-5 1 6 1 37 1-62 1 37 1 39 1-24 1 8 1 3 1-12 1-33 1 50 1 6 1-16 1-20 1-10 1 3 1 48 1 35 1-28 1-107 1 33 1 48 1 23 1-26 1-24 1 14 1 20 1-7 1-16 1 32 1-22 1-9 1-1 1-47 1 66 1-12 1-31 1 23 1-25 1 33 1 4 1 6 1-3 1 3 1-33 1-5 1 22 1 2 1-23 1-5 1 119 1 94 1-75 1-168 1 27 1 38 1-26 1 18 1 1 1-19 1-1 1 40 1-13 1-19 1-38 1 81 1-9 1-44 1 37 1-37 1 39 1 1 1-22 1 5 1 1 1-9 1 47 1-43 1 17 1-31 1 20 1 3 1-11 1-45 1 64 1 7 1-10 1-31 1 28 1 42 1 53 1-42 1-116 1 26 1 23 1 30 1-44 1 18 1-19 1 10 1 14 1 12 1-26 1 18 1-2 1-28 1 51 1-50 1 19 1-10 1 11 1-22 1 43 1-9 1-8 1-10 1-12 1-8 1 37 1-6 1 40 1-16 1-59 1 35 1-7 1 65 1 63 1-51 1-126 1 25 1 37 1-22 1 16 1 11 1-15 1-12 1-29 1 47 1-34 1 37 1-21 1 30 1-21 1 21 1-22 1 7 1 1 1-13 1-2 1-16 1 36 1 9 1-46 1-9 1 45 1-57 1 52 1-8 1-26 1 80 1 52 1-41 1-123 1 31 1 28 1-34 1 32 1-2 1-11 1 31 1-22 1-7 1 12 1 14 1-1 1-15 1-28 1 65 1-32 1-15 1 1 1 0 1 23 1-7 1 8 1-11 1-34 1 21 1 16 1-9 1 17 1 6 1-47 1 46 1 18 1 33 1-26 1-82 1 21 1 28 1-51 1 54 1 4 1-58 1 44 1-32 1 47 1-35 1 11 1 38 1-35 1-6 1-10 1 3 1 44 1-14 1 5 1-6 1-12 1 23 1-34 1 15 1-23 1-15 1 9 1 0 1 21 1 9 1-3 1-28 1 30 1-33 1 113 1 82 1-66 1-146 1 24 1 27 1 19 1-3 1-21 1 4 1 35 1-16 1 10 1-1 1-42 1 14 1 2 1-14 1 25 1 6 1-30 1 16 1 20 1-46 1 3 1-7 1 23 1 19 1-28 1-6 1 10 1-32 1 31 1 47 1-29 1-20 1 84 1 75 1-60 1-159 1 34 1 46 1-19 1 20 1-29 1 19 1 10 1-27 1-32 1 27 1 44 1-30 1 23 1-45 1 9 1 21 1 7 1-40 1-5 1 49 1 13 1-30 1 30 1-42 1 12 1 17 1-18 1 36 1-11 1 13 1 69 1 103 1-82 1-230 1 43 1 61 1 0 1-4 1-15 1 54 1-36 1-11 1-6 1 19 1-24 1 43 1-15 1-9 1 23 1-64 1 66 1 2 1-6 1 8 1-28 1 46 1-55 1 5 1 32 1-4 1-34 1 24 1-19 1 3 1 12 1-1 1 42 1 46 1-37 1-113 1 29 1-18 1 76 1-39 1-11 1 52 1 15 1-72 1 30 1-3 1 7 1-2 1-3 1-10 1 6 1-9 1 11 1-14 1 14 1 23 1-25 1 22 1-39 1 39 1-17 1-19 1 13 1 14 1-20 1 24 1-51 1 87 1 52 1-42 1-103 1 20 1 13 1 11 1-24 1 23 1 1 1 20 1-6 1-37 1 12 1 54 1-38 1-21 1-25 1 44 1-28 1 16 1 22 1-18 1 4 1-24 1 11 1-4 1 8 1 11 1-22 1 38 1-33 1 13 1-32 1 105 1 72 1-58 1-247 1 64 1 99 1-27 1 25 1-11 1-31 1 42 1 25 1-8 1-17 1 19 1-17 1-16 1 14 1-9 1 16 1-11 1 31 1-31 1 21 1-40 1 30 1 2 1 20 1-39 1 51 1-89 1 31 1 9 1 6 1-27 1 36 1 65 1 72 1-58 1-136 1 24 1 28 1-3 1 3 1 20 1-53 1 11 1 29 1 6 1-3 1-29 1 29 1-24 1 27 1-27 1 19 1 11 1-12 1-10 1 3 1 24 1-16 1-28 1 17 1-9 1 18 1-24 1 9 1 2 1-17 1 61 1 37 1-30 1-96 1 26 1 69 1-41 1 28 1-34 1-6 1 30 1 8 1-28 1 21 1 8 1-32 1-4 1-1 1 43 1 1 1-43 1-4 1-11 1 23 1 0 1 45 1-52 1 16 1-18 1-28 1 15 1 0 1 42 1-39 1 17 1-3 1 38 1 33 1-27 1-83 1 21 1-4 1-7 1 16 1-2 1 22 1 14 1 3 1-12 1-12 1-34 1 24 1 10 1-36 1 40 1-1 1-38 1 64 1-21 1-19 1-32 1 42 1 21 1-29 1 9 1 32 1-51 1 19 1 12 1-39 1 5 1 59 1 33 1-27 1-158 1 48 1 37 1 55 1-24 1 3 1 8 1-29 1 12 1 7 1 27 1-29 1 4 1-15 1-3 1 40 1 5 1-22 1-8 1 3 1-9 1 19 1-3 1 6 1-12 1-17 1 13 1-44 1 49 1 11 1 6 1-27 1 17 1 32 1 42 1-33 1-104 1 27 1 8 1 49 1-40 1 56 1-65 1 25 1-42 1 50 1-17 1-12 1 7 1 23 1-9 1 11 1-3 1-9 1-33 1-1 1 31 1-13 1-5 1-7 1 42 1-26 1-5 1 31 1-66 1 40 1 28 1 24 1 45 1-36 1-106 1 26 1 7 1 16 1 8 1 6 1-28 1-30 1 52 1-19 1 38 1-32 1 10 1-25 1 35 1 2 1 10 1 11 1-14 1 7 1-29 1-21 1 12 1 4 1 11 1 8 1-17 1-13 1-9 1 15 1 10 1-24 1 33 1 32 1 39 1-31 1-98 1 25 1 19 1-6 1 13 1 22 1-54 1 30 1-6 1 1 1-10 1-8 1 5 1 33 1-3 1-14 1 33 1-31 1-3 1-15 1 16 1-10 1 11 1 30 1-50 1 35 1 6 1-29 1 21 1-17 1 35 1 3 1 32 1-25 1-97 1 29 1 39 1-10 1-47 1 15 1 11 1 51 1-49 1-23 1 36 1 19 1 33 1-74 1 0 1 37 1-16 1 0 1 48 1-50 1-16 1 21 1 30 1-54 1 30 1-13 1-2 1 36 1-51 1 39 1 9 1-44 1 35 1 26 1 37 1-30 1-165 1 48 1 71 1-16 1 18 1-24 1 1 1 39 1-53 1 23 1-24 1 19 1 26 1-19 1-19 1 29 1-31 1 46 1 10 1-18 1-6 1-36 1 23 1-3 1-1 1 4 1 1 1 35 1-23 1 8 1-40 1 82 1 49 1-39 1-120 1 30 1 29 1 22 1-39 1 46 1-16 1-15 1 36 1-24 1-34 1 21 1 27 1-50 1 64 1-50 1 12 1-4 1 12 1 3 1-12 1 0 1-3 1 15 1 11 1-34 1 39 1-25 1-16 1 39 1-30 1 30 1 25 1 49 1-39 1-177 1 48 1 74 1-4 1 5 1 0 1 27 1-35 1-21 1-10 1 45 1-10 1 7 1-48 1 13 1 43 1-11 1 3 1-29 1 36 1-13 1-36 1 32 1 15 1-4 1 7 1 22 1-40 1-22 1 34 1-37 1 49 1-12 1-18 1 33 1 29 1 52 1-42 1-112 1 24 1-3 1 55 1-35 1 24 1-46 1-17 1 12 1 23 1-4 1 5 1 16 1-9 1-31 1 54 1-19 1-16 1 5 1 5 1 20 1 25 1-52 1 24 1 28 1-56 1-3 1 51 1-10 1 32 1 53 1-43 1-118 1 27 1 32 1-11 1-40 1 73 1-58 1 15 1 3 1 2 1-17 1 56 1-36 1 1 1 26 1-4 1 6 1-12 1-28 1-2 1-5 1 20 1 20 1 8 1-16 1 27 1-21 1-14 1-21 1 34 1-16 1 41 1 35 1-28 1-102 1 30 1 34 1 6 1 8 1-46 1 5 1-9 1 47 1 19 1-46 1 6 1 7 1-2 1-29 1 5 1 32 1-44 1 25 1 36 1-17 1 4 1-12 1-12 1 6 1 0 1 13 1-5 1-1 1-24 1 4 1 20 1 24 1-21 1 10 1-54 1 73 1 14 1 46 1-37 1-122 1 33 1 47 1-4 1-29 1 7 1 14 1 10 1 13 1-40 1 34 1-34 1 26 1 14 1-19 1-52 1 59 1-36 1 8 1 62 1-52 1 21 1-18 1 24 1-36 1 29 1-16 1-17 1 7 1 13 1 8 1 20 1 30 1-24 1-164 1 52 1 69 1 4 1 14 1 23 1-5 1-6 1-5 1-52 1 37 1-15 1 2 1 15 1 3 1-25 1 46 1 3 1-48 1 20 1-11 1 19 1-16 1-2 1 24 1-60 1 43 1-12 1 22 1 8 1 1 1-22 1 37 1 34 1-27 1-107 1 33 1 35 1 5 1-12 1-4 1 16 1 4 1-7 1 14 1-46 1 25 1 10 1-13 1 6 1-16 1 15 1-11 1-5 1 25 1 24 1-21 1-7 1 0 1 2 1 1 1 34 1-26 1-18 1 22 1-20 1 33 1 31 1-25 1-82 1 22 1-1 1-2 1-18 1 43 1-33 1 6 1 37 1-20 1 3 1 17 1-12 1-15 1-4 1 55 1-47 1 25 1 34 1-40 1-53 1 82 1-59 1 13 1 25 1-5 1-3 1-9 1-23 1 20 1-7 1 52 1 40 1-32 1-106 1 29 1 7 1 10 1 8 1-14 1 31 1 21 1-63 1 23 1 35 1-13 1-31 1 3 1 13 1-31 1-1 1 42 1-10 1 28 1-63 1 44 1 4 1-28 1 5 1 5 1 33 1-31 1-37 1 36 1 35 1-26 1 2 1-10 1-12 1 58 1 42 1-34 1-117 1 33 1 33 1-3 1 21 1-65 1 41 1-33 1 15 1-5 1 33 1-16 1 12 1-47 1 20 1-16 1 32 1 9 1-16 1 8 1-7 1 22 1-2 1-39 1 51 1-44 1 20 1-5 1 55 1 5 1-54 1-2 1 56 1 46 1-37 1-186 1 52 1 58 1 23 1-36 1 50 1-28 1-28 1 5 1 35 1-40 1 13 1 35 1-20 1 38 1-11 1-18 1-11 1-16 1 15 1 16 1 3 1-28 1 57 1-52 1 26 1 9 1-43 1 69 1-39 1-14 1 9 1-7 1 38 1 30 1-24 1-76 1 20 1 40 1-40 1 19 1-22 1 21 1-38 1 15 1 36 1 16 1-23 1 20 1-20 1-31 1 53 1-28 1-8 1-3 1-4 1 26 1 10 1 6 1-62 1 43 1 8 1-17 1-24 1 33 1-17 1 4 1-18 1 24 1 31 1 29 1-23 1-90 1 27 1 30 1 2 1-7 1 19 1-16 1-19 1 7 1 17 1 15 1-10 1 2 1-24 1-26 1-1 1 82 1-11 1-29 1-50 1 12 1 31 1 32 1 13 1-47 1 5 1-2 1-12 1 53 1 39 1-31 1-105 1 30 1 52 1-27 1 15 1 31 1-15 1-61 1 61 1-31 1-1 1 3 1-1 1 2 1 1 1 21 1-16 1 1 1 38 1-43 1-27 1 30 1-2 1 15 1-33 1 7 1 1 1 47 1-72 1 27 1 29 1-38 1-16 1 84 1 53 1-43 1-117 1 27 1-3 1 19 1 22 1-42 1 5 1 46 1-31 1 15 1-18 1 23 1-12 1 10 1-29 1 42 1-24 1-22 1 37 1-15 1 29 1-15 1-33 1 21 1 1 1 2 1 17 1 22 1-34 1-32 1 32 1-27 1 32 1 21 1 32 1-26 1-81 1 22 1 29 1-5 1 43 1-51 1 1 1 11 1 16 1-42 1 19 1 8 1 11 1-52 1 40 1-9 1 8 1 10 1 2 1-17 1-13 1 38 1-20 1 5 1-49 1 28 1-31 1 23 1 55 1-53 1 35 1-62 1 83 1 0 1 40 1-32 1-103 1 28 1 5 1 12 1 8 1 13 1 13 1-36 1-16 1 11 1-16 1 37 1 0 1-13 1 14 1-13 1 31 1-10 1-3 1 3 1-15 1-22 1 56 1-30 1-35 1 18 1 32 1-43 1 31 1-4" transform="translate(61.500 308.500) scale(0.11695 -0.35000)" stroke="#00ff00" />
<path d="M1 0.01H222" transform="translate(61.500 308.500) scale(0.11695 -0.35000)" stroke="#0000ff" style="stroke-width:1.25"/><path d="M222 0l1 0 1 2 1-1 1 1 1 0 1 1 1 0 1-2 1-1 1 3 1-2 1 4 1 1 1-2 1-1 1-4 1-1 1 1 1 0 1-4 1-4 1 1 1 9 1 0 1-7 1 0 1-1 1-15 1 4 1 3 1 4 1 4 1 4 1 7 1 2 1 6 1-3 1-5 1 2 1-7 1 6 1-7 1 14 1-4 1 10 1-3 1-6 1-1 1-3 1 0 1-14 1 4 1 3 1 2 1-4 1 0 1-5 1 8 1-3 1-21 1 2 1 5 1-5 1 9 1 4 1 6 1 5 1 10 1 0 1-6 1 5 1-7 1-6 1 4 1-2 1 13 1 6 1 2 1-7 1 1 1-10 1 2 1-2 1-8 1-1 1-2 1-3 1 4 1 0 1 5 1-1 1-12 1-5 1 2 1-5 1-3 1 11 1-4 1 12 1 4 1 10 1-4 1 5 1-4 1-15 1 7 1 6 1 0 1 13 1 3 1-2 1 10 1-1 1-4 1-8 1-7 1-6 1-7 1 8 1-3 1-6 1 0 1 11 1-5 1-6 1-12 1 1 1-2 1-8 1 9 1 6 1-4 1 8 1 7 1 2 1-4 1-3 1 1 1 3 1-1 1 8 1 6 1 4 1 6 1-4 1 0 1-10 1-1 1 9 1-18 1-3 1 8 1 3 1 6 1-3 1-2 1-8 1 5 1-7 1-5 1-8 1 2 1-3 1 4 1 10 1 2 1-3 1 1 1 4 1-1 1-5 1 2 1-5 1 10 1 2 1 5 1 3 1 6 1-4 1-4 1 0 1-5 1-5 1 2 1-8 1 12 1 0 1 4 1-7 1-1 1-3 1-7 1-10 1 4 1-4 1 11 1-3 1 3 1 5 1-6 1 7 1-6 1 3 1-4 1 2 1-2 1 3 1 12 1 2 1 8 1-2 1-2 1-5 1 2 1 4 1-12 1 4 1 6 1 14 1-12 1 7 1-14 1-4 1-6 1-9 1 5 1-4 1-3 1 11 1 2 1-3 1 2 1-5 1-11 1 8 1-9 1 0 1 12 1 1 1 4 1 11 1-2 1 14 1-15 1 6 1-10 1 3 1-1 1 3 1 10 1 8 1 0 1 4 1-7 1-4 1-3 1-18 1 3 1-11 1 3 1 2 1-1 1 7 1-1 1 3 1-7 1-2 1-6 1 4 1-8 1 0 1 2 1 9 1 8 1 3 1 9 1-9 1-1 1 4 1-2 1 1 1-5 1 8 1 5 1 11 1 2 1-9 1 1 1-4 1-10 1-4 1 1 1-4 1-5 1 7 1 1 1-1 1-2 1-2 1-8 1-4 1-2 1-5 1 3 1 3 1 11 1-1 1 13 1-8 1 0 1 4 1-1 1-1 1 1 1-1 1 4 1 1 1-1 1 0 1 3 1 2 1 4 1-7 1 6 1-10 1-6 1-2 1 3 1 5 1-2 1 3 1-5 1-6 1-9 1 6 1-6 1 2 1 0 1-4 1 9 1 2 1 1 1 5 1 3 1 3 1-10 1-2 1 0 1 12 1-1 1 5 1 3 1 4 1 1 1-4 1 2 1 1 1-11 1-4 1 4 1-1 1 5 1-3 1 10 1-11 1 0 1-13 1-4 1-3 1-6 1 10 1-12 1 15 1-2 1 8 1-2 1 1 1-2 1-8 1 3 1-8 1 10 1 13 1 11 1 7 1 0 1 5 1-10 1-2 1-8 1-2 1-2 1 10 1 5 1-6 1 6 1-1 1-5 1-12 1-7 1-3 1-9 1 5 1-4 1 9 1 8 1-2 1-2 1-7 1 2 1 1 1-3 1-3 1 7 1 1 1 10 1-1 1 3 1 2 1 4 1-5 1 5 1-7 1 7 1 2 1 3 1 6 1 0 1-3 1-7 1-7 1-5 1 0 1-1 1-13 1 5 1 6 1-4 1 8 1-6 1-3 1-6 1-2 1 4 1-12 1 19 1-4 1 2 1 8 1-5 1 7 1 1 1 2 1-8 1 0 1 4 1-1 1 13 1-2 1-1 1 2 1 3 1-4 1-3 1-1 1-4 1-13 1-7 1 17 1 4 1-4 1-1 1-1 1-11 1 5 1-13 1 7 1-6 1 0 1 5 1 9 1 2 1 4 1-1 1-1 1 1 1-13 1 15 1-9 1 7 1 4 1 5 1 9 1-5 1 1 1 10 1-11 1-11 1-1 1 0 1 2 1-4 1 1 1 9 1-5 1-6 1 1 1-7 1 0 1-13 1 10 1-10 1 12 1-5 1 1 1 9 1 7 1 0 1-7 1-3 1 6 1-4 1-4 1 18 1 2 1 7 1 4 1 4 1-6 1-7 1 0 1-13 1 1 1 3 1-2 1 3 1 4 1-9 1 16 1-16 1-7 1-1 1-6 1-10 1 0 1 3 1 7 1 6 1-2 1 3 1 10 1-17 1 5 1-7 1 4 1 2 1 11 1 13 1 3 1-2 1 4 1-9 1 3 1-1 1-9 1 4 1-1 1 4 1 2 1-3 1 14 1-6 1-15 1-7 1-3 1-2 1-5 1-4 1 10 1 2 1 2 1 6 1-7 1-1 1-3 1 0 1-4 1 12 1-4 1 7 1 7 1-1 1-2 1 7 1-7 1-1 1-1 1-1 1 3 1 2 1 4 1 0 1 11 1-5 1-12 1-6 1 5 1-4 1-12 1 12 1-3 1-2 1 3 1 2 1-3 1 5 1-15 1-5 1 7 1 0 1 2 1 4 1-1 1 10 1-4 1 5 1-1 1-6 1 2 1 3 1-1 1 2 1 2 1 8 1 6 1-6 1-4 1-5 1-6 1 7 1-9 1 0 1 1 1 1 1 4 1-2 1-2 1-3 1-1 1-14 1 4 1-8 1 2 1 13 1 2 1 1 1 1 1 2 1-7 1 9 1-10 1 8 1-3 1 9 1 4 1 3 1 12 1 0 1 3 1-7 1 3 1-24 1 2 1-1 1-2 1 5 1 5 1 7 1 0 1-7 1-14 1-1 1-6 1-3 1 5 1-5 1 6 1 11 1 0 1-7 1 7 1-4 1-5 1-7 1 2 1 4 1 4 1 20 1 1 1 3 1-3 1-1 1 5 1-12 1 1 1-8 1 11 1 4 1-2 1-1 1 9 1-5 1-7 1-12 1-5 1-2 1-8 1 5 1-1 1 6 1 0 1 5 1 1 1-11 1 12 1-11 1 2 1-4 1 11 1 0 1 4 1 3 1 8 1 2 1-5 1 0 1-6 1-4 1 4 1-2 1 7 1 6 1 4 1-5 1-4 1-10 1 5 1-10 1 1 1-2 1-6 1 8 1 5 1-4 1 1 1-3 1-5 1-6 1 6 1-5 1 4 1 6 1-3 1 12 1-3 1 6 1 4 1-3 1-7 1 4 1 0 1-11 1 6 1 4 1-3 1 13 1-9 1-7 1 3 1 9 1-9 1-3 1 3 1-8 1 9 1-5 1-1 1 5 1-4 1-6 1-6 1 0 1-9 1 10 1 2 1 3 1 4 1 10 1 1 1 2 1-8 1 3 1 7 1-10 1 0 1 14 1 8 1-1 1 3 1-1 1 6 1-9 1-20 1 10 1-8 1-4 1 2 1 4 1 0 1 2 1-5 1-5 1-6 1-4 1-11 1 7 1-7 1 14 1 1 1 6 1-2 1 6 1 1 1-7 1-11 1 18 1-7 1 11 1 4 1 13 1 1 1 4 1-3 1-12 1 7 1-17 1 8 1-1 1-2 1 0 1 3 1 1 1 7 1-11 1-10 1-6 1-9 1 7 1-7 1 3 1 3 1 6 1 2 1-1 1 1 1 3 1-6 1 0 1-2 1 6 1 6 1 4 1 8 1-6 1 3 1 2 1-6 1-4 1 8 1-10 1 12 1-4 1 6 1-2 1-9 1 2 1-12 1-3 1 0 1-5 1 6 1 1 1 0 1 6 1-1 1-8 1-6 1 1 1 9 1-6 1 1 1 4 1 2 1 3 1 4 1 1 1 2 1 1 1-2 1 3 1-9 1 6 1 7 1-3 1 12 1-1 1-6 1 2 1-3 1-8 1-7 1 1 1-4 1-2 1 8 1 0 1-14 1 9 1-1 1-6 1-1 1-7 1-3 1-1 1 12 1 5 1 15 1-12 1 10 1 1 1 2 1 1 1-8 1-3 1 9 1 3 1-3 1 10 1 6 1-2 1 2 1-9 1-2 1-14 1-9 1 9 1 0 1-6 1 9 1-2 1 3 1-8 1 0 1-6 1-3 1-9 1 1 1 3 1 5 1 8 1 7 1-4 1 5 1 2 1-8 1-2 1 0 1-1 1 9 1 5 1 16 1 6 1-7 1 1 1-3 1-5 1-10 1-6 1 8 1-2 1 4 1-2 1 3 1-4 1-3 1-3 1-13 1-5 1 2 1-1 1 1 1 12 1 0 1 1 1-7 1 7 1 2 1-7 1 0 1-2 1 8 1 0 1 3 1 6 1 3 1 8 1-8 1 3 1 2 1-16 1 7 1 2 1-3 1 2 1 6 1 2 1-7 1-3 1-4 1-15 1 3 1-4 1 3 1-1 1 8 1-1 1-3 1 8 1-1 1-2 1-6 1-1 1 4 1 1 1 5 1 0 1 11 1-6 1-1 1 5 1-13 1 1 1 4 1 0 1 9 1 2 1-1 1 8 1-7 1-5 1-7 1 9 1-18 1-7 1 8 1-2 1 14 1-2 1 1 1-3 1-13 1 5 1-10 1-1 1 9 1-8 1 14 1 6 1 6 1 9 1-7 1-3 1-1 1-5 1-4 1 5 1 12 1-5 1 11 1-4 1 5 1-4 1-3 1-4 1-6 1-7 1 7 1-3 1 5 1-3 1 3 1-11 1-2 1-7 1-4 1-5 1 2 1-3 1 6 1 6 1 13 1 0 1-3 1 3 1-4 1-6 1 2 1 1 1 8 1 3 1 13 1 12 1-2 1-9 1 4 1-8 1-6 1-5 1 4 1-2 1-4 1 6 1 10 1-5 1-15 1 3 1-1 1-13 1 1 1 2 1 3 1 0 1 2 1 6 1 0 1-9 1 5 1-5 1-2 1 3 1 2 1 4 1 3 1 9 1 5 1-6 1 7 1-1 1 3 1-17 1 6 1-4 1-1 1 12 1 10 1-13 1 5 1-9 1-1 1-8 1-9 1-2 1-6 1 10 1-4 1 5 1 8 1-12 1 6 1 0 1 2 1-6 1-3 1 9 1-4 1 9 1 2 1 0 1 2 1 0 1-1 1 2 1-4 1-1 1 4 1-2 1 7 1-7 1 9 1-7 1 2 1-1 1-12 1 1 1-4 1 2 1-7 1 7 1 6 1-12 1 9 1-5 1-10 1-1 1 6 1-1 1 3 1 10 1 4 1 4 1 4 1 2 1-14 1 8 1-2 1 6 1-2 1-3 1 5 1 6 1 3 1-2 1-10 1 2 1-9 1 1 1-9 1-2 1-3 1 6 1-1 1 3 1 1 1 0 1-12 1-7 1 7 1-13 1 9 1 2 1 13 1 4 1 6 1 9 1-3 1-7 1-1 1 0 1 5 1-8 1 9 1 5 1 13 1-3 1-2 1-1 1-9 1-2 1-16 1 8 1-7 1 2 1 5 1-13 1 5 1 2 1 3 1-11 1-5 1-3 1-2 1 1 1 13 1-2 1-1 1 10 1 9 1-7 1-2 1 2 1-5 1 7 1 0 1 9 1-2 1 16 1-7 1 6 1-15 1 7 1-12 1-10 1 2 1 5 1-5 1 11 1-9 1 7 1-12 1 2 1-7 1-7 1 10 1-13 1 1 1 16 1-1 1 8 1-4 1 5 1 0 1-6 1-1 1-1 1 4 1 5 1 10 1-12 1 12 1-3 1-6 1 2 1-2 1-3 1 1 1-5 1 8 1-7 1 12 1-2 1-11 1-1 1-7 1 4 1-14 1 1 1 1 1 2 1 9 1 5 1 0 1-9 1 6 1-3 1 0 1-1 1-1 1 4 1 11 1 12 1-3 1 7 1-4 1-8 1-4 1-3 1 1 1 3 1-2 1 8 1 2 1-7 1 4 1-7 1-7 1-8 1-3 1 5 1-10 1 13 1-2 1-2 1 7 1-9 1 1 1 1 1-4 1-9 1 16 1-4 1 5 1 8 1 7 1 5 1 2 1-3 1 3 1-3 1-7 1-3 1-3 1 6 1 4 1 9 1 4 1-9 1-4 1-6 1-8 1-11 1-1 1 2 1 0 1-2 1 6 1 3 1-1 1-5 1 0 1-3 1 4 1-9 1 12 1-4 1 6 1 15 1-1 1 6 1-9 1 5 1-13 1 14 1 3 1 1 1 3 1 1 1 6 1-2 1-8 1-9 1-1 1-4 1-8 1-5 1 2 1 3 1 12 1-7 1 1 1-10 1 5 1-5 1-4 1-2 1-1 1 7 1 0 1 8 1 4 1 7 1 2 1-16 1 8 1 1 1-3 1 5 1 10 1-10 1 1 1 11 1-7 1 1 1 3 1-6 1-9 1-1 1-2 1 11 1-6 1 4 1-7 1 8 1-5 1 0 1-5 1-7 1 0 1-6 1 5 1-1 1 0 1 7 1 11 1 1 1-4 1 1 1-4 1 2 1-5 1 4 1 4 1-2 1 10 1 3 1-4 1 0 1 1 1-5 1-9 1 1 1 7 1 6 1-4 1-7 1 11 1-4 1-7 1-7 1-3 1-11 1-5 1 10 1 1 1 1 1 3 1 14 1-6 1-5 1-9 1 4 1-8 1 8 1 7 1 8 1 8 1 0 1 14 1-1 1-2 1-6 1-21 1 17 1 1 1-9 1 4 1 9 1-7 1 3 1-3 1-5 1-11 1 1 1-13 1-8 1 5 1 4 1 9 1 8 1-4 1 4 1-16 1 4 1 1 1-1 1-8 1 5 1 12 1 12 1 5 1 4 1-3 1 5 1-5 1-10 1-3 1 6 1-5 1 8 1 6 1-3 1-3 1 2 1 0 1-11 1-5 1-2 1-7 1-5 1 3 1 2 1 0 1 7 1 1 1 0 1-11 1 8 1-7 1-3 1 6 1 8 1 4 1 8 1 1 1-4 1-1 1 1 1-9 1 3 1-2 1 5 1 8 1-5 1-1 1 16 1-17 1 3 1-7 1 5 1-10 1 5 1-3 1-4 1 5 1-8 1 11 1-18 1 8 1-1 1-5 1-14 1 10 1 1 1 11 1-3 1 8 1 10 1-5 1-2 1 9 1-7 1-2 1 10 1-12 1 6 1 6 1 0 1 6 1-3 1-3 1-7 1 1 1-9 1 11 1-8 1-2 1 0 1-3 1 7 1 2 1-10 1-3 1-4 1-14 1 6 1-2 1 0 1 10 1 7 1 2 1 6 1 3 1 7 1-13 1-4 1 6 1-3 1 12 1 4 1-2 1 13 1 1 1 0 1-8 1-7 1-2 1-11 1 3 1 0 1 11 1-1 1-3 1-3 1-9 1-3 1-1 1-12 1-1 1 0 1 3 1 7 1 2 1 5 1 8 1-10 1 4 1-3 1 0 1 5 1-10 1 7 1 17 1 11 1 0 1-8 1 7 1 2 1-13 1-5 1-5 1-1 1 3 1 3 1 1 1 4 1-4 1-2 1-10 1 1 1-11 1-1 1 1 1 3 1 1 1 4 1 2 1 4 1 1 1 0 1-3 1-6 1-7 1 14 1-1 1 0 1 15 1-4 1 2 1-6 1 7 1-4 1 1 1-4 1 0 1 5 1-5 1 4 1 6 1-4 1-10 1-4 1 2 1-8 1 1 1 1 1-8 1 7 1 0 1 5 1 1 1-4 1-6 1-8 1 2 1 8 1 4 1 4 1 6 1 2 1 6 1-2 1-6 1-4 1 3 1 2 1-3 1 3 1 10 1-3 1-2 1 9 1-9 1-5 1-13 1 3 1 3 1-1 1-8 1 8 1-6 1 6 1-2 1-4 1-3 1-3 1-4 1 1 1 5 1-2 1 12 1 8 1 3 1-1 1-2 1-3 1 5 1-11 1 9 1 5 1 4 1 2 1 3 1-5 1 7 1-2 1-7 1-10 1-8 1-8 1 7 1 5 1-7 1 6 1 0 1 0 1 2 1-8 1-4 1-11 1 0 1 1 1 4 1 15 1 3 1 4 1 1 1 1 1-3 1 0 1 0 1 1 1 8 1 2 1 1 1 15 1-3 1 3 1-5 1-7 1-11 1-13 1 1 1 10 1-8 1 6 1 3 1-4 1 5 1-5 1-8 1-12 1 3 1-1 1 3 1 7 1 6 1-3 1 1 1 5 1-2 1-5 1-3 1 8 1-5 1 1 1 13 1-2 1 6 1 5 1-7 1 1 1-10 1 0 1 1 1-1 1 1 1 9 1 4 1-7 1 0 1-10 1-2 1-3 1-10 1 0 1 4 1 1 1 4 1-7 1 11 1-3 1 4 1-3 1 0 1-6 1 5 1-6 1 14 1-1 1 7 1 5 1-9 1 4 1-5 1-7 1 4 1 6 1 4 1 3 1-7 1 10 1-6 1 5 1-12 1-9 1 6 1-11 1-6 1 9 1 4 1 3 1-1 1-6 1 1 1-9 1-3 1-6 1 2 1 7 1 4 1 6 1 14 1-6 1 2 1 7 1 2 1-8 1 3 1-7 1 8 1 1 1 4 1 13 1-5 1 1 1-11 1 0 1-17 1 3 1-16 1 13 1 0 1 2 1-3 1 10 1-10 1-6 1-1 1-4 1-12 1 8 1-4 1 14 1 2 1 12 1 7 1-5 1-5 1-3 1 5 1 5 1-2 1 3 1 2 1 15 1-2 1 6 1-9 1-2 1-8 1-1 1-11 1-5 1 3 1 6 1 3 1-2 1-6 1 6 1-11 1-1 1-12 1 5 1-1 1 3 1 4 1 2 1 6 1 0 1 0 1 4 1-6 1 0 1 1 1-6 1 7 1 14 1 1 1 3 1 0 1 8 1-4 1-9 1-4 1-4 1 4 1 1 1 0 1-1 1 7 1-8 1-9 1 7 1-13 1 1 1-4 1-7 1-2 1 9 1 7 1-3 1 1 1 13 1-3 1-6 1-9 1 13 1-3 1 3 1-2 1 12 1 5 1-7 1 3 1 6 1-2 1-9 1 1 1 0 1-1 1 3 1-3 1 3 1-7 1 3 1-3 1-15 1 0 1-5 1 9 1-10 1 9 1 4 1 0 1-4 1 1 1 1 1-2 1-8 1-1 1 3 1 11 1 10 1 3 1 8 1 1 1-9 1 1 1-5 1-9 1 7 1 1 1 5 1 8 1-6 1 1 1-2 1 6 1-16 1-6 1-1 1-10 1 9 1-4 1-10 1 5 1 2 1 12 1-1 1-14 1-1 1 4 1-3 1-7 1 14 1 9 1 3 1 10 1 0 1 2 1 1 1-2 1-1 1-5 1 0 1 3 1 10 1-1 1 6 1 0 1-7 1-8 1-7 1-8 1 3 1-2 1-8 1 12 1-4 1-2 1 5 1 0 1-11 1-7 1-4 1 4 1 6 1 8 1 3 1 1 1 7 1-10 1 12 1-6 1-1 1 4 1 1 1 0 1 6 1 6 1 5 1-6 1 1 1 2 1-10 1-8 1-3 1 2 1-3 1 10 1-2 1-4 1-2 1 3 1-9 1-8 1-1 1-4 1 9 1 5 1-1 1 0 1-1 1 1 1 6 1 0 1 4 1-8 1 5 1 3 1-4 1 10 1-1 1 6 1-6 1-2 1 7 1-7 1 2 1 0 1-7 1 3 1 1 1 7 1-1 1-2 1-2 1-6 1-14 1-1 1-7 1 4 1 3 1-7 1 8 1 16 1-4 1-8 1 3 1-4 1 2 1 5 1-8 1 12 1 3 1-2 1 12 1 1 1-6 1-5 1-4 1-1 1 11 1-2 1 10 1 1 1-5 1 1 1-9 1-10 1-2 1-6 1 3 1-4 1-2 1 9 1 1 1 2 1-2 1-6 1-7 1 2 1-3 1 2 1-1 1-3 1 14 1 13 1 6 1-1 1 8 1-6 1-5 1-13 1 11 1 3 1 0 1 7 1 7 1 0 1-10 1 1 1-7 1-13 1-2 1-3 1-8 1 17 1-2 1 4 1 1 1-9 1-3 1 0 1-6 1 1 1 1 1-1 1 9 1 4 1 14 1-9 1 13 1-6 1-3 1-2 1 1 1-8 1 8 1 6 1 0 1 16 1 0 1-7 1-5 1-9 1-9 1 3 1-3 1-8 1 10 1-1 1-2 1 7 1-8 1-1 1-1 1-7 1-11 1 10 1 9 1 3 1-10 1 15 1 1 1 0 1 6 1-5 1-3 1 8 1-1 1-2 1-7 1 11 1 5 1 0 1-3 1-8 1 5 1-3 1-10 1 4 1-2 1-1 1 11 1-3 1-7 1-6 1-2 1-6 1-2 1 1 1-1 1 7 1 2 1 4 1 3 1-4 1-6 1 6 1 2 1 0 1 0 1 5 1 1 1 12 1 2 1-5 1 2 1 2 1-5 1-8 1-4 1 7 1-6 1 4 1 5 1-5 1 8 1-16 1 2 1-9 1-4 1-10 1 1 1 3 1 8 1 9 1 0 1 0 1-2 1 8 1-20 1 10 1-3 1 4 1 4 1 8 1 4 1 2 1 11 1 0 1 7 1-17 1 0 1-7 1 1 1 3 1 3 1 4 1-4 1 4 1 2 1-14 1-9 1-2 1-1 1-15 1 14 1-3 1 0 1 3 1 11 1-14 1 6 1-9 1-3 1 7 1 6 1 2 1 3 1 7 1 4 1 6 1 1 1-3 1-5 1-1 1-4 1 3 1 3 1 5 1-5 1 0 1 6 1-12 1-2 1-1 1-9 1-9 1 2 1 0 1 4 1-1 1 8 1 8 1-5 1-14 1 3 1 0 1 6 1-1 1-2 1 6 1 4 1 2 1 4 1-4 1 2 1 7 1-12 1 3 1-2 1 8 1 1 1 0 1-1 1 7 1-3 1-15 1-3 1 0 1 0 1 4 1-4 1-6 1 15 1-7 1-1 1-4 1-6 1-1 1-6 1 11 1-7 1 13 1 1 1 8 1 2 1 2 1-4 1 10 1-9 1-1 1-8 1 7 1-4 1 9 1 4 1 1 1-2 1-3 1 1 1-4 1-13 1-4 1 4 1 6 1 2 1 9 1-10 1-3 1-4 1-9 1-5 1 1 1-2 1-5 1 13 1 7 1-4 1 17 1 0 1-1 1-13 1 15 1-10 1-1 1 12 1 5 1 6 1-1 1 9 1-13 1 7 1-8 1-15 1 4 1-6 1 5 1 0 1 13 1-1 1-4 1-10 1-9 1 0 1-9 1-10 1 11 1-8 1 7 1 7 1 6 1-1 1 12 1-9 1 4 1-6 1 2 1-1 1 6 1 13 1 0 1 5 1 2 1 7 1-9 1-4 1-1 1-9 1 1 1-9 1 7 1 10 1-13 1 10 1-10 1 1 1 0 1-7 1-15 1 0 1 1 1 12 1-1 1 3 1 0 1 5 1-2 1 0 1-10 1 6 1-2 1 3 1 14 1 2 1-2 1 4 1 4 1 1 1-9 1-7 1 2 1-4 1-3 1 1 1 5 1 2 1 7 1-15 1-3 1 2 1-20 1 11 1 1 1 3 1-4 1 5 1 10 1-5 1-5 1 1 1-4 1 7 1-5 1 5 1 6 1-7 1 12 1-2 1 11 1 1 1-10 1-4 1-1 1 9 1-8 1 6 1 0 1-4 1 10 1-1 1-11 1 1 1-7 1-6 1-7 1 9 1-17 1 12 1 5 1 8 1-11 1 0 1-4 1-6 1 0 1 3 1 8 1 3 1 9 1 8 1-3 1 11 1-7 1-3 1-2 1-1 1-3 1 4 1 11 1 3 1-11 1 9 1-3 1-4 1-7 1-1 1-12 1 3 1-9 1 2 1 10 1-5 1 4 1-11 1-3 1 9 1-14 1-2 1 1 1 6 1 9 1 12 1-2 1 9 1-1 1-9 1-5 1 5 1 0 1 7 1 7 1 3 1 2 1 7 1-5 1-2 1-5 1-9 1-6 1-4 1-2 1 4 1 3 1-4 1 3 1 6 1-5 1-11 1-3 1-2 1-6 1 2 1 17 1-4 1 9 1-3 1 7 1-1 1-10 1 13 1-9 1-7 1 12 1 0 1 7 1 5 1-5 1 6 1-13 1 6 1-1 1-6 1 1 1 0 1 7 1-10 1 2 1 5 1-4 1-17 1-2 1 1 1-5 1-5 1 3 1 12 1 2 1 1 1 1 1 4 1-7 1 8 1-11 1 8 1 1 1 1 1 8 1 3 1-1 1-1 1-3 1 8 1-8 1-1 1 2 1-6 1-2 1 4 1 3 1 4 1 3 1-3 1-10 1-6 1-13 1 5 1-2 1-2 1 7 1-7 1 15 1-4 1 8 1-10 1-3 1 1 1-3 1 4 1 3 1 7 1 14 1 12 1-2 1-4 1-9 1-4 1-1 1-2 1 4 1-3 1 11 1 7 1-8 1-2 1-6 1-6 1-5 1-7 1-3 1 2 1 1 1 2 1-1 1 1 1-8 1 8 1-13 1 0 1-2 1 3 1 4 1 8 1 16 1 2 1 4 1 2 1-6 1-2 1-7 1 2 1 10 1-1 1 8 1 3 1 3 1 1 1-10 1-7 1-6 1-12 1-6 1 7 1 1 1-9 1 8 1 8 1-1 1-4 1-6 1 2 1-4 1-1 1 2 1 5 1 0 1 3 1 6 1-1 1 6 1 0 1-8 1 6 1-2 1 0 1 9 1 1 1-4 1 11 1 3 1-10 1-5 1-3 1-4 1-2 1-8 1 7 1 4 1 3 1-3 1 0 1-8 1-5 1-2 1-2 1-6 1 11 1 2 1-5 1 2 1 12 1-4 1 6 1-6 1 2 1 4 1-5 1 2 1 14 1-6 1 2 1-2 1 4 1-2 1-6 1-3 1-4 1 11 1-5 1 4 1-1 1 2 1-1 1-6 1 0 1-6 1-9 1 1 1-4 1-2 1 5 1-2 1 12 1 1 1-2 1 8 1-3 1-12 1 7 1-1 1 5 1 4 1 13 1 5 1-9 1 6 1 2 1-10 1 0 1-1 1-5 1-9 1 8 1 4 1 0 1 6 1 0 1-14 1-7 1-3 1-1 1-5 1 0 1-1 1 0 1 8 1 7 1 1 1-7 1-3 1-3 1 3 1-2 1 4 1 3 1 19 1 2 1 3 1 0 1-6 1 3 1 0 1-1 1-4 1 0 1 1 1 4 1-2 1 12 1-8 1-11 1-9 1-1 1-4 1-6 1 4 1-4 1 2 1 5 1 5 1 3 1-6 1-2 1-8 1 5 1-8 1 9 1-3 1 5 1 3 1 13 1 5 1-7 1 5 1-1 1-5 1 2 1 0 1-2 1 2 1 3 1 6 1 2 1-2 1-6 1-7 1-8 1-3 1 0 1-3 1 8 1-1 1-2 1 6 1-11 1-2 1-3 1 8 1-5 1 2 1 0 1 15 1-4 1-5 1 7 1 1 1-1 1-5 1 4 1 1 1 1 1 3 1-1 1 16 1-10 1 9 1-8 1-3 1-4 1-3 1-1 1-10 1 10 1-1 1 7 1-7 1-3 1-8 1-1 1-7 1-4 1 4 1 10 1-5 1 9 1-4 1 13 1-1 1-8 1 0 1-5 1 5 1 7 1 8 1-4 1 8 1-1 1 7 1 1 1-2 1-9 1-1 1-6 1-1 1 7 1-7 1-1 1 4 1-4 1 1 1-8 1-4 1-13 1 6 1-3 1 7 1 4 1-2 1 1 1 4 1 3 1-6 1-6 1-2 1 3 1 13 1-4 1 7 1 16 1 1 1-5 1 3 1-6 1 0 1-8 1 0 1 3 1 5 1 5 1 5 1-6 1-8 1 3 1-3 1-7 1-7 1-6 1 2 1 6 1 0 1 2 1-4 1-3 1 0 1-7 1-12 1 14 1 3 1 11 1 1 1-6 1 16 1 3 1-11 1 4 1-4 1-4 1 11 1 6 1 4 1 2 1 1 1-9 1-1 1-6 1-9 1-5 1 2 1 2 1 3 1-5 1 4 1-1 1 2 1-10 1 1 1 0 1-7 1 2 1 3 1 0 1 8 1 2 1 10 1-8 1-5 1 5 1-1 1 9 1-8 1 3 1 1 1 10 1-2 1 6 1-6 1 6 1-11 1 3 1-8 1-6 1 1 1 5 1-13 1 18 1-3 1-1 1-19 1 4 1-3 1-9 1-1 1 4 1 11 1 4 1 7 1 2 1-1 1-9 1 7 1 1 1-17 1 17 1 0 1 8 1 0 1 7 1 1 1-8 1 4 1-9 1-4 1 0 1 0 1 5 1-5 1 11 1 4 1-2 1-14 1-1 1-12 1-10 1 8 1-6 1 1 1 3 1 6 1 12 1-1 1 3 1-9 1-2 1-4 1 1 1 3 1 5 1 4 1 13 1 3 1 1 1 7 1-7 1 2 1-4 1-11 1 0 1 4 1 0 1-5 1 8 1 3 1-5 1-13 1 1 1-4 1-14 1 4 1 2 1-2 1 14 1-11 1 10 1 3 1-19 1 2 1 8 1-10 1 3 1 13 1 6 1 6 1 13 1-3 1 4 1-7 1 0 1-6 1-2 1-1 1 10 1-3 1 3 1-5 1-4 1 3 1-5 1-11 1-6 1 0 1 5 1-6 1 11 1-1 1 2 1-7 1 0 1-7 1 6 1 7 1-8 1 6 1 5 1-10 1 3 1 15 1-12 1 10 1 4 1-6 1 0 1-2 1 2 1 6 1 2 1 0 1 6 1-7 1 3 1-7 1-7 1-8 1 0 1 0 1 13 1 0 1-7 1 5 1-5 1-12 1-5 1 2 1 5 1-10 1 12 1 2 1 7 1 11 1-8 1-5 1-1 1-5 1 8 1-3 1 12 1 1 1 7 1 2 1 1 1-11 1 0 1-3 1-5 1-3 1 2 1-8 1 8 1 4 1 3 1-5 1-1 1 0 1-12 1-8 1-7 1 6 1-6 1 10 1 8 1 1 1 2 1-1 1 1 1 0 1-2 1-4 1 7 1 8 1 8 1 5 1 4 1 5 1 2 1-15 1-1 1-6 1-8 1 7 1-2 1 10 1-2 1-3 1 5 1-6 1-4 1-17 1-4 1-3 1 3 1-7 1 8 1 4 1 11 1-2 1 1 1 0 1-6 1 2 1-1 1 1 1-1 1 13 1 8 1 6 1-3 1-1 1-4 1-1 1-5 1 1 1 1 1-2 1 7 1-4 1 9 1-1 1-7 1-14 1-5 1 1 1-10 1 9 1 1 1 5 1 1 1 2 1 0 1-6 1 2 1 0 1-7 1-1 1 11 1-5 1 10 1 2 1 3 1-3 1 6 1-5 1-1 1-2 1 3 1-2 1 7 1 4 1-4 1 9 1-5 1-2 1 0 1-14 1-7 1-5 1 5 1 7 1-2 1-1 1 10 1-10 1-10 1 3 1-8 1 3 1 5 1 6 1 2 1 1 1 9 1-2 1-1 1-2 1 3 1-4 1 2 1 4 1-2 1 10 1 4 1-14 1 10 1-9 1 3 1-13 1-3 1 2 1 2 1 12 1-1 1-8 1 8 1-14 1-6 1-11 1 7 1-5 1 6 1-2 1 11 1-8 1 18 1-9 1 6 1-1 1 0 1-9 1 7 1 8 1 8 1 5 1-3 1 7 1 6 1-9 1-5 1-6 1-12 1 10 1 2 1-5 1 4 1 1 1-6 1 1 1-12 1 2 1-17 1 3 1-9 1 12 1 3 1 1 1 8 1 2 1 8 1-7 1-2 1-3 1 3 1-4 1-4 1 9 1 9 1 15 1 6 1 0 1-6 1-14 1 5 1-11 1 3 1 1 1 7 1 9 1-11 1 4 1-12" transform="translate(61.500 308.500) scale(0.11695 -0.35000)" stroke="#0000ff" />
</g>
<rect x="61.50" y="16.10" width="467.80" height="154.60" fill="none" stroke="#262626" stroke-width="1.3"/>
<path d="M61.50 170.70v-4.70M61.50 16.10v4.70M119.97 170.70v-4.70M119.97 16.10v4.70M178.45 170.70v-4.70M178.45 16.10v4.70M236.92 170.70v-4.70M236.92 16.10v4.70M295.40 170.70v-4.70M295.40 16.10v4.70M353.87 170.70v-4.70M353.87 16.10v4.70M412.35 170.70v-4.70M412.35 16.10v4.70M470.82 170.70v-4.70M470.82 16.10v4.70M529.30 170.70v-4.70M529.30 16.10v4.70M61.50 171.55h4.70M529.30 171.55h-4.70M61.50 132.70h4.70M529.30 132.70h-4.70M61.50 93.85h4.70M529.30 93.85h-4.70M61.50 55.00h4.70M529.30 55.00h-4.70M61.50 16.15h4.70M529.30 16.15h-4.70" stroke="#262626" stroke-width="1.3" fill="none"/>
<rect x="61.50" y="232.15" width="467.80" height="153.40" fill="none" stroke="#262626" stroke-width="1.3"/>
<path d="M61.50 385.55v-4.70M61.50 232.15v4.70M119.97 385.55v-4.70M119.97 232.15v4.70M178.45 385.55v-4.70M178.45 232.15v4.70M236.92 385.55v-4.70M236.92 232.15v4.70M295.40 385.55v-4.70M295.40 232.15v4.70M353.87 385.55v-4.70M353.87 232.15v4.70M412.35 385.55v-4.70M412.35 232.15v4.70M470.82 385.55v-4.70M470.82 232.15v4.70M529.30 385.55v-4.70M529.30 232.15v4.70M61.50 378.50h4.70M529.30 378.50h-4.70M61.50 343.50h4.70M529.30 343.50h-4.70M61.50 308.50h4.70M529.30 308.50h-4.70M61.50 273.50h4.70M529.30 273.50h-4.70M61.50 238.50h4.70M529.30 238.50h-4.70" stroke="#262626" stroke-width="1.3" fill="none"/>
<g class="tk">
<text x="61.50" y="189.45" text-anchor="middle">0</text>
<text x="119.97" y="189.45" text-anchor="middle">500</text>
<text x="178.45" y="189.45" text-anchor="middle">1000</text>
<text x="236.92" y="189.45" text-anchor="middle">1500</text>
<text x="295.40" y="189.45" text-anchor="middle">2000</text>
<text x="353.87" y="189.45" text-anchor="middle">2500</text>
<text x="412.35" y="189.45" text-anchor="middle">3000</text>
<text x="470.82" y="189.45" text-anchor="middle">3500</text>
<text x="529.30" y="189.45" text-anchor="middle">4000</text>
<text x="55.90" y="176.45" text-anchor="end">-100</text>
<text x="55.90" y="137.60" text-anchor="end">-50</text>
<text x="55.90" y="98.75" text-anchor="end">0</text>
<text x="55.90" y="59.90" text-anchor="end">50</text>
<text x="55.90" y="21.05" text-anchor="end">100</text>
<text x="61.50" y="404.60" text-anchor="middle">0</text>
<text x="119.97" y="404.60" text-anchor="middle">500</text>
<text x="178.45" y="404.60" text-anchor="middle">1000</text>
<text x="236.92" y="404.60" text-anchor="middle">1500</text>
<text x="295.40" y="404.60" text-anchor="middle">2000</text>
<text x="353.87" y="404.60" text-anchor="middle">2500</text>
<text x="412.35" y="404.60" text-anchor="middle">3000</text>
<text x="470.82" y="404.60" text-anchor="middle">3500</text>
<text x="529.30" y="404.60" text-anchor="middle">4000</text>
<text x="55.90" y="383.40" text-anchor="end">-1000</text>
<text x="55.90" y="348.40" text-anchor="end">-500</text>
<text x="55.90" y="313.40" text-anchor="end">0</text>
<text x="55.90" y="278.40" text-anchor="end">500</text>
<text x="55.90" y="243.40" text-anchor="end">1000</text>
</g>
<text class="yl" transform="translate(24.1 93.8) rotate(-90)" text-anchor="middle" style="font-size:14.7px">Acceleration(m/s<tspan dy="-5.9" font-size="10.3px">2</tspan><tspan dy="5.9">)</tspan></text>
<text class="yl" transform="translate(17.6 309.2) rotate(-90)" text-anchor="middle">Gyroscope(degree/second)</text>
<g class="lg">
<rect x="437.6" y="24.5" width="80.0" height="49.4" fill="#fff" stroke="#262626" stroke-width="1.3"/>
<path d="M441.2 34.5h43.4" stroke="#ff0000" stroke-width="1.5"/>
<path d="M441.2 49.6h43.4" stroke="#00ff00" stroke-width="1.5"/>
<path d="M441.2 65.9h43.4" stroke="#0000ff" stroke-width="1.5"/>
<text x="488.2" y="38.1">Accx</text>
<text x="488.2" y="53.4">Accy</text>
<text x="488.2" y="69.2">Accz</text>
<rect x="432.0" y="241.0" width="85.6" height="49.2" fill="#fff" stroke="#262626" stroke-width="1.3"/>
<path d="M436.3 250.6h43.3" stroke="#ff0000" stroke-width="1.5"/>
<path d="M436.3 266.0h43.3" stroke="#00ff00" stroke-width="1.5"/>
<path d="M436.3 282.1h43.3" stroke="#0000ff" stroke-width="1.5"/>
<text x="483.0" y="254.3">Gyrox</text>
<text x="483.0" y="269.4">Gyroy</text>
<text x="483.0" y="284.9">Gyroz</text>
</g>
</g>
</svg>
</body></html>
